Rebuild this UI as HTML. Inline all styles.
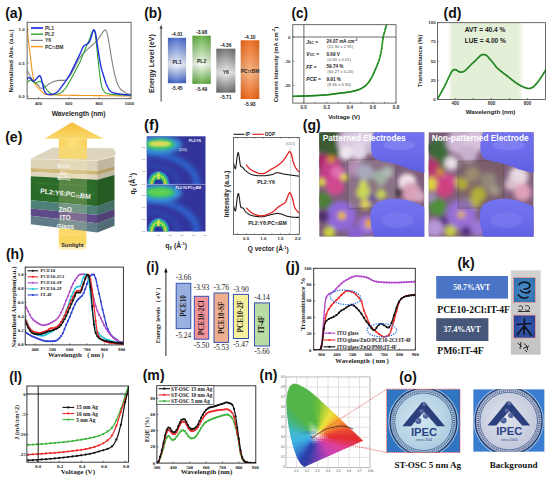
<!DOCTYPE html>
<html><head><meta charset="utf-8"><style>
html,body{margin:0;padding:0;background:#fff;width:550px;height:479px;overflow:hidden;}
svg{display:block;}

</style></head><body>
<svg width="550" height="479" viewBox="0 0 550 479"><defs><clipPath id="ca"><rect x="27.1" y="22.3" width="104.0" height="76.4"/></clipPath><linearGradient id="gb1" x1="0" y1="0" x2="0" y2="1"><stop offset="0" stop-color="#4468cc"/><stop offset="0.6" stop-color="#eef2fb"/><stop offset="1" stop-color="#3a5cc4"/></linearGradient><linearGradient id="gb2" x1="0" y1="0" x2="0" y2="1"><stop offset="0" stop-color="#5fae3e"/><stop offset="0.6" stop-color="#f2f9ec"/><stop offset="1" stop-color="#5aa83a"/></linearGradient><linearGradient id="gb3" x1="0" y1="0" x2="0" y2="1"><stop offset="0" stop-color="#6e6e6e"/><stop offset="0.55" stop-color="#ececec"/><stop offset="1" stop-color="#666666"/></linearGradient><linearGradient id="gb4" x1="0" y1="0" x2="0" y2="1"><stop offset="0" stop-color="#ef6616"/><stop offset="0.55" stop-color="#f8b07a"/><stop offset="1" stop-color="#ef5f10"/></linearGradient><linearGradient id="gbh" x1="0" y1="0" x2="1" y2="0"><stop offset="0" stop-color="#000" stop-opacity="0.10"/><stop offset="0.5" stop-color="#fff" stop-opacity="0.10"/><stop offset="1" stop-color="#000" stop-opacity="0.10"/></linearGradient><clipPath id="cc"><rect x="292.8" y="24.7" width="103.19999999999999" height="78.39999999999999"/></clipPath><clipPath id="cd"><rect x="437.4" y="22.7" width="108.20000000000005" height="76.8"/></clipPath><linearGradient id="gshade" x1="0" y1="0" x2="1" y2="0"><stop offset="0" stop-color="#e4efd8" stop-opacity="0"/><stop offset="0.06" stop-color="#e4efd8"/><stop offset="0.94" stop-color="#e4efd8"/><stop offset="1" stop-color="#e4efd8" stop-opacity="0"/></linearGradient><linearGradient id="garr" x1="0" y1="0" x2="0" y2="1"><stop offset="0" stop-color="#f5bf3c"/><stop offset="1" stop-color="#f9d86a"/></linearGradient><linearGradient id="gshaft" x1="0" y1="0" x2="1" y2="0"><stop offset="0" stop-color="#f9d35a"/><stop offset="0.5" stop-color="#fbe07a"/><stop offset="1" stop-color="#f9d35a"/></linearGradient><linearGradient id="gsun" x1="0" y1="0" x2="0" y2="1"><stop offset="0" stop-color="#f8d050"/><stop offset="0.75" stop-color="#fad860"/><stop offset="1" stop-color="#fde9a0" stop-opacity="0.4"/></linearGradient><filter id="blur1" x="-20%" y="-20%" width="140%" height="140%"><feGaussianBlur stdDeviation="1.2"/></filter><filter id="blur2" x="-20%" y="-20%" width="140%" height="140%"><feGaussianBlur stdDeviation="2.2"/></filter><filter id="blur05"><feGaussianBlur stdDeviation="0.6"/></filter><clipPath id="cf1"><rect x="146.8" y="136.3" width="58.69999999999999" height="48.099999999999994"/></clipPath><clipPath id="cf2"><rect x="146.8" y="184.4" width="58.69999999999999" height="47.0"/></clipPath><clipPath id="cfr"><rect x="233.5" y="137.4" width="65.80000000000001" height="97.1"/></clipPath><filter id="pblur" x="-10%" y="-10%" width="120%" height="120%"><feGaussianBlur stdDeviation="2.0"/></filter><filter id="pblur2" x="-10%" y="-10%" width="120%" height="120%"><feGaussianBlur stdDeviation="2.6"/></filter><filter id="gblur" x="-10%" y="-10%" width="120%" height="120%"><feGaussianBlur stdDeviation="0.5"/></filter><linearGradient id="glove" x1="0" y1="0" x2="0" y2="1"><stop offset="0" stop-color="#7474f0"/><stop offset="0.5" stop-color="#6c6cec"/><stop offset="1" stop-color="#5e5ee0"/></linearGradient><clipPath id="cg1"><rect x="319.2" y="132.2" width="105.2" height="104.5"/></clipPath><clipPath id="cg2"><rect x="428.5" y="132.2" width="105.2" height="104.5"/></clipPath><clipPath id="ch"><rect x="25.2" y="267.1" width="98.2" height="77.79999999999995"/></clipPath><clipPath id="cj"><rect x="313.7" y="268.3" width="101.60000000000002" height="81.69999999999999"/></clipPath><linearGradient id="gstrip" x1="0" y1="0" x2="0" y2="1"><stop offset="0" stop-color="#d2d2d0"/><stop offset="1" stop-color="#c4c4c2"/></linearGradient><radialGradient id="gsq1" cx="0.5" cy="0.5" r="0.7"><stop offset="0" stop-color="#4a90cc"/><stop offset="1" stop-color="#2c6aa8"/></radialGradient><radialGradient id="gsq2" cx="0.5" cy="0.5" r="0.7"><stop offset="0" stop-color="#3a62b8"/><stop offset="1" stop-color="#243e90"/></radialGradient><clipPath id="cl"><rect x="26.9" y="386.0" width="101.69999999999999" height="76.19999999999999"/></clipPath><clipPath id="cm"><rect x="156.9" y="385.8" width="98.9" height="77.30000000000001"/></clipPath><clipPath id="ccie"><path d="M304.28,466.90 L304.25,466.91 L304.20,466.92 L304.12,466.92 L304.00,466.89 L303.73,466.71 L303.26,466.30 L302.44,465.62 L301.12,464.42 L299.03,461.59 L297.51,458.68 L295.59,454.06 L293.21,447.23 L290.77,437.75 L288.47,425.92 L286.86,413.29 L286.41,401.59 L287.46,392.00 L290.08,385.79 L293.80,383.60 L297.99,384.37 L302.24,386.41 L306.25,388.85 L310.11,391.59 L313.91,394.61 L317.67,397.82 L321.42,401.18 L325.18,404.64 L328.91,408.15 L332.63,411.65 L336.27,415.12 L339.81,418.50 L343.20,421.73 L346.40,424.77 L349.30,427.55 L351.83,429.96 L354.06,432.08 L355.91,433.83 L357.41,435.27 L358.61,436.42 L359.56,437.32 L360.33,438.05 L360.97,438.67 L361.50,439.17 L361.91,439.56 L362.23,439.86 L362.47,440.09 L362.65,440.26 L363.14,440.74Z"/></clipPath><radialGradient id="gbadge1" cx="0.45" cy="0.45" r="0.6"><stop offset="0" stop-color="#d2e8f2"/><stop offset="1" stop-color="#a6c6dc"/></radialGradient><radialGradient id="gbadge2" cx="0.45" cy="0.45" r="0.6"><stop offset="0" stop-color="#e0e4ee"/><stop offset="1" stop-color="#bcc2d8"/></radialGradient><clipPath id="co1"><rect x="386.6" y="389.2" width="73.4" height="63.3"/></clipPath><clipPath id="co2"><rect x="473.2" y="389.2" width="71.4" height="62.6"/></clipPath></defs><text x="5.20" y="12.80" font-size="14.2" font-weight="bold" fill="#111" font-family='"Liberation Sans", sans-serif' dominant-baseline="central" textLength="17.20" lengthAdjust="spacingAndGlyphs">(a)</text>
<path d="M26.80,69.03 L27.33,70.39 L27.85,71.66 L28.38,72.83 L28.90,73.91 L29.42,74.93 L29.95,75.88 L30.47,76.78 L31.00,77.62 L31.52,78.41 L32.05,79.16 L32.57,79.88 L33.10,80.55 L33.62,81.18 L34.14,81.76 L34.67,82.28 L35.19,82.76 L35.72,83.21 L36.24,83.64 L36.77,84.07 L37.29,84.51 L37.82,84.97 L38.34,85.51 L38.86,86.15 L39.39,86.82 L39.91,87.44 L40.44,87.94 L40.96,88.25 L41.49,88.32 L42.01,88.25 L42.54,88.13 L43.06,87.96 L43.58,87.77 L44.11,87.56 L44.63,87.25 L45.16,86.84 L45.68,86.40 L46.21,85.97 L46.73,85.58 L47.26,85.21 L47.78,84.84 L48.30,84.48 L48.83,84.12 L49.35,83.78 L49.88,83.46 L50.40,83.16 L50.93,82.89 L51.45,82.62 L51.98,82.36 L52.50,82.11 L53.02,81.87 L53.55,81.65 L54.07,81.45 L54.60,81.27 L55.12,81.11 L55.65,80.98 L56.17,80.86 L56.70,80.75 L57.22,80.64 L57.74,80.54 L58.27,80.45 L58.79,80.39 L59.32,80.35 L59.84,80.34 L60.37,80.34 L60.89,80.34 L61.42,80.34 L61.94,80.34 L62.46,80.34 L62.99,80.34 L63.51,80.34 L64.04,80.34 L64.56,80.32 L65.09,80.19 L65.61,79.94 L66.14,79.60 L66.66,79.18 L67.18,78.70 L67.71,78.18 L68.23,77.64 L68.76,77.11 L69.28,76.54 L69.81,75.88 L70.33,75.12 L70.86,74.29 L71.38,73.40 L71.90,72.46 L72.43,71.50 L72.95,70.53 L73.48,69.57 L74.00,68.62 L74.53,67.68 L75.05,66.68 L75.57,65.64 L76.10,64.57 L76.62,63.48 L77.15,62.41 L77.67,61.35 L78.20,60.34 L78.72,59.37 L79.25,58.49 L79.77,57.69 L80.29,56.95 L80.82,56.25 L81.34,55.59 L81.87,54.95 L82.39,54.34 L82.92,53.75 L83.44,53.18 L83.97,52.63 L84.49,52.09 L85.01,51.55 L85.54,51.03 L86.06,50.52 L86.59,50.03 L87.11,49.56 L87.64,49.11 L88.16,48.66 L88.69,48.22 L89.21,47.79 L89.73,47.35 L90.26,46.90 L90.78,46.44 L91.31,45.97 L91.83,45.49 L92.36,45.00 L92.88,44.52 L93.41,44.04 L93.93,43.55 L94.45,43.06 L94.98,42.55 L95.50,42.03 L96.03,41.50 L96.55,40.94 L97.08,40.36 L97.60,39.76 L98.13,39.11 L98.65,38.41 L99.17,37.68 L99.70,36.92 L100.22,36.14 L100.75,35.36 L101.27,34.59 L101.80,33.81 L102.32,32.98 L102.85,32.17 L103.37,31.44 L103.89,30.84 L104.42,30.23 L104.94,29.84 L105.47,29.92 L105.99,30.55 L106.52,31.51 L107.04,32.85 L107.57,35.06 L108.09,37.75 L108.61,40.49 L109.14,43.53 L109.66,46.84 L110.19,50.18 L110.71,53.36 L111.24,56.55 L111.76,59.70 L112.29,62.73 L112.81,65.55 L113.33,68.25 L113.86,70.85 L114.38,73.29 L114.91,75.49 L115.43,77.44 L115.96,79.27 L116.48,80.99 L117.01,82.55 L117.53,83.93 L118.05,85.09 L118.58,86.12 L119.10,87.06 L119.63,87.91 L120.15,88.65 L120.68,89.29 L121.20,89.80 L121.73,90.22 L122.25,90.57 L122.77,90.89 L123.30,91.21 L123.82,91.57 L124.35,91.96 L124.87,92.36 L125.40,92.75 L125.92,93.11 L126.45,93.40 L126.97,93.61 L127.49,93.75 L128.02,93.88 L128.54,93.99 L129.07,94.10 L129.59,94.18 L130.12,94.25 L130.64,94.29 L131.16,94.30" fill="none" stroke="#808080" stroke-width="1.1" stroke-linejoin="round" stroke-linecap="round" opacity="1" clip-path="url(#ca)" />
<path d="M26.80,23.15 L27.33,29.23 L27.85,34.84 L28.38,39.91 L28.90,44.56 L29.42,48.94 L29.95,52.99 L30.47,56.87 L31.00,61.30 L31.52,66.18 L32.05,70.67 L32.57,73.98 L33.10,76.69 L33.62,79.07 L34.14,81.07 L34.67,82.64 L35.19,83.80 L35.72,84.78 L36.24,85.61 L36.77,86.34 L37.29,87.00 L37.82,87.62 L38.34,88.21 L38.86,88.74 L39.39,89.23 L39.91,89.69 L40.44,90.15 L40.96,90.63 L41.49,91.15 L42.01,91.74 L42.54,92.37 L43.06,92.96 L43.58,93.44 L44.11,93.76 L44.63,94.02 L45.16,94.25 L45.68,94.44 L46.21,94.58 L46.73,94.65 L47.26,94.69 L47.78,94.73 L48.30,94.77 L48.83,94.80 L49.35,94.82 L49.88,94.85 L50.40,94.87 L50.93,94.89 L51.45,94.90 L51.98,94.92 L52.50,94.93 L53.02,94.95 L53.55,94.96 L54.07,94.98 L54.60,95.00 L55.12,95.01 L55.65,95.03 L56.17,95.04 L56.70,95.06 L57.22,95.07 L57.74,95.08 L58.27,95.10 L58.79,95.11 L59.32,95.12 L59.84,95.13 L60.37,95.15 L60.89,95.16 L61.42,95.17 L61.94,95.18 L62.46,95.19 L62.99,95.20 L63.51,95.21 L64.04,95.22 L64.56,95.23 L65.09,95.24 L65.61,95.25 L66.14,95.26 L66.66,95.27 L67.18,95.28 L67.71,95.28 L68.23,95.29 L68.76,95.30 L69.28,95.31 L69.81,95.32 L70.33,95.32 L70.86,95.33 L71.38,95.34 L71.90,95.35 L72.43,95.35 L72.95,95.36 L73.48,95.37 L74.00,95.37 L74.53,95.38 L75.05,95.39 L75.57,95.39 L76.10,95.40 L76.62,95.41 L77.15,95.41 L77.67,95.42 L78.20,95.42 L78.72,95.43 L79.25,95.44 L79.77,95.44 L80.29,95.45 L80.82,95.45 L81.34,95.46 L81.87,95.46 L82.39,95.47 L82.92,95.48 L83.44,95.48 L83.97,95.49 L84.49,95.49 L85.01,95.50 L85.54,95.50 L86.06,95.51 L86.59,95.51 L87.11,95.52 L87.64,95.52 L88.16,95.53 L88.69,95.53 L89.21,95.54 L89.73,95.54 L90.26,95.55 L90.78,95.55 L91.31,95.56 L91.83,95.56 L92.36,95.57 L92.88,95.57 L93.41,95.58 L93.93,95.58 L94.45,95.59 L94.98,95.59 L95.50,95.60 L96.03,95.60 L96.55,95.61 L97.08,95.61 L97.60,95.62 L98.13,95.62 L98.65,95.63 L99.17,95.64 L99.70,95.64 L100.22,95.65 L100.75,95.65 L101.27,95.66 L101.80,95.66 L102.32,95.67 L102.85,95.67 L103.37,95.68 L103.89,95.69 L104.42,95.69 L104.94,95.70 L105.47,95.70 L105.99,95.71 L106.52,95.71 L107.04,95.72 L107.57,95.72 L108.09,95.73 L108.61,95.74 L109.14,95.74 L109.66,95.75 L110.19,95.75 L110.71,95.76 L111.24,95.76 L111.76,95.77 L112.29,95.77 L112.81,95.78 L113.33,95.79 L113.86,95.79 L114.38,95.80 L114.91,95.80 L115.43,95.81 L115.96,95.81 L116.48,95.82 L117.01,95.82 L117.53,95.83 L118.05,95.83 L118.58,95.84 L119.10,95.84 L119.63,95.85 L120.15,95.86 L120.68,95.86 L121.20,95.87 L121.73,95.87 L122.25,95.88 L122.77,95.88 L123.30,95.89 L123.82,95.89 L124.35,95.90 L124.87,95.90 L125.40,95.91 L125.92,95.91 L126.45,95.92 L126.97,95.93 L127.49,95.93 L128.02,95.94 L128.54,95.94 L129.07,95.95 L129.59,95.95 L130.12,95.96 L130.64,95.96 L131.16,95.97" fill="none" stroke="#f7941d" stroke-width="1.1" stroke-linejoin="round" stroke-linecap="round" opacity="1" clip-path="url(#ca)" />
<path d="M26.80,83.00 L27.33,82.37 L27.85,81.80 L28.38,81.31 L28.90,80.91 L29.42,80.52 L29.95,80.19 L30.47,80.01 L31.00,80.11 L31.52,80.47 L32.05,80.94 L32.57,81.35 L33.10,81.75 L33.62,82.20 L34.14,82.61 L34.67,82.91 L35.19,83.00 L35.72,82.91 L36.24,82.72 L36.77,82.48 L37.29,82.23 L37.82,82.01 L38.34,81.82 L38.86,81.60 L39.39,81.40 L39.91,81.26 L40.44,81.20 L40.96,81.42 L41.49,81.92 L42.01,82.56 L42.54,83.18 L43.06,83.90 L43.58,84.72 L44.11,85.60 L44.63,86.48 L45.16,87.30 L45.68,88.04 L46.21,88.78 L46.73,89.52 L47.26,90.24 L47.78,90.91 L48.30,91.51 L48.83,92.02 L49.35,92.43 L49.88,92.80 L50.40,93.16 L50.93,93.49 L51.45,93.77 L51.98,93.98 L52.50,94.13 L53.02,94.19 L53.55,94.23 L54.07,94.26 L54.60,94.29 L55.12,94.30 L55.65,94.30 L56.17,94.27 L56.70,94.21 L57.22,94.10 L57.74,93.97 L58.27,93.82 L58.79,93.65 L59.32,93.47 L59.84,93.28 L60.37,93.05 L60.89,92.74 L61.42,92.37 L61.94,91.96 L62.46,91.49 L62.99,91.00 L63.51,90.48 L64.04,89.94 L64.56,89.38 L65.09,88.75 L65.61,88.06 L66.14,87.31 L66.66,86.50 L67.18,85.66 L67.71,84.79 L68.23,83.89 L68.76,82.98 L69.28,82.08 L69.81,81.18 L70.33,80.28 L70.86,79.35 L71.38,78.40 L71.90,77.42 L72.43,76.43 L72.95,75.43 L73.48,74.43 L74.00,73.42 L74.53,72.41 L75.05,71.41 L75.57,70.42 L76.10,69.44 L76.62,68.46 L77.15,67.48 L77.67,66.49 L78.20,65.48 L78.72,64.45 L79.25,63.39 L79.77,62.30 L80.29,61.17 L80.82,59.98 L81.34,58.74 L81.87,57.47 L82.39,56.16 L82.92,54.84 L83.44,53.51 L83.97,52.18 L84.49,50.86 L85.01,49.57 L85.54,48.30 L86.06,47.06 L86.59,45.84 L87.11,44.64 L87.64,43.43 L88.16,42.23 L88.69,41.01 L89.21,39.77 L89.73,38.50 L90.26,37.17 L90.78,35.72 L91.31,34.22 L91.83,32.83 L92.36,31.67 L92.88,30.53 L93.41,29.82 L93.93,30.04 L94.45,30.88 L94.98,32.15 L95.50,35.32 L96.03,39.95 L96.55,44.66 L97.08,49.88 L97.60,55.40 L98.13,60.50 L98.65,65.25 L99.17,69.80 L99.70,74.05 L100.22,77.91 L100.75,81.58 L101.27,84.57 L101.80,86.67 L102.32,88.37 L102.85,89.59 L103.37,90.44 L103.89,91.19 L104.42,91.82 L104.94,92.34 L105.47,92.74 L105.99,93.01 L106.52,93.22 L107.04,93.42 L107.57,93.59 L108.09,93.74 L108.61,93.87 L109.14,93.99 L109.66,94.09 L110.19,94.17 L110.71,94.25 L111.24,94.31 L111.76,94.36 L112.29,94.41 L112.81,94.46 L113.33,94.51 L113.86,94.55 L114.38,94.59 L114.91,94.62 L115.43,94.66 L115.96,94.69 L116.48,94.72 L117.01,94.75 L117.53,94.78 L118.05,94.80 L118.58,94.83 L119.10,94.85 L119.63,94.87 L120.15,94.90 L120.68,94.92 L121.20,94.94 L121.73,94.97 L122.25,94.99 L122.77,95.01 L123.30,95.04 L123.82,95.06 L124.35,95.08 L124.87,95.10 L125.40,95.12 L125.92,95.14 L126.45,95.16 L126.97,95.18 L127.49,95.20 L128.02,95.22 L128.54,95.23 L129.07,95.25 L129.59,95.26 L130.12,95.28 L130.64,95.29 L131.16,95.30" fill="none" stroke="#2ca02c" stroke-width="1.1" stroke-linejoin="round" stroke-linecap="round" opacity="1" clip-path="url(#ca)" />
<path d="M26.80,79.67 L27.33,78.73 L27.85,78.02 L28.38,77.69 L28.90,77.74 L29.42,77.92 L29.95,78.17 L30.47,78.46 L31.00,78.96 L31.52,79.61 L32.05,80.29 L32.57,80.85 L33.10,81.17 L33.62,81.16 L34.14,80.94 L34.67,80.58 L35.19,80.11 L35.72,79.60 L36.24,79.09 L36.77,78.54 L37.29,77.86 L37.82,77.17 L38.34,76.57 L38.86,76.15 L39.39,75.80 L39.91,75.71 L40.44,76.38 L40.96,77.55 L41.49,79.16 L42.01,81.39 L42.54,83.67 L43.06,86.18 L43.58,88.56 L44.11,90.27 L44.63,91.65 L45.16,92.67 L45.68,93.23 L46.21,93.64 L46.73,93.96 L47.26,94.19 L47.78,94.33 L48.30,94.42 L48.83,94.50 L49.35,94.55 L49.88,94.57 L50.40,94.56 L50.93,94.54 L51.45,94.49 L51.98,94.44 L52.50,94.37 L53.02,94.30 L53.55,94.17 L54.07,93.98 L54.60,93.72 L55.12,93.42 L55.65,93.08 L56.17,92.72 L56.70,92.35 L57.22,91.94 L57.74,91.47 L58.27,90.93 L58.79,90.34 L59.32,89.71 L59.84,89.03 L60.37,88.34 L60.89,87.62 L61.42,86.89 L61.94,86.17 L62.46,85.45 L62.99,84.74 L63.51,84.04 L64.04,83.32 L64.56,82.60 L65.09,81.86 L65.61,81.11 L66.14,80.35 L66.66,79.57 L67.18,78.78 L67.71,77.97 L68.23,77.14 L68.76,76.29 L69.28,75.42 L69.81,74.53 L70.33,73.61 L70.86,72.64 L71.38,71.63 L71.90,70.58 L72.43,69.51 L72.95,68.42 L73.48,67.33 L74.00,66.23 L74.53,65.15 L75.05,64.07 L75.57,63.00 L76.10,61.92 L76.62,60.83 L77.15,59.74 L77.67,58.65 L78.20,57.56 L78.72,56.47 L79.25,55.38 L79.77,54.30 L80.29,53.21 L80.82,52.01 L81.34,50.75 L81.87,49.50 L82.39,48.31 L82.92,47.25 L83.44,46.38 L83.97,45.77 L84.49,45.37 L85.01,45.06 L85.54,44.80 L86.06,44.53 L86.59,44.24 L87.11,43.99 L87.64,43.72 L88.16,43.39 L88.69,42.92 L89.21,42.13 L89.73,41.05 L90.26,39.78 L90.78,38.44 L91.31,36.77 L91.83,34.75 L92.36,32.86 L92.88,31.50 L93.41,30.37 L93.93,29.80 L94.45,30.27 L94.98,31.48 L95.50,33.14 L96.03,36.16 L96.55,39.89 L97.08,43.34 L97.60,46.79 L98.13,50.28 L98.65,53.67 L99.17,56.83 L99.70,59.87 L100.22,62.82 L100.75,65.55 L101.27,67.97 L101.80,70.01 L102.32,71.81 L102.85,73.46 L103.37,75.06 L103.89,76.68 L104.42,78.39 L104.94,80.11 L105.47,81.78 L105.99,83.32 L106.52,84.67 L107.04,85.82 L107.57,86.93 L108.09,87.99 L108.61,88.96 L109.14,89.83 L109.66,90.55 L110.19,91.11 L110.71,91.49 L111.24,91.81 L111.76,92.09 L112.29,92.33 L112.81,92.54 L113.33,92.72 L113.86,92.87 L114.38,93.02 L114.91,93.15 L115.43,93.27 L115.96,93.39 L116.48,93.50 L117.01,93.61 L117.53,93.71 L118.05,93.80 L118.58,93.89 L119.10,93.97 L119.63,94.04 L120.15,94.12 L120.68,94.18 L121.20,94.24 L121.73,94.30 L122.25,94.35 L122.77,94.41 L123.30,94.46 L123.82,94.51 L124.35,94.56 L124.87,94.61 L125.40,94.65 L125.92,94.70 L126.45,94.74 L126.97,94.78 L127.49,94.82 L128.02,94.85 L128.54,94.88 L129.07,94.91 L129.59,94.93 L130.12,94.95 L130.64,94.96 L131.16,94.97" fill="none" stroke="#1f2fe0" stroke-width="1.4" stroke-linejoin="round" stroke-linecap="round" opacity="1" clip-path="url(#ca)" />
<rect x="27.10" y="22.30" width="104.00" height="76.40" fill="none" stroke="#555" stroke-width="0.9" />
<line x1="38.60" y1="98.70" x2="38.60" y2="97.20" stroke="#333" stroke-width="0.6" />
<line x1="68.85" y1="98.70" x2="68.85" y2="97.20" stroke="#333" stroke-width="0.6" />
<line x1="99.10" y1="98.70" x2="99.10" y2="97.20" stroke="#333" stroke-width="0.6" />
<line x1="129.35" y1="98.70" x2="129.35" y2="97.20" stroke="#333" stroke-width="0.6" />
<line x1="27.10" y1="96.30" x2="28.60" y2="96.30" stroke="#333" stroke-width="0.6" />
<line x1="27.10" y1="63.05" x2="28.60" y2="63.05" stroke="#333" stroke-width="0.6" />
<line x1="27.10" y1="29.80" x2="28.60" y2="29.80" stroke="#333" stroke-width="0.6" />
<text x="38.60" y="103.80" font-size="4.4" font-weight="bold" text-anchor="middle" fill="#333" font-family='"Liberation Sans", sans-serif' dominant-baseline="central" >400</text>
<text x="68.85" y="103.80" font-size="4.4" font-weight="bold" text-anchor="middle" fill="#333" font-family='"Liberation Sans", sans-serif' dominant-baseline="central" >600</text>
<text x="99.10" y="103.80" font-size="4.4" font-weight="bold" text-anchor="middle" fill="#333" font-family='"Liberation Sans", sans-serif' dominant-baseline="central" >800</text>
<text x="129.35" y="103.80" font-size="4.4" font-weight="bold" text-anchor="middle" fill="#333" font-family='"Liberation Sans", sans-serif' dominant-baseline="central" >1000</text>
<text x="24.60" y="96.30" font-size="4.4" font-weight="bold" text-anchor="end" fill="#333" font-family='"Liberation Sans", sans-serif' dominant-baseline="central" >0.0</text>
<text x="24.60" y="63.05" font-size="4.4" font-weight="bold" text-anchor="end" fill="#333" font-family='"Liberation Sans", sans-serif' dominant-baseline="central" >0.5</text>
<text x="24.60" y="29.80" font-size="4.4" font-weight="bold" text-anchor="end" fill="#333" font-family='"Liberation Sans", sans-serif' dominant-baseline="central" >1.0</text>
<text x="78.60" y="113.50" font-size="6.7" font-weight="bold" text-anchor="middle" fill="#222" font-family='"Liberation Sans", sans-serif' dominant-baseline="central" >Wavelength (nm)</text>
<text x="10.50" y="61.00" font-size="6.0" font-weight="bold" text-anchor="middle" fill="#222" font-family='"Liberation Sans", sans-serif' dominant-baseline="central" transform="rotate(-90 10.5 61)" >Normalized Abs. (a.u.)</text>
<line x1="31.00" y1="28.00" x2="43.00" y2="28.00" stroke="#1f2fe0" stroke-width="1.7" />
<text x="44.90" y="28.00" font-size="5.0" font-weight="bold" text-anchor="start" fill="#333" font-family='"Liberation Sans", sans-serif' dominant-baseline="central" >PL1</text>
<line x1="31.00" y1="34.20" x2="43.00" y2="34.20" stroke="#2ca02c" stroke-width="1.4000000000000001" />
<text x="44.90" y="34.20" font-size="5.0" font-weight="bold" text-anchor="start" fill="#333" font-family='"Liberation Sans", sans-serif' dominant-baseline="central" >PL2</text>
<line x1="31.00" y1="40.40" x2="43.00" y2="40.40" stroke="#7f7f7f" stroke-width="1.2" />
<text x="44.90" y="40.40" font-size="5.0" font-weight="bold" text-anchor="start" fill="#333" font-family='"Liberation Sans", sans-serif' dominant-baseline="central" >Y6</text>
<line x1="31.00" y1="46.60" x2="43.00" y2="46.60" stroke="#f7941d" stroke-width="1.4000000000000001" />
<text x="44.90" y="46.60" font-size="5.0" font-weight="bold" text-anchor="start" fill="#333" font-family='"Liberation Sans", sans-serif' dominant-baseline="central" >PC<tspan font-size="3.5" dy="1">71</tspan><tspan dy="-1">BM</tspan></text>
<text x="144.20" y="12.80" font-size="14.2" font-weight="bold" fill="#111" font-family='"Liberation Sans", sans-serif' dominant-baseline="central" textLength="17.60" lengthAdjust="spacingAndGlyphs">(b)</text>
<line x1="161.10" y1="101.60" x2="161.10" y2="27.50" stroke="#444" stroke-width="1.0" />
<path d="M161.1,24.8 L159.5,28.8 L162.7,28.8Z" fill="#444"/>
<text x="151.60" y="63.60" font-size="7.0" font-weight="bold" text-anchor="middle" fill="#222" font-family='"Liberation Sans", sans-serif' dominant-baseline="central" transform="rotate(-90 151.6 63.6)" >Energy Level (eV)</text>
<rect x="167.90" y="37.80" width="18.20" height="45.40" fill="url(#gb1)" stroke="none" stroke-width="1" />
<rect x="167.90" y="37.80" width="18.20" height="45.40" fill="url(#gbh)" stroke="none" stroke-width="1" />
<text x="177.00" y="34.50" font-size="4.9" font-weight="bold" text-anchor="middle" fill="#222" font-family='"Liberation Sans", sans-serif' dominant-baseline="central" >-4.01</text>
<text x="177.00" y="88.40" font-size="4.9" font-weight="bold" text-anchor="middle" fill="#222" font-family='"Liberation Sans", sans-serif' dominant-baseline="central" >-5.45</text>
<text x="177.00" y="62.00" font-size="5.0" font-weight="bold" text-anchor="middle" fill="#2a2a2a" font-family='"Liberation Sans", sans-serif' dominant-baseline="central" >PL1</text>
<rect x="192.40" y="35.70" width="18.40" height="48.20" fill="url(#gb2)" stroke="none" stroke-width="1" />
<rect x="192.40" y="35.70" width="18.40" height="48.20" fill="url(#gbh)" stroke="none" stroke-width="1" />
<text x="201.60" y="32.40" font-size="4.9" font-weight="bold" text-anchor="middle" fill="#222" font-family='"Liberation Sans", sans-serif' dominant-baseline="central" >-3.98</text>
<text x="201.60" y="89.10" font-size="4.9" font-weight="bold" text-anchor="middle" fill="#222" font-family='"Liberation Sans", sans-serif' dominant-baseline="central" >-5.49</text>
<text x="201.60" y="61.30" font-size="5.0" font-weight="bold" text-anchor="middle" fill="#2a2a2a" font-family='"Liberation Sans", sans-serif' dominant-baseline="central" >PL2</text>
<rect x="216.30" y="48.70" width="19.10" height="43.90" fill="url(#gb3)" stroke="none" stroke-width="1" />
<rect x="216.30" y="48.70" width="19.10" height="43.90" fill="url(#gbh)" stroke="none" stroke-width="1" />
<text x="225.85" y="45.40" font-size="4.9" font-weight="bold" text-anchor="middle" fill="#222" font-family='"Liberation Sans", sans-serif' dominant-baseline="central" >-4.36</text>
<text x="225.85" y="97.80" font-size="4.9" font-weight="bold" text-anchor="middle" fill="#222" font-family='"Liberation Sans", sans-serif' dominant-baseline="central" >-5.71</text>
<text x="225.85" y="72.15" font-size="5.0" font-weight="bold" text-anchor="middle" fill="#2a2a2a" font-family='"Liberation Sans", sans-serif' dominant-baseline="central" >Y6</text>
<rect x="240.70" y="40.30" width="18.60" height="58.70" fill="url(#gb4)" stroke="none" stroke-width="1" />
<rect x="240.70" y="40.30" width="18.60" height="58.70" fill="url(#gbh)" stroke="none" stroke-width="1" />
<text x="250.00" y="37.00" font-size="4.9" font-weight="bold" text-anchor="middle" fill="#222" font-family='"Liberation Sans", sans-serif' dominant-baseline="central" >-4.10</text>
<text x="250.00" y="104.20" font-size="4.9" font-weight="bold" text-anchor="middle" fill="#222" font-family='"Liberation Sans", sans-serif' dominant-baseline="central" >-5.93</text>
<text x="250.00" y="71.15" font-size="5.0" font-weight="bold" text-anchor="middle" fill="#2a2a2a" font-family='"Liberation Sans", sans-serif' dominant-baseline="central" >PC<tspan font-size="3.6" dy="1">71</tspan><tspan dy="-1">BM</tspan></text>
<text x="291.40" y="12.80" font-size="14.2" font-weight="bold" fill="#111" font-family='"Liberation Sans", sans-serif' dominant-baseline="central" textLength="16.50" lengthAdjust="spacingAndGlyphs">(c)</text>
<path d="M292.16,96.29 L292.64,96.29 L293.11,96.28 L293.59,96.27 L294.06,96.27 L294.54,96.26 L295.01,96.25 L295.49,96.24 L295.96,96.24 L296.44,96.23 L296.92,96.22 L297.39,96.21 L297.87,96.20 L298.34,96.19 L298.82,96.18 L299.29,96.16 L299.77,96.15 L300.24,96.14 L300.72,96.13 L301.19,96.12 L301.67,96.10 L302.15,96.09 L302.62,96.08 L303.10,96.07 L303.57,96.05 L304.05,96.04 L304.52,96.02 L305.00,96.01 L305.47,95.99 L305.95,95.98 L306.43,95.96 L306.90,95.94 L307.38,95.92 L307.85,95.91 L308.33,95.89 L308.80,95.87 L309.28,95.85 L309.75,95.83 L310.23,95.80 L310.71,95.78 L311.18,95.76 L311.66,95.74 L312.13,95.72 L312.61,95.69 L313.08,95.67 L313.56,95.65 L314.03,95.62 L314.51,95.60 L314.98,95.58 L315.46,95.55 L315.94,95.53 L316.41,95.50 L316.89,95.48 L317.36,95.45 L317.84,95.43 L318.31,95.40 L318.79,95.38 L319.26,95.35 L319.74,95.32 L320.22,95.29 L320.69,95.27 L321.17,95.24 L321.64,95.21 L322.12,95.18 L322.59,95.15 L323.07,95.11 L323.54,95.08 L324.02,95.05 L324.50,95.01 L324.97,94.98 L325.45,94.94 L325.92,94.90 L326.40,94.87 L326.87,94.83 L327.35,94.78 L327.82,94.74 L328.30,94.69 L328.77,94.64 L329.25,94.59 L329.73,94.53 L330.20,94.47 L330.68,94.41 L331.15,94.35 L331.63,94.29 L332.10,94.23 L332.58,94.16 L333.05,94.10 L333.53,94.03 L334.01,93.96 L334.48,93.90 L334.96,93.83 L335.43,93.76 L335.91,93.70 L336.38,93.63 L336.86,93.57 L337.33,93.50 L337.81,93.44 L338.29,93.38 L338.76,93.32 L339.24,93.26 L339.71,93.21 L340.19,93.15 L340.66,93.10 L341.14,93.04 L341.61,92.99 L342.09,92.94 L342.56,92.89 L343.04,92.83 L343.52,92.78 L343.99,92.73 L344.47,92.67 L344.94,92.61 L345.42,92.56 L345.89,92.50 L346.37,92.44 L346.84,92.38 L347.32,92.31 L347.80,92.24 L348.27,92.17 L348.75,92.10 L349.22,92.03 L349.70,91.95 L350.17,91.86 L350.65,91.78 L351.12,91.69 L351.60,91.59 L352.08,91.50 L352.55,91.39 L353.03,91.29 L353.50,91.18 L353.98,91.06 L354.45,90.94 L354.93,90.82 L355.40,90.69 L355.88,90.55 L356.35,90.41 L356.83,90.27 L357.31,90.11 L357.78,89.96 L358.26,89.79 L358.73,89.62 L359.21,89.44 L359.68,89.25 L360.16,89.04 L360.63,88.81 L361.11,88.57 L361.59,88.30 L362.06,88.03 L362.54,87.73 L363.01,87.42 L363.49,87.10 L363.96,86.76 L364.44,86.41 L364.91,86.05 L365.39,85.66 L365.87,85.24 L366.34,84.79 L366.82,84.30 L367.29,83.79 L367.77,83.25 L368.24,82.68 L368.72,82.08 L369.19,81.45 L369.67,80.80 L370.14,80.09 L370.62,79.30 L371.10,78.44 L371.57,77.53 L372.05,76.58 L372.52,75.59 L373.00,74.58 L373.47,73.56 L373.95,72.54 L374.42,71.53 L374.90,70.49 L375.38,69.43 L375.85,68.34 L376.33,67.22 L376.80,66.08 L377.28,64.91 L377.75,63.72 L378.23,62.55 L378.70,61.33 L379.18,59.97 L379.66,58.39 L380.13,56.53 L380.61,54.39 L381.08,52.00 L381.56,49.37 L382.03,46.03 L382.51,42.00 L382.98,38.33 L383.46,35.84 L383.93,33.99 L384.41,32.40 L384.89,30.82 L385.36,29.06 L385.84,27.26 L386.31,25.46 L386.79,23.63" fill="none" stroke="#2a9a2a" stroke-width="1.7" stroke-linejoin="round" stroke-linecap="round" opacity="1" clip-path="url(#cc)" />
<g fill="#1e7e1e" clip-path="url(#cc)"><circle cx="292.16" cy="96.29" r="0.75"/><circle cx="293.44" cy="96.28" r="0.75"/><circle cx="294.72" cy="96.26" r="0.75"/><circle cx="296.00" cy="96.24" r="0.75"/><circle cx="297.28" cy="96.21" r="0.75"/><circle cx="298.55" cy="96.18" r="0.75"/><circle cx="299.83" cy="96.15" r="0.75"/><circle cx="301.11" cy="96.12" r="0.75"/><circle cx="302.39" cy="96.09" r="0.75"/><circle cx="303.67" cy="96.05" r="0.75"/><circle cx="304.95" cy="96.01" r="0.75"/><circle cx="306.23" cy="95.97" r="0.75"/><circle cx="307.51" cy="95.92" r="0.75"/><circle cx="308.78" cy="95.87" r="0.75"/><circle cx="310.06" cy="95.81" r="0.75"/><circle cx="311.34" cy="95.75" r="0.75"/><circle cx="312.62" cy="95.69" r="0.75"/><circle cx="313.90" cy="95.63" r="0.75"/><circle cx="315.18" cy="95.57" r="0.75"/><circle cx="316.46" cy="95.50" r="0.75"/><circle cx="317.74" cy="95.43" r="0.75"/><circle cx="319.01" cy="95.36" r="0.75"/><circle cx="320.29" cy="95.29" r="0.75"/><circle cx="321.57" cy="95.21" r="0.75"/><circle cx="322.85" cy="95.13" r="0.75"/><circle cx="324.13" cy="95.04" r="0.75"/><circle cx="325.41" cy="94.94" r="0.75"/><circle cx="326.69" cy="94.84" r="0.75"/><circle cx="327.97" cy="94.72" r="0.75"/><circle cx="329.24" cy="94.59" r="0.75"/><circle cx="330.52" cy="94.43" r="0.75"/><circle cx="331.80" cy="94.27" r="0.75"/><circle cx="333.08" cy="94.09" r="0.75"/><circle cx="334.36" cy="93.91" r="0.75"/><circle cx="335.64" cy="93.74" r="0.75"/><circle cx="336.92" cy="93.56" r="0.75"/><circle cx="338.20" cy="93.39" r="0.75"/><circle cx="339.47" cy="93.24" r="0.75"/><circle cx="340.75" cy="93.09" r="0.75"/><circle cx="342.03" cy="92.94" r="0.75"/><circle cx="343.31" cy="92.80" r="0.75"/><circle cx="344.59" cy="92.66" r="0.75"/><circle cx="345.87" cy="92.50" r="0.75"/><circle cx="347.15" cy="92.33" r="0.75"/><circle cx="348.43" cy="92.15" r="0.75"/><circle cx="349.70" cy="91.94" r="0.75"/><circle cx="350.98" cy="91.71" r="0.75"/><circle cx="352.26" cy="91.46" r="0.75"/><circle cx="353.54" cy="91.17" r="0.75"/><circle cx="354.82" cy="90.85" r="0.75"/><circle cx="356.10" cy="90.49" r="0.75"/><circle cx="357.38" cy="90.09" r="0.75"/><circle cx="358.66" cy="89.65" r="0.75"/><circle cx="359.93" cy="89.14" r="0.75"/><circle cx="361.21" cy="88.51" r="0.75"/><circle cx="362.49" cy="87.76" r="0.75"/><circle cx="363.77" cy="86.90" r="0.75"/><circle cx="365.05" cy="85.94" r="0.75"/><circle cx="366.33" cy="84.80" r="0.75"/><circle cx="367.61" cy="83.44" r="0.75"/><circle cx="368.89" cy="81.86" r="0.75"/><circle cx="370.16" cy="80.06" r="0.75"/><circle cx="371.44" cy="77.78" r="0.75"/><circle cx="372.72" cy="75.17" r="0.75"/><circle cx="374.00" cy="72.43" r="0.75"/><circle cx="375.28" cy="69.65" r="0.75"/><circle cx="376.56" cy="66.67" r="0.75"/><circle cx="377.84" cy="63.52" r="0.75"/><circle cx="379.12" cy="60.16" r="0.75"/><circle cx="380.39" cy="55.38" r="0.75"/><circle cx="381.67" cy="48.67" r="0.75"/><circle cx="382.95" cy="38.54" r="0.75"/><circle cx="384.23" cy="32.99" r="0.75"/><circle cx="385.51" cy="28.50" r="0.75"/><circle cx="386.79" cy="23.63" r="0.75"/></g>
<line x1="292.80" y1="37.00" x2="396.00" y2="37.00" stroke="#444" stroke-width="0.8" />
<line x1="303.90" y1="24.70" x2="303.90" y2="103.10" stroke="#444" stroke-width="0.8" />
<rect x="292.80" y="24.70" width="103.20" height="78.40" fill="none" stroke="#444" stroke-width="0.8" />
<text x="303.70" y="107.40" font-size="4.6" font-weight="bold" text-anchor="middle" fill="#333" font-family='"Liberation Sans", sans-serif' dominant-baseline="central" >0.0</text>
<text x="326.78" y="107.40" font-size="4.6" font-weight="bold" text-anchor="middle" fill="#333" font-family='"Liberation Sans", sans-serif' dominant-baseline="central" >0.2</text>
<text x="349.86" y="107.40" font-size="4.6" font-weight="bold" text-anchor="middle" fill="#333" font-family='"Liberation Sans", sans-serif' dominant-baseline="central" >0.4</text>
<text x="372.94" y="107.40" font-size="4.6" font-weight="bold" text-anchor="middle" fill="#333" font-family='"Liberation Sans", sans-serif' dominant-baseline="central" >0.6</text>
<text x="396.02" y="107.40" font-size="4.6" font-weight="bold" text-anchor="middle" fill="#333" font-family='"Liberation Sans", sans-serif' dominant-baseline="central" >0.8</text>
<text x="290.50" y="37.00" font-size="4.3" font-weight="bold" text-anchor="end" fill="#333" font-family='"Liberation Sans", sans-serif' dominant-baseline="central" >0</text>
<text x="290.50" y="61.30" font-size="4.3" font-weight="bold" text-anchor="end" fill="#333" font-family='"Liberation Sans", sans-serif' dominant-baseline="central" >-10</text>
<text x="290.50" y="85.60" font-size="4.3" font-weight="bold" text-anchor="end" fill="#333" font-family='"Liberation Sans", sans-serif' dominant-baseline="central" >-20</text>
<line x1="303.70" y1="103.10" x2="303.70" y2="101.80" stroke="#333" stroke-width="0.6" />
<line x1="315.24" y1="103.10" x2="315.24" y2="101.80" stroke="#333" stroke-width="0.6" />
<line x1="326.78" y1="103.10" x2="326.78" y2="101.80" stroke="#333" stroke-width="0.6" />
<line x1="338.32" y1="103.10" x2="338.32" y2="101.80" stroke="#333" stroke-width="0.6" />
<line x1="349.86" y1="103.10" x2="349.86" y2="101.80" stroke="#333" stroke-width="0.6" />
<line x1="361.40" y1="103.10" x2="361.40" y2="101.80" stroke="#333" stroke-width="0.6" />
<line x1="372.94" y1="103.10" x2="372.94" y2="101.80" stroke="#333" stroke-width="0.6" />
<line x1="384.48" y1="103.10" x2="384.48" y2="101.80" stroke="#333" stroke-width="0.6" />
<line x1="396.02" y1="103.10" x2="396.02" y2="101.80" stroke="#333" stroke-width="0.6" />
<line x1="292.80" y1="37.00" x2="294.30" y2="37.00" stroke="#333" stroke-width="0.6" />
<line x1="292.80" y1="61.30" x2="294.30" y2="61.30" stroke="#333" stroke-width="0.6" />
<line x1="292.80" y1="85.60" x2="294.30" y2="85.60" stroke="#333" stroke-width="0.6" />
<text x="344.10" y="116.50" font-size="6.2" font-weight="bold" text-anchor="middle" fill="#222" font-family='"Liberation Sans", sans-serif' dominant-baseline="central" >Voltage (V)</text>
<text x="276.00" y="64.60" font-size="5.9" font-weight="bold" text-anchor="middle" fill="#222" font-family='"Liberation Sans", sans-serif' dominant-baseline="central" transform="rotate(-90 276 64.6)" >Current Intensity (mA cm<tspan font-size="3.8" dy="-1.6">-2</tspan><tspan dy="1.6">)</tspan></text>
<text x="306.30" y="41.80" font-size="5.0" font-weight="bold" text-anchor="start" fill="#222" font-family='"Liberation Sans", sans-serif' dominant-baseline="central" ><tspan font-style="italic">J</tspan><tspan font-size="3.5" dy="1">SC</tspan><tspan dy="-1"> =</tspan></text>
<text x="326.50" y="41.80" font-size="4.6" font-weight="bold" text-anchor="start" fill="#222" font-family='"Liberation Sans", sans-serif' dominant-baseline="central" >24.07 mA cm<tspan font-size="3.2" dy="-1.5">-2</tspan></text>
<text x="327.30" y="46.90" font-size="4.2" font-weight="normal" text-anchor="start" fill="#555" font-family='"Liberation Sans", sans-serif' dominant-baseline="central" >(21.30 ± 2.91)</text>
<text x="306.30" y="54.20" font-size="5.0" font-weight="bold" text-anchor="start" fill="#222" font-family='"Liberation Sans", sans-serif' dominant-baseline="central" ><tspan font-style="italic">V</tspan><tspan font-size="3.5" dy="1">OC</tspan><tspan dy="-1"> =</tspan></text>
<text x="326.50" y="54.20" font-size="4.6" font-weight="bold" text-anchor="start" fill="#222" font-family='"Liberation Sans", sans-serif' dominant-baseline="central" >0.69 V</text>
<text x="327.30" y="59.30" font-size="4.2" font-weight="normal" text-anchor="start" fill="#555" font-family='"Liberation Sans", sans-serif' dominant-baseline="central" >(0.69 ± 0.01)</text>
<text x="306.30" y="66.60" font-size="5.0" font-weight="bold" text-anchor="start" fill="#222" font-family='"Liberation Sans", sans-serif' dominant-baseline="central" ><tspan font-style="italic">FF</tspan>  =</text>
<text x="326.50" y="66.60" font-size="4.6" font-weight="bold" text-anchor="start" fill="#222" font-family='"Liberation Sans", sans-serif' dominant-baseline="central" >59.74 %</text>
<text x="327.30" y="71.70" font-size="4.2" font-weight="normal" text-anchor="start" fill="#555" font-family='"Liberation Sans", sans-serif' dominant-baseline="central" >(60.27 ± 4.24)</text>
<text x="306.30" y="79.00" font-size="5.0" font-weight="bold" text-anchor="start" fill="#222" font-family='"Liberation Sans", sans-serif' dominant-baseline="central" ><tspan font-style="italic">PCE</tspan> =</text>
<text x="326.50" y="79.00" font-size="4.6" font-weight="bold" text-anchor="start" fill="#222" font-family='"Liberation Sans", sans-serif' dominant-baseline="central" >9.91 %</text>
<text x="327.30" y="84.10" font-size="4.2" font-weight="normal" text-anchor="start" fill="#555" font-family='"Liberation Sans", sans-serif' dominant-baseline="central" >(8.36 ± 0.90)</text>
<text x="443.50" y="12.80" font-size="14.2" font-weight="bold" fill="#111" font-family='"Liberation Sans", sans-serif' dominant-baseline="central" textLength="17.90" lengthAdjust="spacingAndGlyphs">(d)</text>
<rect x="448.00" y="22.70" width="75.00" height="76.80" fill="url(#gshade)" stroke="none" stroke-width="1" />
<path d="M437.10,99.50 L437.65,98.60 L438.20,97.69 L438.75,96.77 L439.30,95.83 L439.85,94.88 L440.40,93.92 L440.95,92.94 L441.50,91.96 L442.05,90.96 L442.60,89.96 L443.15,88.94 L443.70,87.90 L444.25,86.85 L444.80,85.78 L445.35,84.69 L445.90,83.56 L446.45,82.39 L447.00,81.20 L447.56,80.01 L448.11,78.82 L448.66,77.66 L449.21,76.51 L449.76,75.30 L450.31,74.11 L450.86,73.01 L451.41,72.09 L451.96,71.34 L452.51,70.61 L453.06,70.02 L453.61,69.72 L454.16,69.70 L454.71,69.70 L455.26,69.70 L455.81,69.73 L456.36,69.99 L456.91,70.39 L457.46,70.81 L458.01,71.13 L458.56,71.42 L459.11,71.70 L459.66,71.95 L460.21,72.12 L460.76,72.16 L461.31,72.12 L461.86,72.04 L462.41,71.92 L462.96,71.77 L463.51,71.61 L464.06,71.39 L464.61,71.04 L465.16,70.57 L465.71,70.03 L466.26,69.47 L466.81,68.92 L467.37,68.40 L467.92,67.86 L468.47,67.29 L469.02,66.72 L469.57,66.13 L470.12,65.55 L470.67,64.98 L471.22,64.43 L471.77,63.91 L472.32,63.41 L472.87,62.93 L473.42,62.45 L473.97,61.97 L474.52,61.48 L475.07,60.97 L475.62,60.42 L476.17,59.86 L476.72,59.28 L477.27,58.71 L477.82,58.14 L478.37,57.60 L478.92,57.08 L479.47,56.53 L480.02,55.97 L480.57,55.47 L481.12,55.09 L481.67,54.89 L482.22,54.73 L482.77,54.60 L483.32,54.52 L483.87,54.50 L484.42,54.57 L484.97,54.73 L485.52,54.95 L486.07,55.21 L486.62,55.51 L487.18,55.97 L487.73,56.54 L488.28,57.20 L488.83,57.89 L489.38,58.55 L489.93,59.17 L490.48,59.79 L491.03,60.43 L491.58,61.07 L492.13,61.72 L492.68,62.38 L493.23,63.04 L493.78,63.74 L494.33,64.47 L494.88,65.22 L495.43,65.95 L495.98,66.66 L496.53,67.31 L497.08,67.88 L497.63,68.42 L498.18,68.93 L498.73,69.41 L499.28,69.87 L499.83,70.32 L500.38,70.76 L500.93,71.19 L501.48,71.62 L502.03,72.06 L502.58,72.49 L503.13,72.92 L503.68,73.34 L504.23,73.75 L504.78,74.15 L505.33,74.56 L505.88,74.96 L506.43,75.37 L506.99,75.78 L507.54,76.20 L508.09,76.63 L508.64,77.07 L509.19,77.51 L509.74,77.97 L510.29,78.42 L510.84,78.88 L511.39,79.33 L511.94,79.77 L512.49,80.20 L513.04,80.62 L513.59,81.03 L514.14,81.44 L514.69,81.85 L515.24,82.25 L515.79,82.64 L516.34,83.03 L516.89,83.40 L517.44,83.77 L517.99,84.12 L518.54,84.46 L519.09,84.78 L519.64,85.10 L520.19,85.41 L520.74,85.71 L521.29,86.01 L521.84,86.29 L522.39,86.55 L522.94,86.80 L523.49,87.03 L524.04,87.23 L524.59,87.44 L525.14,87.65 L525.69,87.85 L526.24,88.04 L526.80,88.22 L527.35,88.36 L527.90,88.46 L528.45,88.51 L529.00,88.51 L529.55,88.44 L530.10,88.32 L530.65,88.16 L531.20,87.96 L531.75,87.75 L532.30,87.52 L532.85,87.21 L533.40,86.80 L533.95,86.31 L534.50,85.77 L535.05,85.17 L535.60,84.56 L536.15,83.93 L536.70,83.32 L537.25,82.68 L537.80,82.00 L538.35,81.28 L538.90,80.53 L539.45,79.76 L540.00,78.96 L540.55,78.15 L541.10,77.34 L541.65,76.51 L542.20,75.66 L542.75,74.80 L543.30,73.91 L543.85,73.00 L544.40,72.07 L544.95,71.11 L545.50,70.13 L546.05,69.11 L546.61,68.01" fill="none" stroke="#2f9a2f" stroke-width="1.7" stroke-linejoin="round" stroke-linecap="round" opacity="1" clip-path="url(#cd)" />
<g fill="#237a23" clip-path="url(#cd)"><circle cx="437.10" cy="99.50" r="0.7"/><circle cx="438.33" cy="97.47" r="0.7"/><circle cx="439.56" cy="95.38" r="0.7"/><circle cx="440.79" cy="93.23" r="0.7"/><circle cx="442.02" cy="91.02" r="0.7"/><circle cx="443.25" cy="88.75" r="0.7"/><circle cx="444.48" cy="86.41" r="0.7"/><circle cx="445.71" cy="83.96" r="0.7"/><circle cx="446.94" cy="81.34" r="0.7"/><circle cx="448.17" cy="78.67" r="0.7"/><circle cx="449.40" cy="76.08" r="0.7"/><circle cx="450.63" cy="73.44" r="0.7"/><circle cx="451.86" cy="71.47" r="0.7"/><circle cx="453.10" cy="69.99" r="0.7"/><circle cx="454.33" cy="69.70" r="0.7"/><circle cx="455.56" cy="69.70" r="0.7"/><circle cx="456.79" cy="70.29" r="0.7"/><circle cx="458.02" cy="71.13" r="0.7"/><circle cx="459.25" cy="71.77" r="0.7"/><circle cx="460.48" cy="72.15" r="0.7"/><circle cx="461.71" cy="72.06" r="0.7"/><circle cx="462.94" cy="71.78" r="0.7"/><circle cx="464.17" cy="71.34" r="0.7"/><circle cx="465.40" cy="70.35" r="0.7"/><circle cx="466.63" cy="69.10" r="0.7"/><circle cx="467.86" cy="67.91" r="0.7"/><circle cx="469.09" cy="66.64" r="0.7"/><circle cx="470.32" cy="65.34" r="0.7"/><circle cx="471.55" cy="64.11" r="0.7"/><circle cx="472.78" cy="63.01" r="0.7"/><circle cx="474.01" cy="61.94" r="0.7"/><circle cx="475.24" cy="60.80" r="0.7"/><circle cx="476.47" cy="59.54" r="0.7"/><circle cx="477.70" cy="58.26" r="0.7"/><circle cx="478.93" cy="57.07" r="0.7"/><circle cx="480.16" cy="55.83" r="0.7"/><circle cx="481.39" cy="54.97" r="0.7"/><circle cx="482.62" cy="54.63" r="0.7"/><circle cx="483.85" cy="54.50" r="0.7"/><circle cx="485.09" cy="54.77" r="0.7"/><circle cx="486.32" cy="55.33" r="0.7"/><circle cx="487.55" cy="56.34" r="0.7"/><circle cx="488.78" cy="57.82" r="0.7"/><circle cx="490.01" cy="59.26" r="0.7"/><circle cx="491.24" cy="60.67" r="0.7"/><circle cx="492.47" cy="62.12" r="0.7"/><circle cx="493.70" cy="63.63" r="0.7"/><circle cx="494.93" cy="65.28" r="0.7"/><circle cx="496.16" cy="66.88" r="0.7"/><circle cx="497.39" cy="68.19" r="0.7"/><circle cx="498.62" cy="69.31" r="0.7"/><circle cx="499.85" cy="70.34" r="0.7"/><circle cx="501.08" cy="71.31" r="0.7"/><circle cx="502.31" cy="72.28" r="0.7"/><circle cx="503.54" cy="73.23" r="0.7"/><circle cx="504.77" cy="74.15" r="0.7"/><circle cx="506.00" cy="75.05" r="0.7"/><circle cx="507.23" cy="75.97" r="0.7"/><circle cx="508.46" cy="76.93" r="0.7"/><circle cx="509.69" cy="77.93" r="0.7"/><circle cx="510.92" cy="78.95" r="0.7"/><circle cx="512.15" cy="79.94" r="0.7"/><circle cx="513.38" cy="80.88" r="0.7"/><circle cx="514.61" cy="81.79" r="0.7"/><circle cx="515.85" cy="82.68" r="0.7"/><circle cx="517.08" cy="83.53" r="0.7"/><circle cx="518.31" cy="84.32" r="0.7"/><circle cx="519.54" cy="85.04" r="0.7"/><circle cx="520.77" cy="85.73" r="0.7"/><circle cx="522.00" cy="86.36" r="0.7"/><circle cx="523.23" cy="86.92" r="0.7"/><circle cx="524.46" cy="87.39" r="0.7"/><circle cx="525.69" cy="87.85" r="0.7"/><circle cx="526.92" cy="88.25" r="0.7"/><circle cx="528.15" cy="88.49" r="0.7"/><circle cx="529.38" cy="88.47" r="0.7"/><circle cx="530.61" cy="88.17" r="0.7"/><circle cx="531.84" cy="87.71" r="0.7"/><circle cx="533.07" cy="87.05" r="0.7"/><circle cx="534.30" cy="85.97" r="0.7"/><circle cx="535.53" cy="84.64" r="0.7"/><circle cx="536.76" cy="83.25" r="0.7"/><circle cx="537.99" cy="81.75" r="0.7"/><circle cx="539.22" cy="80.08" r="0.7"/><circle cx="540.45" cy="78.30" r="0.7"/><circle cx="541.68" cy="76.46" r="0.7"/><circle cx="542.91" cy="74.54" r="0.7"/><circle cx="544.14" cy="72.51" r="0.7"/><circle cx="545.37" cy="70.37" r="0.7"/><circle cx="546.61" cy="68.01" r="0.7"/></g>
<rect x="437.40" y="22.70" width="108.20" height="76.80" fill="none" stroke="#444" stroke-width="0.8" />
<text x="455.20" y="103.90" font-size="4.5" font-weight="bold" text-anchor="middle" fill="#333" font-family='"Liberation Sans", sans-serif' dominant-baseline="central" >400</text>
<text x="491.40" y="103.90" font-size="4.5" font-weight="bold" text-anchor="middle" fill="#333" font-family='"Liberation Sans", sans-serif' dominant-baseline="central" >600</text>
<text x="527.60" y="103.90" font-size="4.5" font-weight="bold" text-anchor="middle" fill="#333" font-family='"Liberation Sans", sans-serif' dominant-baseline="central" >800</text>
<text x="435.70" y="99.50" font-size="4.4" font-weight="bold" text-anchor="end" fill="#333" font-family='"Liberation Sans", sans-serif' dominant-baseline="central" >0</text>
<text x="435.70" y="80.30" font-size="4.4" font-weight="bold" text-anchor="end" fill="#333" font-family='"Liberation Sans", sans-serif' dominant-baseline="central" >25</text>
<text x="435.70" y="61.10" font-size="4.4" font-weight="bold" text-anchor="end" fill="#333" font-family='"Liberation Sans", sans-serif' dominant-baseline="central" >50</text>
<text x="435.70" y="41.90" font-size="4.4" font-weight="bold" text-anchor="end" fill="#333" font-family='"Liberation Sans", sans-serif' dominant-baseline="central" >75</text>
<text x="435.70" y="22.70" font-size="4.4" font-weight="bold" text-anchor="end" fill="#333" font-family='"Liberation Sans", sans-serif' dominant-baseline="central" >100</text>
<line x1="455.20" y1="99.50" x2="455.20" y2="98.00" stroke="#333" stroke-width="0.6" />
<line x1="473.30" y1="99.50" x2="473.30" y2="98.00" stroke="#333" stroke-width="0.6" />
<line x1="491.40" y1="99.50" x2="491.40" y2="98.00" stroke="#333" stroke-width="0.6" />
<line x1="509.50" y1="99.50" x2="509.50" y2="98.00" stroke="#333" stroke-width="0.6" />
<line x1="527.60" y1="99.50" x2="527.60" y2="98.00" stroke="#333" stroke-width="0.6" />
<line x1="437.40" y1="99.50" x2="438.90" y2="99.50" stroke="#333" stroke-width="0.6" />
<line x1="437.40" y1="80.30" x2="438.90" y2="80.30" stroke="#333" stroke-width="0.6" />
<line x1="437.40" y1="61.10" x2="438.90" y2="61.10" stroke="#333" stroke-width="0.6" />
<line x1="437.40" y1="41.90" x2="438.90" y2="41.90" stroke="#333" stroke-width="0.6" />
<line x1="437.40" y1="22.70" x2="438.90" y2="22.70" stroke="#333" stroke-width="0.6" />
<text x="490.50" y="111.50" font-size="6.2" font-weight="bold" text-anchor="middle" fill="#222" font-family='"Liberation Sans", sans-serif' dominant-baseline="central" >Wavelength (nm)</text>
<text x="419.90" y="61.00" font-size="6.1" font-weight="bold" text-anchor="middle" fill="#222" font-family='"Liberation Sans", sans-serif' dominant-baseline="central" transform="rotate(-90 419.9 61)" >Transmittance (%)</text>
<text x="464.70" y="29.90" font-size="6.6" font-weight="bold" text-anchor="start" fill="#222" font-family='"Liberation Sans", sans-serif' dominant-baseline="central" >AVT = 40.4 %</text>
<text x="464.70" y="40.20" font-size="6.6" font-weight="bold" text-anchor="start" fill="#222" font-family='"Liberation Sans", sans-serif' dominant-baseline="central" >LUE = 4.00 %</text>
<text x="5.20" y="136.70" font-size="14.2" font-weight="bold" fill="#111" font-family='"Liberation Sans", sans-serif' dominant-baseline="central" textLength="17.20" lengthAdjust="spacingAndGlyphs">(e)</text>
<rect x="58.8" y="222" width="27.5" height="28" fill="url(#gsun)" filter="url(#blur05)"/>
<path d="M30.8,158.80 L97.5,160.48 L114.5,156.35 L114.5,166.21 L97.5,170.71 L30.8,168.10Z" fill="#dcd3b8" opacity="1"/>
<path d="M30.8,168.10 L97.5,170.71 L114.5,166.21 L114.5,170.23 L97.5,174.89 L30.8,171.90Z" fill="#d0b77a" opacity="1"/>
<path d="M30.8,171.90 L97.5,174.89 L114.5,170.23 L114.5,174.90 L97.5,179.73 L30.8,176.30Z" fill="#dfd6bd" opacity="1"/>
<path d="M30.8,176.30 L97.5,179.73 L114.5,174.90 L114.5,200.34 L97.5,206.13 L30.8,200.30Z" fill="#2c6a29" opacity="1"/>
<path d="M30.8,200.30 L97.5,206.13 L114.5,200.34 L114.5,208.92 L97.5,215.04 L30.8,208.40Z" fill="#4f8078" opacity="1"/>
<path d="M30.8,208.40 L97.5,215.04 L114.5,208.92 L114.5,216.77 L97.5,223.18 L30.8,215.80Z" fill="#5e4a88" opacity="1"/>
<path d="M30.8,215.80 L97.5,223.18 L114.5,216.77 L114.5,225.67 L97.5,232.42 L30.8,224.20Z" fill="#5f7c88" opacity="1"/>
<path d="M35,183 L90,186 M38,190 L95,194" stroke="#3f8a36" stroke-width="2" opacity="0.35" fill="none"/>
<path d="M97.5,160.48 L114.5,156.35 L114.5,225.67 L97.5,232.42Z" fill="#000" opacity="0.13"/>
<path d="M30.8,158.8 L97.5,160.48 L114.5,156.35 L116,153 L113,148.2 L53,147.6Z" fill="#ddd5bd"/>
<path d="M30.8,158.8 L97.5,160.48 L114.5,156.35" fill="none" stroke="#f0ead8" stroke-width="0.7"/>
<rect x="58.8" y="138.6" width="28.2" height="9.2" fill="url(#gshaft)"/>
<path d="M58.8,147.6 L87,147.6 L87,159.2 L58.8,158.6Z" fill="#fad865" opacity="0.85"/>
<path d="M58.8,159.4 L87,160.2 L87,236 L58.8,236Z" fill="#fff4c0" opacity="0.2"/>
<path d="M44.5,138.8 L72,122.3 L103.5,138.8Z" fill="url(#garr)"/>
<text x="63.50" y="166.20" font-size="4.8" font-weight="bold" text-anchor="middle" fill="#f6f2e6" font-family='"Liberation Sans", sans-serif' dominant-baseline="central" >MoO<tspan font-size="3.3" dy="1">3</tspan></text>
<text x="63.50" y="173.40" font-size="4.8" font-weight="bold" text-anchor="middle" fill="#f6f2e6" font-family='"Liberation Sans", sans-serif' dominant-baseline="central" >Au</text>
<text x="63.50" y="178.50" font-size="4.8" font-weight="bold" text-anchor="middle" fill="#f6f2e6" font-family='"Liberation Sans", sans-serif' dominant-baseline="central" >MoO<tspan font-size="3.3" dy="1">3</tspan></text>
<text x="65.50" y="193.50" font-size="6.9" font-weight="bold" text-anchor="middle" fill="#f2f2f2" font-family='"Liberation Sans", sans-serif' dominant-baseline="central" transform="rotate(6 65.5 193.5)">PL2:Y6:PC<tspan font-size="4.4" dy="1.3">71</tspan><tspan dy="-1.3">BM</tspan></text>
<text x="65.30" y="209.20" font-size="6.6" font-weight="bold" text-anchor="middle" fill="#eef0f0" font-family='"Liberation Sans", sans-serif' dominant-baseline="central" >ZnO</text>
<text x="65.30" y="217.40" font-size="6.6" font-weight="bold" text-anchor="middle" fill="#eef0f0" font-family='"Liberation Sans", sans-serif' dominant-baseline="central" >ITO</text>
<text x="65.30" y="226.60" font-size="6.4" font-weight="bold" text-anchor="middle" fill="#eef0f0" font-family='"Liberation Sans", sans-serif' dominant-baseline="central" >Glass</text>
<text x="72.50" y="244.60" font-size="5.6" font-weight="bold" text-anchor="middle" fill="#222" font-family='"Liberation Sans", sans-serif' dominant-baseline="central" >Sunlight</text>
<text x="144.10" y="124.70" font-size="14.2" font-weight="bold" fill="#111" font-family='"Liberation Sans", sans-serif' dominant-baseline="central" textLength="15.00" lengthAdjust="spacingAndGlyphs">(f)</text>
<rect x="146.80" y="136.30" width="58.70" height="95.10" fill="#33349a" stroke="none" stroke-width="1" />
<g clip-path="url(#cf1)"><g filter="url(#blur2)"><ellipse cx="146.8" cy="184.4" rx="50" ry="31" fill="none" stroke="#2d64cc" stroke-width="6.5" opacity="0.95"/><ellipse cx="146.8" cy="184.4" rx="32" ry="20" fill="none" stroke="#2e46b0" stroke-width="7" opacity="0.7"/><ellipse cx="159.8" cy="144.8" rx="22" ry="9" fill="#3a96d8"/></g><g filter="url(#blur1)"><ellipse cx="159.8" cy="144.3" rx="15" ry="5.8" fill="#38c070"/><ellipse cx="159.8" cy="143.9" rx="11" ry="2.6" fill="#d4ea48"/><ellipse cx="159.8" cy="143.70000000000002" rx="7" ry="0.9" fill="#f2c870"/></g><g filter="url(#blur05)"><ellipse cx="158.5" cy="184.4" rx="11" ry="13.5" fill="#2f8fe0" opacity="0.8"/><ellipse cx="158.5" cy="184.4" rx="9.6" ry="12" fill="#3cc864"/><ellipse cx="158.5" cy="184.4" rx="7.6" ry="9.6" fill="#e0e448"/><ellipse cx="158.5" cy="184.4" rx="6.6" ry="8.4" fill="#40c060"/><ellipse cx="158.5" cy="184.4" rx="4.6" ry="5.6" fill="#2438a0"/><path d="M157.5,172.4 L159.5,172.4 L159.7,179.4 L157.3,179.4Z" fill="#d8e850"/><circle cx="152.3" cy="182.4" r="0.9" fill="#f0a040"/><circle cx="164.3" cy="182.4" r="0.9" fill="#f0a040"/></g></g>
<g clip-path="url(#cf2)"><g filter="url(#blur2)"><ellipse cx="146.8" cy="231.4" rx="50" ry="31" fill="none" stroke="#2d64cc" stroke-width="6.5" opacity="0.95"/><ellipse cx="146.8" cy="231.4" rx="32" ry="20" fill="none" stroke="#2e46b0" stroke-width="7" opacity="0.7"/><ellipse cx="159.8" cy="192.9" rx="22" ry="9" fill="#3a96d8"/></g><g filter="url(#blur1)"><ellipse cx="159.8" cy="192.4" rx="15" ry="5.8" fill="#38c070"/><ellipse cx="159.8" cy="192.20000000000002" rx="11" ry="3.2" fill="#60d050"/></g><g filter="url(#blur05)"><ellipse cx="158.5" cy="231.4" rx="11" ry="13.5" fill="#2f8fe0" opacity="0.8"/><ellipse cx="158.5" cy="231.4" rx="9.6" ry="12" fill="#3cc864"/><ellipse cx="158.5" cy="231.4" rx="7.6" ry="9.6" fill="#e0e448"/><ellipse cx="158.5" cy="231.4" rx="6.6" ry="8.4" fill="#40c060"/><ellipse cx="158.5" cy="231.4" rx="4.6" ry="5.6" fill="#2438a0"/><path d="M157.5,219.4 L159.5,219.4 L159.7,226.4 L157.3,226.4Z" fill="#d8e850"/><circle cx="152.3" cy="229.4" r="0.9" fill="#f0a040"/><circle cx="164.3" cy="229.4" r="0.9" fill="#f0a040"/></g></g>
<line x1="146.80" y1="184.40" x2="205.50" y2="184.40" stroke="#c8d0e8" stroke-width="0.6" />
<text x="201.00" y="140.50" font-size="3.6" font-weight="bold" text-anchor="end" fill="#fff" font-family='"Liberation Sans", sans-serif' dominant-baseline="central" >PL2:Y6</text>
<text x="183.00" y="150.40" font-size="3.4" font-weight="normal" text-anchor="middle" fill="#fff" font-family='"Liberation Sans", sans-serif' dominant-baseline="central" >(010)</text>
<text x="201.00" y="188.00" font-size="3.4" font-weight="bold" text-anchor="end" fill="#fff" font-family='"Liberation Sans", sans-serif' dominant-baseline="central" >PL2:Y6:PC<tspan font-size="2.6" dy="0.8">71</tspan><tspan dy="-0.8">BM</tspan></text>
<text x="145.20" y="147.20" font-size="2.4" font-weight="normal" text-anchor="end" fill="#444" font-family='"Liberation Sans", sans-serif' dominant-baseline="central" >1.5</text>
<text x="145.20" y="159.40" font-size="2.4" font-weight="normal" text-anchor="end" fill="#444" font-family='"Liberation Sans", sans-serif' dominant-baseline="central" >1.0</text>
<text x="145.20" y="171.60" font-size="2.4" font-weight="normal" text-anchor="end" fill="#444" font-family='"Liberation Sans", sans-serif' dominant-baseline="central" >0.5</text>
<text x="145.20" y="184.40" font-size="2.4" font-weight="normal" text-anchor="end" fill="#444" font-family='"Liberation Sans", sans-serif' dominant-baseline="central" >0.0</text>
<text x="145.20" y="195.20" font-size="2.4" font-weight="normal" text-anchor="end" fill="#444" font-family='"Liberation Sans", sans-serif' dominant-baseline="central" >1.5</text>
<text x="145.20" y="207.40" font-size="2.4" font-weight="normal" text-anchor="end" fill="#444" font-family='"Liberation Sans", sans-serif' dominant-baseline="central" >1.0</text>
<text x="145.20" y="219.40" font-size="2.4" font-weight="normal" text-anchor="end" fill="#444" font-family='"Liberation Sans", sans-serif' dominant-baseline="central" >0.5</text>
<text x="145.20" y="231.20" font-size="2.4" font-weight="normal" text-anchor="end" fill="#444" font-family='"Liberation Sans", sans-serif' dominant-baseline="central" >0.0</text>
<text x="158.50" y="235.60" font-size="2.4" font-weight="normal" text-anchor="middle" fill="#444" font-family='"Liberation Sans", sans-serif' dominant-baseline="central" >0.0</text>
<text x="170.15" y="235.60" font-size="2.4" font-weight="normal" text-anchor="middle" fill="#444" font-family='"Liberation Sans", sans-serif' dominant-baseline="central" >0.5</text>
<text x="181.80" y="235.60" font-size="2.4" font-weight="normal" text-anchor="middle" fill="#444" font-family='"Liberation Sans", sans-serif' dominant-baseline="central" >1.0</text>
<text x="193.45" y="235.60" font-size="2.4" font-weight="normal" text-anchor="middle" fill="#444" font-family='"Liberation Sans", sans-serif' dominant-baseline="central" >1.5</text>
<text x="205.10" y="235.60" font-size="2.4" font-weight="normal" text-anchor="middle" fill="#444" font-family='"Liberation Sans", sans-serif' dominant-baseline="central" >2.0</text>
<text x="132.40" y="183.70" font-size="6.8" font-weight="bold" text-anchor="middle" fill="#222" font-family='"Liberation Sans", sans-serif' dominant-baseline="central" transform="rotate(-90 132.4 183.7)" >q<tspan font-size="4.6" dy="1.5">z</tspan><tspan dy="-1.5"> (Å</tspan><tspan font-size="4.2" dy="-2">-1</tspan><tspan dy="2">)</tspan></text>
<text x="176.20" y="245.20" font-size="6.8" font-weight="bold" text-anchor="middle" fill="#222" font-family='"Liberation Sans", sans-serif' dominant-baseline="central" >q<tspan font-size="4.6" dy="1.5">y</tspan><tspan dy="-1.5"> (Å</tspan><tspan font-size="4.2" dy="-2">-1</tspan><tspan dy="2">)</tspan></text>
<line x1="290.40" y1="147.30" x2="290.40" y2="234.50" stroke="#666" stroke-width="0.5" stroke-dasharray="0.9,0.9"/>
<path d="M233.60,163.50 L233.93,164.85 L234.26,166.05 L234.59,167.08 L234.92,168.15 L235.25,168.90 L235.58,168.66 L235.91,166.74 L236.25,164.01 L236.58,161.44 L236.91,158.59 L237.24,155.92 L237.57,154.25 L237.90,152.98 L238.23,152.51 L238.56,153.36 L238.89,155.14 L239.22,157.12 L239.55,159.63 L239.88,162.48 L240.21,164.55 L240.54,165.83 L240.87,166.58 L241.21,166.76 L241.54,166.85 L241.87,166.94 L242.20,167.10 L242.53,167.31 L242.86,167.57 L243.19,167.88 L243.52,168.28 L243.85,168.72 L244.18,169.19 L244.51,169.64 L244.84,170.04 L245.17,170.36 L245.50,170.66 L245.83,170.93 L246.16,171.19 L246.50,171.43 L246.83,171.67 L247.16,171.92 L247.49,172.16 L247.82,172.40 L248.15,172.65 L248.48,172.88 L248.81,173.11 L249.14,173.32 L249.47,173.52 L249.80,173.70 L250.13,173.86 L250.46,174.01 L250.79,174.16 L251.12,174.30 L251.46,174.43 L251.79,174.56 L252.12,174.67 L252.45,174.78 L252.78,174.87 L253.11,174.96 L253.44,175.03 L253.77,175.10 L254.10,175.17 L254.43,175.24 L254.76,175.30 L255.09,175.36 L255.42,175.42 L255.75,175.48 L256.08,175.52 L256.42,175.57 L256.75,175.61 L257.08,175.64 L257.41,175.67 L257.74,175.69 L258.07,175.70 L258.40,175.71 L258.73,175.72 L259.06,175.73 L259.39,175.74 L259.72,175.75 L260.05,175.76 L260.38,175.76 L260.71,175.77 L261.04,175.78 L261.37,175.78 L261.71,175.79 L262.04,175.79 L262.37,175.79 L262.70,175.80 L263.03,175.80 L263.36,175.80 L263.69,175.80 L264.02,175.80 L264.35,175.79 L264.68,175.76 L265.01,175.73 L265.34,175.70 L265.67,175.66 L266.00,175.61 L266.33,175.56 L266.67,175.51 L267.00,175.45 L267.33,175.40 L267.66,175.35 L267.99,175.30 L268.32,175.25 L268.65,175.21 L268.98,175.16 L269.31,175.11 L269.64,175.05 L269.97,175.00 L270.30,174.94 L270.63,174.88 L270.96,174.82 L271.29,174.75 L271.63,174.68 L271.96,174.61 L272.29,174.52 L272.62,174.41 L272.95,174.29 L273.28,174.14 L273.61,173.99 L273.94,173.83 L274.27,173.66 L274.60,173.50 L274.93,173.34 L275.26,173.19 L275.59,173.05 L275.92,172.93 L276.25,172.83 L276.58,172.76 L276.92,172.71 L277.25,172.70 L277.58,172.71 L277.91,172.74 L278.24,172.77 L278.57,172.83 L278.90,172.89 L279.23,172.96 L279.56,173.03 L279.89,173.12 L280.22,173.21 L280.55,173.30 L280.88,173.39 L281.21,173.48 L281.54,173.57 L281.88,173.65 L282.21,173.73 L282.54,173.81 L282.87,173.88 L283.20,173.93 L283.53,173.99 L283.86,174.05 L284.19,174.10 L284.52,174.16 L284.85,174.21 L285.18,174.26 L285.51,174.31 L285.84,174.36 L286.17,174.41 L286.50,174.46 L286.84,174.51 L287.17,174.56 L287.50,174.60 L287.83,174.65 L288.16,174.70 L288.49,174.75 L288.82,174.79 L289.15,174.84 L289.48,174.88 L289.81,174.93 L290.14,174.98 L290.47,175.02 L290.80,175.07 L291.13,175.12 L291.46,175.16 L291.79,175.21 L292.13,175.25 L292.46,175.30 L292.79,175.35 L293.12,175.39 L293.45,175.43 L293.78,175.48 L294.11,175.52 L294.44,175.57 L294.77,175.61 L295.10,175.66 L295.43,175.70 L295.76,175.74 L296.09,175.78 L296.42,175.83 L296.75,175.87 L297.09,175.91 L297.42,175.95 L297.75,176.00 L298.08,176.04 L298.41,176.08 L298.74,176.12 L299.07,176.16 L299.40,176.20" fill="none" stroke="#1a1a1a" stroke-width="1.1" stroke-linejoin="round" stroke-linecap="round" opacity="1" clip-path="url(#cfr)" />
<path d="M246.50,165.00 L246.77,165.40 L247.03,165.78 L247.30,166.15 L247.56,166.51 L247.83,166.85 L248.09,167.17 L248.36,167.47 L248.63,167.75 L248.89,168.03 L249.16,168.30 L249.42,168.55 L249.69,168.79 L249.96,169.01 L250.22,169.22 L250.49,169.41 L250.75,169.60 L251.02,169.77 L251.28,169.94 L251.55,170.10 L251.82,170.26 L252.08,170.41 L252.35,170.56 L252.61,170.70 L252.88,170.84 L253.15,170.97 L253.41,171.11 L253.68,171.24 L253.94,171.36 L254.21,171.49 L254.47,171.61 L254.74,171.72 L255.01,171.84 L255.27,171.95 L255.54,172.06 L255.80,172.17 L256.07,172.27 L256.34,172.38 L256.60,172.48 L256.87,172.59 L257.13,172.71 L257.40,172.82 L257.66,172.94 L257.93,173.06 L258.20,173.17 L258.46,173.27 L258.73,173.37 L258.99,173.45 L259.26,173.51 L259.53,173.56 L259.79,173.59 L260.06,173.60 L260.32,173.60 L260.59,173.60 L260.85,173.59 L261.12,173.59 L261.39,173.59 L261.65,173.58 L261.92,173.57 L262.18,173.57 L262.45,173.56 L262.72,173.55 L262.98,173.54 L263.25,173.53 L263.51,173.51 L263.78,173.50 L264.04,173.47 L264.31,173.42 L264.58,173.33 L264.84,173.23 L265.11,173.10 L265.37,172.96 L265.64,172.81 L265.91,172.65 L266.17,172.49 L266.44,172.33 L266.70,172.17 L266.97,172.02 L267.23,171.87 L267.50,171.71 L267.77,171.55 L268.03,171.38 L268.30,171.20 L268.56,171.02 L268.83,170.84 L269.10,170.66 L269.36,170.48 L269.63,170.30 L269.89,170.12 L270.16,169.95 L270.42,169.78 L270.69,169.62 L270.96,169.46 L271.22,169.30 L271.49,169.15 L271.75,169.00 L272.02,168.84 L272.29,168.69 L272.55,168.54 L272.82,168.39 L273.08,168.24 L273.35,168.09 L273.61,167.95 L273.88,167.80 L274.15,167.65 L274.41,167.49 L274.68,167.34 L274.94,167.19 L275.21,167.03 L275.48,166.87 L275.74,166.71 L276.01,166.54 L276.27,166.38 L276.54,166.21 L276.80,166.03 L277.07,165.86 L277.34,165.68 L277.60,165.50 L277.87,165.32 L278.13,165.14 L278.40,164.96 L278.67,164.77 L278.93,164.58 L279.20,164.39 L279.46,164.19 L279.73,163.98 L279.99,163.77 L280.26,163.55 L280.53,163.33 L280.79,163.10 L281.06,162.86 L281.32,162.61 L281.59,162.35 L281.86,162.08 L282.12,161.80 L282.39,161.52 L282.65,161.22 L282.92,160.92 L283.18,160.61 L283.45,160.29 L283.72,159.97 L283.98,159.63 L284.25,159.29 L284.51,158.95 L284.78,158.60 L285.05,158.24 L285.31,157.85 L285.58,157.44 L285.84,156.99 L286.11,156.53 L286.37,156.06 L286.64,155.59 L286.91,155.12 L287.17,154.66 L287.44,154.21 L287.70,153.79 L287.97,153.41 L288.24,153.06 L288.50,152.69 L288.77,152.31 L289.03,151.96 L289.30,151.68 L289.56,151.52 L289.83,151.53 L290.10,151.73 L290.36,152.10 L290.63,152.60 L290.89,153.17 L291.16,153.78 L291.43,154.41 L291.69,155.27 L291.96,156.32 L292.22,157.50 L292.49,158.73 L292.75,159.95 L293.02,161.08 L293.29,162.05 L293.55,162.83 L293.82,163.56 L294.08,164.26 L294.35,164.93 L294.62,165.56 L294.88,166.15 L295.15,166.71 L295.41,167.22 L295.68,167.69 L295.94,168.12 L296.21,168.51 L296.48,168.89 L296.74,169.27 L297.01,169.63 L297.27,169.98 L297.54,170.31 L297.81,170.61 L298.07,170.90 L298.34,171.16 L298.60,171.39 L298.87,171.59 L299.13,171.76 L299.40,171.90" fill="none" stroke="#e42020" stroke-width="1.3" stroke-linejoin="round" stroke-linecap="round" opacity="1" clip-path="url(#cfr)" />
<path d="M233.60,206.10 L233.93,207.25 L234.26,208.31 L234.59,209.27 L234.92,210.33 L235.25,211.10 L235.58,210.85 L235.91,208.87 L236.25,206.06 L236.58,203.42 L236.91,200.49 L237.24,197.60 L237.57,195.71 L237.90,194.40 L238.23,193.53 L238.56,193.59 L238.89,194.94 L239.22,196.92 L239.55,199.01 L239.88,201.83 L240.21,204.50 L240.54,206.04 L240.87,207.08 L241.21,207.60 L241.54,207.74 L241.87,207.83 L242.20,207.90 L242.53,207.97 L242.86,208.03 L243.19,208.14 L243.52,208.46 L243.85,208.97 L244.18,209.59 L244.51,210.22 L244.84,210.78 L245.17,211.21 L245.50,211.61 L245.83,211.97 L246.16,212.32 L246.50,212.63 L246.83,212.90 L247.16,213.16 L247.49,213.40 L247.82,213.63 L248.15,213.85 L248.48,214.05 L248.81,214.24 L249.14,214.42 L249.47,214.59 L249.80,214.74 L250.13,214.89 L250.46,215.04 L250.79,215.18 L251.12,215.31 L251.46,215.43 L251.79,215.54 L252.12,215.65 L252.45,215.74 L252.78,215.82 L253.11,215.89 L253.44,215.96 L253.77,216.03 L254.10,216.09 L254.43,216.16 L254.76,216.21 L255.09,216.27 L255.42,216.32 L255.75,216.36 L256.08,216.40 L256.42,216.44 L256.75,216.48 L257.08,216.51 L257.41,216.54 L257.74,216.56 L258.07,216.59 L258.40,216.62 L258.73,216.65 L259.06,216.67 L259.39,216.70 L259.72,216.72 L260.05,216.74 L260.38,216.75 L260.71,216.77 L261.04,216.78 L261.37,216.79 L261.71,216.80 L262.04,216.80 L262.37,216.79 L262.70,216.77 L263.03,216.74 L263.36,216.69 L263.69,216.62 L264.02,216.55 L264.35,216.47 L264.68,216.38 L265.01,216.29 L265.34,216.19 L265.67,216.09 L266.00,215.98 L266.33,215.88 L266.67,215.77 L267.00,215.67 L267.33,215.58 L267.66,215.49 L267.99,215.40 L268.32,215.32 L268.65,215.24 L268.98,215.16 L269.31,215.08 L269.64,214.99 L269.97,214.91 L270.30,214.82 L270.63,214.74 L270.96,214.66 L271.29,214.58 L271.63,214.50 L271.96,214.42 L272.29,214.34 L272.62,214.27 L272.95,214.19 L273.28,214.12 L273.61,214.06 L273.94,213.98 L274.27,213.91 L274.60,213.83 L274.93,213.75 L275.26,213.68 L275.59,213.61 L275.92,213.55 L276.25,213.49 L276.58,213.45 L276.92,213.42 L277.25,213.40 L277.58,213.40 L277.91,213.42 L278.24,213.45 L278.57,213.49 L278.90,213.54 L279.23,213.60 L279.56,213.67 L279.89,213.74 L280.22,213.82 L280.55,213.90 L280.88,213.98 L281.21,214.06 L281.54,214.14 L281.88,214.23 L282.21,214.34 L282.54,214.46 L282.87,214.59 L283.20,214.73 L283.53,214.87 L283.86,215.02 L284.19,215.16 L284.52,215.31 L284.85,215.46 L285.18,215.60 L285.51,215.73 L285.84,215.85 L286.17,215.96 L286.50,216.05 L286.84,216.13 L287.17,216.21 L287.50,216.28 L287.83,216.36 L288.16,216.43 L288.49,216.50 L288.82,216.57 L289.15,216.63 L289.48,216.70 L289.81,216.76 L290.14,216.81 L290.47,216.87 L290.80,216.92 L291.13,216.97 L291.46,217.02 L291.79,217.06 L292.13,217.10 L292.46,217.13 L292.79,217.16 L293.12,217.18 L293.45,217.20 L293.78,217.22 L294.11,217.24 L294.44,217.25 L294.77,217.27 L295.10,217.29 L295.43,217.30 L295.76,217.32 L296.09,217.33 L296.42,217.34 L296.75,217.35 L297.09,217.36 L297.42,217.37 L297.75,217.38 L298.08,217.39 L298.41,217.39 L298.74,217.40 L299.07,217.40 L299.40,217.40" fill="none" stroke="#1a1a1a" stroke-width="1.1" stroke-linejoin="round" stroke-linecap="round" opacity="1" clip-path="url(#cfr)" />
<path d="M246.70,208.10 L246.96,208.41 L247.23,208.71 L247.49,209.00 L247.76,209.29 L248.02,209.57 L248.29,209.85 L248.55,210.12 L248.82,210.37 L249.08,210.62 L249.35,210.87 L249.61,211.10 L249.88,211.33 L250.14,211.55 L250.41,211.78 L250.67,211.99 L250.94,212.20 L251.20,212.41 L251.47,212.61 L251.73,212.80 L252.00,212.98 L252.26,213.14 L252.53,213.30 L252.79,213.45 L253.06,213.59 L253.32,213.73 L253.59,213.86 L253.85,213.99 L254.12,214.12 L254.38,214.24 L254.64,214.35 L254.91,214.46 L255.17,214.57 L255.44,214.67 L255.70,214.76 L255.97,214.85 L256.23,214.93 L256.50,215.00 L256.76,215.07 L257.03,215.14 L257.29,215.21 L257.56,215.28 L257.82,215.35 L258.09,215.41 L258.35,215.47 L258.62,215.53 L258.88,215.59 L259.15,215.64 L259.41,215.68 L259.68,215.72 L259.94,215.75 L260.21,215.78 L260.47,215.79 L260.74,215.80 L261.00,215.80 L261.27,215.79 L261.53,215.78 L261.79,215.76 L262.06,215.75 L262.32,215.72 L262.59,215.70 L262.85,215.67 L263.12,215.64 L263.38,215.61 L263.65,215.58 L263.91,215.54 L264.18,215.50 L264.44,215.44 L264.71,215.38 L264.97,215.31 L265.24,215.24 L265.50,215.17 L265.77,215.09 L266.03,215.01 L266.30,214.93 L266.56,214.84 L266.83,214.76 L267.09,214.67 L267.36,214.58 L267.62,214.47 L267.89,214.37 L268.15,214.26 L268.42,214.14 L268.68,214.03 L268.95,213.91 L269.21,213.78 L269.47,213.66 L269.74,213.53 L270.00,213.40 L270.27,213.27 L270.53,213.13 L270.80,212.99 L271.06,212.85 L271.33,212.70 L271.59,212.55 L271.86,212.39 L272.12,212.23 L272.39,212.07 L272.65,211.90 L272.92,211.73 L273.18,211.55 L273.45,211.37 L273.71,211.17 L273.98,210.96 L274.24,210.75 L274.51,210.52 L274.77,210.28 L275.04,210.03 L275.30,209.78 L275.57,209.52 L275.83,209.27 L276.10,209.01 L276.36,208.75 L276.63,208.49 L276.89,208.23 L277.15,207.98 L277.42,207.74 L277.68,207.50 L277.95,207.28 L278.21,207.06 L278.48,206.86 L278.74,206.67 L279.01,206.49 L279.27,206.33 L279.54,206.17 L279.80,206.02 L280.07,205.87 L280.33,205.73 L280.60,205.58 L280.86,205.44 L281.13,205.29 L281.39,205.14 L281.66,204.98 L281.92,204.82 L282.19,204.64 L282.45,204.47 L282.72,204.30 L282.98,204.14 L283.25,203.97 L283.51,203.79 L283.78,203.61 L284.04,203.42 L284.31,203.21 L284.57,202.98 L284.83,202.73 L285.10,202.45 L285.36,202.14 L285.63,201.76 L285.89,201.24 L286.16,200.62 L286.42,199.93 L286.69,199.21 L286.95,198.49 L287.22,197.82 L287.48,197.21 L287.75,196.56 L288.01,195.86 L288.28,195.13 L288.54,194.44 L288.81,193.81 L289.07,193.29 L289.34,192.91 L289.60,192.72 L289.87,192.74 L290.13,192.94 L290.40,193.29 L290.66,193.77 L290.93,194.35 L291.19,194.99 L291.46,195.69 L291.72,196.40 L291.98,197.10 L292.25,197.81 L292.51,198.68 L292.78,199.67 L293.04,200.77 L293.31,201.92 L293.57,203.07 L293.84,204.20 L294.10,205.26 L294.37,206.21 L294.63,207.00 L294.90,207.61 L295.16,208.13 L295.43,208.61 L295.69,209.05 L295.96,209.46 L296.22,209.83 L296.49,210.18 L296.75,210.51 L297.02,210.82 L297.28,211.12 L297.55,211.41 L297.81,211.69 L298.08,211.95 L298.34,212.20 L298.61,212.43 L298.87,212.64 L299.14,212.83 L299.40,213.00" fill="none" stroke="#e42020" stroke-width="1.3" stroke-linejoin="round" stroke-linecap="round" opacity="1" clip-path="url(#cfr)" />
<rect x="233.50" y="137.40" width="65.80" height="97.10" fill="none" stroke="#444" stroke-width="0.8" />
<text x="246.10" y="238.30" font-size="4.4" font-weight="bold" text-anchor="middle" fill="#333" font-family='"Liberation Sans", sans-serif' dominant-baseline="central" >0.5</text>
<text x="263.30" y="238.30" font-size="4.4" font-weight="bold" text-anchor="middle" fill="#333" font-family='"Liberation Sans", sans-serif' dominant-baseline="central" >1.0</text>
<text x="280.50" y="238.30" font-size="4.4" font-weight="bold" text-anchor="middle" fill="#333" font-family='"Liberation Sans", sans-serif' dominant-baseline="central" >1.5</text>
<text x="297.70" y="238.30" font-size="4.4" font-weight="bold" text-anchor="middle" fill="#333" font-family='"Liberation Sans", sans-serif' dominant-baseline="central" >2.0</text>
<line x1="237.50" y1="234.50" x2="237.50" y2="233.20" stroke="#444" stroke-width="0.5" />
<line x1="237.50" y1="137.40" x2="237.50" y2="138.70" stroke="#444" stroke-width="0.5" />
<line x1="246.10" y1="234.50" x2="246.10" y2="233.20" stroke="#444" stroke-width="0.5" />
<line x1="246.10" y1="137.40" x2="246.10" y2="138.70" stroke="#444" stroke-width="0.5" />
<line x1="254.70" y1="234.50" x2="254.70" y2="233.20" stroke="#444" stroke-width="0.5" />
<line x1="254.70" y1="137.40" x2="254.70" y2="138.70" stroke="#444" stroke-width="0.5" />
<line x1="263.30" y1="234.50" x2="263.30" y2="233.20" stroke="#444" stroke-width="0.5" />
<line x1="263.30" y1="137.40" x2="263.30" y2="138.70" stroke="#444" stroke-width="0.5" />
<line x1="271.90" y1="234.50" x2="271.90" y2="233.20" stroke="#444" stroke-width="0.5" />
<line x1="271.90" y1="137.40" x2="271.90" y2="138.70" stroke="#444" stroke-width="0.5" />
<line x1="280.50" y1="234.50" x2="280.50" y2="233.20" stroke="#444" stroke-width="0.5" />
<line x1="280.50" y1="137.40" x2="280.50" y2="138.70" stroke="#444" stroke-width="0.5" />
<line x1="289.10" y1="234.50" x2="289.10" y2="233.20" stroke="#444" stroke-width="0.5" />
<line x1="289.10" y1="137.40" x2="289.10" y2="138.70" stroke="#444" stroke-width="0.5" />
<line x1="297.70" y1="234.50" x2="297.70" y2="233.20" stroke="#444" stroke-width="0.5" />
<line x1="297.70" y1="137.40" x2="297.70" y2="138.70" stroke="#444" stroke-width="0.5" />
<text x="268.20" y="248.80" font-size="6.5" font-weight="bold" text-anchor="middle" fill="#222" font-family='"Liberation Sans", sans-serif' dominant-baseline="central" >Q vector (Å<tspan font-size="4.0" dy="-1.8">-1</tspan><tspan dy="1.8">)</tspan></text>
<text x="226.80" y="194.00" font-size="6.9" font-weight="bold" text-anchor="middle" fill="#222" font-family='"Liberation Sans", sans-serif' dominant-baseline="central" transform="rotate(-90 226.8 194)" >Intensity (a.u.)</text>
<line x1="233.50" y1="134.30" x2="244.40" y2="134.30" stroke="#1a1a1a" stroke-width="1.1" />
<text x="245.50" y="134.30" font-size="4.6" font-weight="bold" text-anchor="start" fill="#222" font-family='"Liberation Sans", sans-serif' dominant-baseline="central" >IP</text>
<line x1="252.30" y1="134.30" x2="263.80" y2="134.30" stroke="#e42020" stroke-width="1.2" />
<text x="264.80" y="134.30" font-size="4.6" font-weight="bold" text-anchor="start" fill="#222" font-family='"Liberation Sans", sans-serif' dominant-baseline="central" >OOP</text>
<text x="290.30" y="143.10" font-size="4.0" font-weight="normal" text-anchor="middle" fill="#888" font-family='"Liberation Sans", sans-serif' dominant-baseline="central" font-style="italic">(010)</text>
<text x="266.00" y="182.00" font-size="5.2" font-weight="bold" text-anchor="middle" fill="#222" font-family='"Liberation Sans", sans-serif' dominant-baseline="central" >PL2:Y6</text>
<text x="267.50" y="222.80" font-size="5.2" font-weight="bold" text-anchor="middle" fill="#222" font-family='"Liberation Sans", sans-serif' dominant-baseline="central" >PL2:Y6:PC<tspan font-size="3.6" dy="1">71</tspan><tspan dy="-1">BM</tspan></text>
<text x="302.80" y="124.80" font-size="14.2" font-weight="bold" fill="#111" font-family='"Liberation Sans", sans-serif' dominant-baseline="central" textLength="17.90" lengthAdjust="spacingAndGlyphs">(g)</text>
<g clip-path="url(#cg1)"><rect x="319.2" y="132.2" width="105.2" height="104.5" fill="#7e5e7a"/><g filter="url(#pblur)"><circle cx="327.2" cy="140.2" r="14" fill="#3a5a30"/><circle cx="335.2" cy="150.2" r="8" fill="#405e32"/><circle cx="349.2" cy="142.2" r="12" fill="#d8c8de"/><circle cx="363.2" cy="138.2" r="12" fill="#dcd0e4"/><circle cx="346.2" cy="153.2" r="7" fill="#efe6f0"/><circle cx="359.2" cy="152.2" r="8" fill="#e4d8e8"/><circle cx="371.2" cy="148.2" r="6" fill="#c8b8d0"/><circle cx="323.2" cy="162.2" r="8" fill="#a02860"/><circle cx="331.2" cy="166.2" r="10" fill="#c43c88"/><circle cx="337.2" cy="174.2" r="8" fill="#e070b0"/><circle cx="325.2" cy="178.2" r="8" fill="#c83c88"/><circle cx="331.2" cy="159.2" r="4" fill="#d08830"/><circle cx="344.2" cy="177.2" r="3.5" fill="#e0e040"/><circle cx="321.2" cy="182.2" r="4" fill="#d8d840"/><circle cx="363.2" cy="184.2" r="4" fill="#d8e040"/><circle cx="355.2" cy="168.2" r="8" fill="#b080b0"/><circle cx="365.2" cy="172.2" r="8" fill="#a0a0b8"/><circle cx="379.2" cy="178.2" r="8" fill="#98a898"/><circle cx="387.2" cy="172.2" r="6" fill="#a8b0a8"/><circle cx="373.2" cy="184.2" r="5" fill="#806070"/><circle cx="335.2" cy="186.2" r="9" fill="#d04890"/><circle cx="323.2" cy="200.2" r="8" fill="#50803a"/><circle cx="329.2" cy="206.2" r="5" fill="#4a7a34"/><circle cx="363.2" cy="192.2" r="7" fill="#c8d840"/><circle cx="365.2" cy="204.2" r="5" fill="#e0d040"/><circle cx="372.2" cy="198.2" r="5" fill="#5a3a8a"/><circle cx="381.2" cy="194.2" r="5" fill="#c0d040"/><circle cx="407.2" cy="182.2" r="9" fill="#f0e0e8"/><circle cx="411.2" cy="192.2" r="10" fill="#d8a0b8"/><circle cx="399.2" cy="192.2" r="4" fill="#403040"/><circle cx="419.2" cy="196.2" r="6" fill="#d8a8c0"/><circle cx="341.2" cy="216.2" r="15" fill="#9068d8"/><circle cx="323.2" cy="216.2" r="6" fill="#503070"/><circle cx="367.2" cy="225.2" r="10" fill="#9a70d8"/><circle cx="329.2" cy="232.2" r="6" fill="#c8d040"/><circle cx="355.2" cy="234.2" r="8" fill="#8a60d0"/><circle cx="369.2" cy="222.2" r="4" fill="#e09030"/><circle cx="341.8" cy="215.7" r="4.2" fill="#e8b830"/><circle cx="368.0" cy="225.2" r="3" fill="#e8b830"/></g><path d="M347.7,160.2 L395.5,159.39999999999998 L396.1,207.7 L348.09999999999997,208.29999999999998Z" fill="rgba(205,215,210,0.16)" stroke="rgba(70,70,60,0.6)" stroke-width="0.6"/><g filter="url(#gblur)"><path d="M427.4,129.2 L376.2,129.2 C370.2,136.2 369.2,152.2 374.2,158.2 C381.2,162.2 395.2,162.2 409.2,169.2 L427.4,173.7Z" fill="url(#glove)"/><path d="M427.4,239.7 L375.2,239.7 C371.2,228.2 368.2,216.2 372.2,207.2 C376.2,200.2 389.2,198.2 399.2,199.0 C411.2,200.2 419.2,204.2 427.4,208.2Z" fill="url(#glove)"/><ellipse cx="399.2" cy="145.2" rx="16" ry="5" fill="#8c8cf6" opacity="0.55"/><ellipse cx="397.2" cy="220.2" rx="16" ry="8" fill="#8484f2" opacity="0.4"/></g></g>
<g clip-path="url(#cg2)"><rect x="428.5" y="132.2" width="105.2" height="104.5" fill="#7e5e7a"/><g filter="url(#pblur2)"><circle cx="430.5" cy="148.2" r="5" fill="#302830"/><circle cx="438.5" cy="148.2" r="10" fill="#3a6a38"/><circle cx="442.5" cy="160.2" r="9" fill="#3e6c3a"/><circle cx="458.5" cy="142.2" r="12" fill="#d0b8d8"/><circle cx="474.5" cy="140.2" r="12" fill="#d8c4dc"/><circle cx="468.5" cy="154.2" r="9" fill="#c8b0d0"/><circle cx="451.5" cy="163.2" r="7" fill="#e8e0e8"/><circle cx="432.5" cy="166.2" r="7" fill="#b83070"/><circle cx="434.5" cy="178.2" r="8" fill="#c03474"/><circle cx="447.5" cy="182.2" r="9" fill="#d04890"/><circle cx="440.5" cy="172.2" r="4" fill="#d09030"/><circle cx="431.5" cy="182.2" r="5" fill="#e0e030"/><circle cx="459.5" cy="181.2" r="4" fill="#d0d840"/><circle cx="431.5" cy="185.2" r="6" fill="#e0d838"/><circle cx="444.5" cy="188.2" r="9" fill="#d04080"/><circle cx="462.5" cy="184.2" r="6" fill="#c8c838"/><circle cx="478.5" cy="194.2" r="8" fill="#c8c838"/><circle cx="474.5" cy="202.2" r="6" fill="#d0d040"/><circle cx="431.5" cy="198.2" r="5" fill="#a890c8"/><circle cx="437.5" cy="207.2" r="9" fill="#50903a"/><circle cx="464.5" cy="202.2" r="6" fill="#908890"/><circle cx="472.5" cy="174.2" r="8" fill="#a89880"/><circle cx="488.5" cy="180.2" r="8" fill="#a09890"/><circle cx="494.5" cy="190.2" r="6" fill="#b0a8a0"/><circle cx="461.3" cy="214.5" r="15" fill="#9870d8"/><circle cx="442.5" cy="222.2" r="6" fill="#502880"/><circle cx="466.5" cy="231.2" r="5" fill="#502880"/><circle cx="450.5" cy="231.2" r="6" fill="#c8d040"/><circle cx="434.5" cy="228.2" r="9" fill="#b898d8"/><circle cx="478.5" cy="228.2" r="8" fill="#a078d8"/><circle cx="461.3" cy="214.5" r="3.6" fill="#e8b830"/><circle cx="518.5" cy="176.2" r="10" fill="#e8d8e0"/><circle cx="522.5" cy="192.2" r="9" fill="#e0a0b8"/><circle cx="510.5" cy="184.2" r="6" fill="#d8c0cc"/></g><path d="M458.0,161.2 L503.5,160.39999999999998 L504.1,207.7 L458.4,208.29999999999998Z" fill="rgba(110,95,60,0.25)" stroke="rgba(70,70,60,0.6)" stroke-width="0.6"/><g filter="url(#gblur)"><path d="M536.7,129.2 L485.5,129.2 C479.5,136.2 478.5,152.2 483.5,158.2 C490.5,162.2 504.5,162.2 518.5,169.2 L536.7,173.7Z" fill="url(#glove)"/><path d="M536.7,239.7 L484.5,239.7 C480.5,228.2 477.5,216.2 481.5,207.2 C485.5,200.2 498.5,198.2 508.5,199.0 C520.5,200.2 528.5,204.2 536.7,208.2Z" fill="url(#glove)"/><ellipse cx="508.5" cy="145.2" rx="16" ry="5" fill="#8c8cf6" opacity="0.55"/><ellipse cx="506.5" cy="220.2" rx="16" ry="8" fill="#8484f2" opacity="0.4"/></g></g>
<text x="322.70" y="138.30" font-size="8.3" font-weight="bold" text-anchor="start" fill="#fff" font-family='"Liberation Sans", sans-serif' dominant-baseline="central" >Patterned  Electrodes</text>
<text x="431.80" y="138.30" font-size="8.3" font-weight="bold" text-anchor="start" fill="#fff" font-family='"Liberation Sans", sans-serif' dominant-baseline="central" >Non-patterned  Electrode</text>
<text x="5.90" y="253.80" font-size="14.2" font-weight="bold" fill="#111" font-family='"Liberation Sans", sans-serif' dominant-baseline="central" textLength="18.00" lengthAdjust="spacingAndGlyphs">(h)</text>
<path d="M25.24,331.86 L25.73,332.24 L26.22,332.60 L26.72,332.96 L27.21,333.31 L27.70,333.65 L28.20,333.98 L28.69,334.31 L29.18,334.63 L29.68,334.95 L30.17,335.26 L30.66,335.55 L31.15,335.83 L31.65,336.08 L32.14,336.31 L32.63,336.52 L33.13,336.72 L33.62,336.91 L34.11,337.10 L34.60,337.28 L35.10,337.48 L35.59,337.68 L36.08,337.89 L36.58,338.10 L37.07,338.32 L37.56,338.53 L38.05,338.74 L38.55,338.94 L39.04,339.14 L39.53,339.32 L40.03,339.50 L40.52,339.66 L41.01,339.82 L41.51,339.99 L42.00,340.15 L42.49,340.31 L42.98,340.46 L43.48,340.60 L43.97,340.72 L44.46,340.83 L44.96,340.92 L45.45,340.99 L45.94,341.04 L46.43,341.09 L46.93,341.14 L47.42,341.18 L47.91,341.22 L48.41,341.26 L48.90,341.29 L49.39,341.31 L49.88,341.33 L50.38,341.34 L50.87,341.34 L51.36,341.33 L51.86,341.31 L52.35,341.28 L52.84,341.24 L53.34,341.20 L53.83,341.14 L54.32,341.08 L54.81,341.02 L55.31,340.93 L55.80,340.77 L56.29,340.54 L56.79,340.25 L57.28,339.91 L57.77,339.53 L58.26,339.12 L58.76,338.69 L59.25,338.24 L59.74,337.77 L60.24,337.21 L60.73,336.57 L61.22,335.87 L61.72,335.10 L62.21,334.28 L62.70,333.41 L63.19,332.44 L63.69,331.30 L64.18,330.03 L64.67,328.71 L65.17,327.38 L65.66,326.11 L66.15,324.95 L66.64,323.84 L67.14,322.76 L67.63,321.71 L68.12,320.65 L68.62,319.58 L69.11,318.49 L69.60,317.35 L70.09,316.16 L70.59,314.90 L71.08,313.60 L71.57,312.31 L72.07,311.07 L72.56,309.89 L73.05,308.73 L73.55,307.56 L74.04,306.40 L74.53,305.26 L75.02,304.18 L75.52,303.16 L76.01,302.23 L76.50,301.40 L77.00,300.70 L77.49,300.08 L77.98,299.53 L78.47,299.02 L78.97,298.54 L79.46,298.07 L79.95,297.59 L80.45,297.13 L80.94,296.71 L81.43,296.30 L81.92,295.83 L82.42,295.24 L82.91,294.47 L83.40,293.52 L83.90,292.43 L84.39,291.25 L84.88,290.02 L85.38,288.77 L85.87,287.38 L86.36,285.84 L86.85,284.27 L87.35,282.74 L87.84,281.38 L88.33,280.11 L88.83,278.80 L89.32,277.59 L89.81,276.57 L90.30,275.85 L90.80,275.44 L91.29,275.09 L91.78,274.79 L92.28,274.55 L92.77,274.38 L93.26,274.30 L93.75,274.46 L94.25,275.12 L94.74,276.15 L95.23,277.40 L95.73,278.72 L96.22,280.49 L96.71,282.74 L97.21,285.18 L97.70,287.52 L98.19,289.66 L98.68,291.79 L99.18,293.92 L99.67,296.09 L100.16,298.33 L100.66,300.68 L101.15,303.08 L101.64,305.44 L102.13,307.66 L102.63,309.73 L103.12,311.73 L103.61,313.68 L104.11,315.64 L104.60,317.67 L105.09,319.82 L105.58,321.95 L106.08,323.93 L106.57,325.61 L107.06,327.05 L107.56,328.39 L108.05,329.61 L108.54,330.73 L109.04,331.74 L109.53,332.63 L110.02,333.43 L110.51,334.17 L111.01,334.83 L111.50,335.43 L111.99,335.98 L112.49,336.48 L112.98,336.95 L113.47,337.39 L113.96,337.80 L114.46,338.19 L114.95,338.57 L115.44,338.92 L115.94,339.27 L116.43,339.60 L116.92,339.94 L117.41,340.28 L117.91,340.62 L118.40,340.95 L118.89,341.26 L119.39,341.54 L119.88,341.77 L120.37,341.95 L120.87,342.07 L121.36,342.17 L121.85,342.26 L122.34,342.33 L122.84,342.38 L123.33,342.39" fill="none" stroke="#2b3fcf" stroke-width="1.25" stroke-linejoin="round" stroke-linecap="round" opacity="1" clip-path="url(#ch)" />
<g fill="#2b3fcf" clip-path="url(#ch)"><circle cx="26.45" cy="332.77" r="1.0"/><circle cx="28.18" cy="333.97" r="1.0"/><circle cx="29.91" cy="335.10" r="1.0"/><circle cx="31.64" cy="336.08" r="1.0"/><circle cx="33.37" cy="336.81" r="1.0"/><circle cx="35.10" cy="337.48" r="1.0"/><circle cx="36.83" cy="338.21" r="1.0"/><circle cx="38.56" cy="338.95" r="1.0"/><circle cx="40.29" cy="339.59" r="1.0"/><circle cx="42.02" cy="340.16" r="1.0"/><circle cx="43.75" cy="340.67" r="1.0"/><circle cx="45.48" cy="340.99" r="1.0"/><circle cx="47.21" cy="341.16" r="1.0"/><circle cx="48.94" cy="341.29" r="1.0"/><circle cx="50.67" cy="341.34" r="1.0"/><circle cx="52.40" cy="341.28" r="1.0"/><circle cx="54.13" cy="341.11" r="1.0"/><circle cx="55.86" cy="340.74" r="1.0"/><circle cx="57.59" cy="339.67" r="1.0"/><circle cx="59.32" cy="338.18" r="1.0"/><circle cx="61.05" cy="336.12" r="1.0"/><circle cx="62.78" cy="333.27" r="1.0"/><circle cx="64.51" cy="329.15" r="1.0"/><circle cx="66.24" cy="324.75" r="1.0"/><circle cx="67.97" cy="320.98" r="1.0"/><circle cx="69.70" cy="317.12" r="1.0"/><circle cx="71.43" cy="312.69" r="1.0"/><circle cx="73.16" cy="308.47" r="1.0"/><circle cx="74.89" cy="304.47" r="1.0"/><circle cx="76.62" cy="301.23" r="1.0"/><circle cx="78.35" cy="299.14" r="1.0"/><circle cx="80.08" cy="297.47" r="1.0"/><circle cx="81.81" cy="295.95" r="1.0"/><circle cx="83.54" cy="293.23" r="1.0"/><circle cx="85.27" cy="289.04" r="1.0"/><circle cx="87.00" cy="283.80" r="1.0"/><circle cx="88.73" cy="279.05" r="1.0"/><circle cx="90.46" cy="275.70" r="1.0"/><circle cx="92.19" cy="274.59" r="1.0"/><circle cx="93.92" cy="274.63" r="1.0"/><circle cx="95.65" cy="278.51" r="1.0"/><circle cx="97.38" cy="286.04" r="1.0"/><circle cx="99.11" cy="293.63" r="1.0"/><circle cx="100.84" cy="301.58" r="1.0"/><circle cx="102.57" cy="309.50" r="1.0"/><circle cx="104.30" cy="316.42" r="1.0"/><circle cx="106.03" cy="323.75" r="1.0"/><circle cx="107.76" cy="328.91" r="1.0"/><circle cx="109.49" cy="332.57" r="1.0"/><circle cx="111.22" cy="335.10" r="1.0"/><circle cx="112.95" cy="336.92" r="1.0"/><circle cx="114.68" cy="338.36" r="1.0"/><circle cx="116.41" cy="339.59" r="1.0"/><circle cx="118.14" cy="340.78" r="1.0"/><circle cx="119.87" cy="341.76" r="1.0"/><circle cx="121.60" cy="342.21" r="1.0"/></g>
<path d="M25.24,305.19 L25.73,306.31 L26.22,307.41 L26.72,308.48 L27.21,309.53 L27.70,310.55 L28.20,311.54 L28.69,312.53 L29.18,313.52 L29.68,314.50 L30.17,315.44 L30.66,316.33 L31.15,317.13 L31.65,317.83 L32.14,318.45 L32.63,319.03 L33.13,319.56 L33.62,320.06 L34.11,320.52 L34.60,320.94 L35.10,321.33 L35.59,321.69 L36.08,322.03 L36.58,322.34 L37.07,322.63 L37.56,322.91 L38.05,323.18 L38.55,323.43 L39.04,323.70 L39.53,323.99 L40.03,324.28 L40.52,324.56 L41.01,324.80 L41.51,325.00 L42.00,325.14 L42.49,325.19 L42.98,325.19 L43.48,325.16 L43.97,325.11 L44.46,325.04 L44.96,324.96 L45.45,324.87 L45.94,324.77 L46.43,324.67 L46.93,324.56 L47.42,324.44 L47.91,324.30 L48.41,324.12 L48.90,323.92 L49.39,323.69 L49.88,323.44 L50.38,323.18 L50.87,322.91 L51.36,322.63 L51.86,322.35 L52.35,322.06 L52.84,321.79 L53.34,321.51 L53.83,321.22 L54.32,320.93 L54.81,320.62 L55.31,320.29 L55.80,319.93 L56.29,319.54 L56.79,319.12 L57.28,318.66 L57.77,318.14 L58.26,317.51 L58.76,316.79 L59.25,315.98 L59.74,315.10 L60.24,314.18 L60.73,313.21 L61.22,312.21 L61.72,311.21 L62.21,310.19 L62.70,309.08 L63.19,307.89 L63.69,306.65 L64.18,305.37 L64.67,304.08 L65.17,302.81 L65.66,301.56 L66.15,300.35 L66.64,299.17 L67.14,297.99 L67.63,296.83 L68.12,295.66 L68.62,294.48 L69.11,293.29 L69.60,292.09 L70.09,290.84 L70.59,289.53 L71.08,288.19 L71.57,286.90 L72.07,285.70 L72.56,284.65 L73.05,283.70 L73.55,282.80 L74.04,281.95 L74.53,281.14 L75.02,280.37 L75.52,279.63 L76.01,278.91 L76.50,278.22 L77.00,277.52 L77.49,276.77 L77.98,276.05 L78.47,275.44 L78.97,275.04 L79.46,274.83 L79.95,274.65 L80.45,274.50 L80.94,274.38 L81.43,274.32 L81.92,274.30 L82.42,274.30 L82.91,274.30 L83.40,274.30 L83.90,274.30 L84.39,274.30 L84.88,274.32 L85.38,274.45 L85.87,274.67 L86.36,274.99 L86.85,275.39 L87.35,275.85 L87.84,276.38 L88.33,277.26 L88.83,278.69 L89.32,280.37 L89.81,282.09 L90.30,284.05 L90.80,286.15 L91.29,288.20 L91.78,290.20 L92.28,292.20 L92.77,294.20 L93.26,296.20 L93.75,298.24 L94.25,300.35 L94.74,302.42 L95.23,304.34 L95.73,306.01 L96.22,307.54 L96.71,308.98 L97.21,310.32 L97.70,311.59 L98.19,312.78 L98.68,313.90 L99.18,314.92 L99.67,315.89 L100.16,316.84 L100.66,317.80 L101.15,318.81 L101.64,319.88 L102.13,320.98 L102.63,322.08 L103.12,323.17 L103.61,324.22 L104.11,325.19 L104.60,326.08 L105.09,326.94 L105.58,327.79 L106.08,328.60 L106.57,329.39 L107.06,330.16 L107.56,330.90 L108.05,331.62 L108.54,332.30 L109.04,332.96 L109.53,333.59 L110.02,334.19 L110.51,334.78 L111.01,335.36 L111.50,335.92 L111.99,336.46 L112.49,336.97 L112.98,337.46 L113.47,337.92 L113.96,338.34 L114.46,338.72 L114.95,339.07 L115.44,339.41 L115.94,339.74 L116.43,340.07 L116.92,340.38 L117.41,340.67 L117.91,340.95 L118.40,341.21 L118.89,341.44 L119.39,341.64 L119.88,341.82 L120.37,341.96 L120.87,342.07 L121.36,342.16 L121.85,342.25 L122.34,342.32 L122.84,342.37 L123.33,342.39" fill="none" stroke="#b04ac8" stroke-width="1.25" stroke-linejoin="round" stroke-linecap="round" opacity="1" clip-path="url(#ch)" />
<g fill="#b04ac8" clip-path="url(#ch)"><circle cx="26.45" cy="307.90" r="1.0"/><circle cx="28.18" cy="311.51" r="1.0"/><circle cx="29.91" cy="314.96" r="1.0"/><circle cx="31.64" cy="317.82" r="1.0"/><circle cx="33.37" cy="319.81" r="1.0"/><circle cx="35.10" cy="321.33" r="1.0"/><circle cx="36.83" cy="322.49" r="1.0"/><circle cx="38.56" cy="323.44" r="1.0"/><circle cx="40.29" cy="324.43" r="1.0"/><circle cx="42.02" cy="325.14" r="1.0"/><circle cx="43.75" cy="325.13" r="1.0"/><circle cx="45.48" cy="324.87" r="1.0"/><circle cx="47.21" cy="324.49" r="1.0"/><circle cx="48.94" cy="323.90" r="1.0"/><circle cx="50.67" cy="323.02" r="1.0"/><circle cx="52.40" cy="322.04" r="1.0"/><circle cx="54.13" cy="321.04" r="1.0"/><circle cx="55.86" cy="319.88" r="1.0"/><circle cx="57.59" cy="318.35" r="1.0"/><circle cx="59.32" cy="315.86" r="1.0"/><circle cx="61.05" cy="312.56" r="1.0"/><circle cx="62.78" cy="308.89" r="1.0"/><circle cx="64.51" cy="304.51" r="1.0"/><circle cx="66.24" cy="300.14" r="1.0"/><circle cx="67.97" cy="296.02" r="1.0"/><circle cx="69.70" cy="291.85" r="1.0"/><circle cx="71.43" cy="287.27" r="1.0"/><circle cx="73.16" cy="283.50" r="1.0"/><circle cx="74.89" cy="280.58" r="1.0"/><circle cx="76.62" cy="278.05" r="1.0"/><circle cx="78.35" cy="275.57" r="1.0"/><circle cx="80.08" cy="274.60" r="1.0"/><circle cx="81.81" cy="274.30" r="1.0"/><circle cx="83.54" cy="274.30" r="1.0"/><circle cx="85.27" cy="274.41" r="1.0"/><circle cx="87.00" cy="275.52" r="1.0"/><circle cx="88.73" cy="278.38" r="1.0"/><circle cx="90.46" cy="284.71" r="1.0"/><circle cx="92.19" cy="291.85" r="1.0"/><circle cx="93.92" cy="298.94" r="1.0"/><circle cx="95.65" cy="305.76" r="1.0"/><circle cx="97.38" cy="310.78" r="1.0"/><circle cx="99.11" cy="314.79" r="1.0"/><circle cx="100.84" cy="318.17" r="1.0"/><circle cx="102.57" cy="321.96" r="1.0"/><circle cx="104.30" cy="325.55" r="1.0"/><circle cx="106.03" cy="328.52" r="1.0"/><circle cx="107.76" cy="331.20" r="1.0"/><circle cx="109.49" cy="333.54" r="1.0"/><circle cx="111.22" cy="335.60" r="1.0"/><circle cx="112.95" cy="337.43" r="1.0"/><circle cx="114.68" cy="338.88" r="1.0"/><circle cx="116.41" cy="340.06" r="1.0"/><circle cx="118.14" cy="341.07" r="1.0"/><circle cx="119.87" cy="341.82" r="1.0"/><circle cx="121.60" cy="342.21" r="1.0"/></g>
<path d="M25.24,317.47 L25.73,318.84 L26.22,320.16 L26.72,321.44 L27.21,322.65 L27.70,323.80 L28.20,324.88 L28.69,325.93 L29.18,326.97 L29.68,327.97 L30.17,328.92 L30.66,329.79 L31.15,330.54 L31.65,331.17 L32.14,331.70 L32.63,332.18 L33.13,332.62 L33.62,333.01 L34.11,333.37 L34.60,333.69 L35.10,333.97 L35.59,334.23 L36.08,334.49 L36.58,334.73 L37.07,334.95 L37.56,335.13 L38.05,335.28 L38.55,335.37 L39.04,335.44 L39.53,335.50 L40.03,335.56 L40.52,335.61 L41.01,335.65 L41.51,335.68 L42.00,335.71 L42.49,335.72 L42.98,335.72 L43.48,335.67 L43.97,335.54 L44.46,335.36 L44.96,335.14 L45.45,334.89 L45.94,334.63 L46.43,334.36 L46.93,334.11 L47.42,333.87 L47.91,333.64 L48.41,333.40 L48.90,333.16 L49.39,332.91 L49.88,332.64 L50.38,332.38 L50.87,332.10 L51.36,331.81 L51.86,331.51 L52.35,331.19 L52.84,330.87 L53.34,330.54 L53.83,330.19 L54.32,329.83 L54.81,329.46 L55.31,329.06 L55.80,328.65 L56.29,328.22 L56.79,327.76 L57.28,327.27 L57.77,326.76 L58.26,326.20 L58.76,325.60 L59.25,324.96 L59.74,324.28 L60.24,323.55 L60.73,322.79 L61.22,321.99 L61.72,321.16 L62.21,320.28 L62.70,319.38 L63.19,318.41 L63.69,317.33 L64.18,316.15 L64.67,314.91 L65.17,313.60 L65.66,312.25 L66.15,310.88 L66.64,309.50 L67.14,308.13 L67.63,306.79 L68.12,305.49 L68.62,304.14 L69.11,302.76 L69.60,301.35 L70.09,299.94 L70.59,298.55 L71.08,297.22 L71.57,295.97 L72.07,294.81 L72.56,293.77 L73.05,292.75 L73.55,291.72 L74.04,290.70 L74.53,289.74 L75.02,288.86 L75.52,288.11 L76.01,287.50 L76.50,287.08 L77.00,286.87 L77.49,286.74 L77.98,286.66 L78.47,286.60 L78.97,286.53 L79.46,286.43 L79.95,286.28 L80.45,285.84 L80.94,284.67 L81.43,283.08 L81.92,281.36 L82.42,279.83 L82.91,278.71 L83.40,277.60 L83.90,276.51 L84.39,275.53 L84.88,274.78 L85.38,274.36 L85.87,274.33 L86.36,274.53 L86.85,274.88 L87.35,275.58 L87.84,277.19 L88.33,279.39 L88.83,281.81 L89.32,284.88 L89.81,288.62 L90.30,292.67 L90.80,296.96 L91.29,301.86 L91.78,306.69 L92.28,310.73 L92.77,314.07 L93.26,317.06 L93.75,319.77 L94.25,322.34 L94.74,324.83 L95.23,326.89 L95.73,328.30 L96.22,329.45 L96.71,330.46 L97.21,331.34 L97.70,332.12 L98.19,332.82 L98.68,333.46 L99.18,334.05 L99.67,334.60 L100.16,335.12 L100.66,335.61 L101.15,336.05 L101.64,336.47 L102.13,336.84 L102.63,337.19 L103.12,337.50 L103.61,337.79 L104.11,338.05 L104.60,338.31 L105.09,338.55 L105.58,338.77 L106.08,338.99 L106.57,339.19 L107.06,339.39 L107.56,339.58 L108.05,339.76 L108.54,339.95 L109.04,340.12 L109.53,340.30 L110.02,340.48 L110.51,340.66 L111.01,340.84 L111.50,341.02 L111.99,341.19 L112.49,341.37 L112.98,341.53 L113.47,341.69 L113.96,341.84 L114.46,341.97 L114.95,342.10 L115.44,342.22 L115.94,342.31 L116.43,342.40 L116.92,342.47 L117.41,342.55 L117.91,342.62 L118.40,342.69 L118.89,342.76 L119.39,342.82 L119.88,342.88 L120.37,342.93 L120.87,342.98 L121.36,343.02 L121.85,343.05 L122.34,343.08 L122.84,343.09 L123.33,343.10" fill="none" stroke="#27c3d8" stroke-width="1.25" stroke-linejoin="round" stroke-linecap="round" opacity="1" clip-path="url(#ch)" />
<g fill="#27c3d8" clip-path="url(#ch)"><circle cx="26.45" cy="320.75" r="1.0"/><circle cx="28.18" cy="324.84" r="1.0"/><circle cx="29.91" cy="328.43" r="1.0"/><circle cx="31.64" cy="331.16" r="1.0"/><circle cx="33.37" cy="332.82" r="1.0"/><circle cx="35.10" cy="333.97" r="1.0"/><circle cx="36.83" cy="334.85" r="1.0"/><circle cx="38.56" cy="335.37" r="1.0"/><circle cx="40.29" cy="335.58" r="1.0"/><circle cx="42.02" cy="335.71" r="1.0"/><circle cx="43.75" cy="335.61" r="1.0"/><circle cx="45.48" cy="334.88" r="1.0"/><circle cx="47.21" cy="333.97" r="1.0"/><circle cx="48.94" cy="333.14" r="1.0"/><circle cx="50.67" cy="332.21" r="1.0"/><circle cx="52.40" cy="331.16" r="1.0"/><circle cx="54.13" cy="329.97" r="1.0"/><circle cx="55.86" cy="328.60" r="1.0"/><circle cx="57.59" cy="326.95" r="1.0"/><circle cx="59.32" cy="324.87" r="1.0"/><circle cx="61.05" cy="322.28" r="1.0"/><circle cx="62.78" cy="319.23" r="1.0"/><circle cx="64.51" cy="315.33" r="1.0"/><circle cx="66.24" cy="310.63" r="1.0"/><circle cx="67.97" cy="305.89" r="1.0"/><circle cx="69.70" cy="301.06" r="1.0"/><circle cx="71.43" cy="296.32" r="1.0"/><circle cx="73.16" cy="292.53" r="1.0"/><circle cx="74.89" cy="289.09" r="1.0"/><circle cx="76.62" cy="287.01" r="1.0"/><circle cx="78.35" cy="286.61" r="1.0"/><circle cx="80.08" cy="286.23" r="1.0"/><circle cx="81.81" cy="281.75" r="1.0"/><circle cx="83.54" cy="277.29" r="1.0"/><circle cx="85.27" cy="274.41" r="1.0"/><circle cx="87.00" cy="275.00" r="1.0"/><circle cx="88.73" cy="281.32" r="1.0"/><circle cx="90.46" cy="293.96" r="1.0"/><circle cx="92.19" cy="310.10" r="1.0"/><circle cx="93.92" cy="320.63" r="1.0"/><circle cx="95.65" cy="328.10" r="1.0"/><circle cx="97.38" cy="331.63" r="1.0"/><circle cx="99.11" cy="333.97" r="1.0"/><circle cx="100.84" cy="335.78" r="1.0"/><circle cx="102.57" cy="337.15" r="1.0"/><circle cx="104.30" cy="338.16" r="1.0"/><circle cx="106.03" cy="338.97" r="1.0"/><circle cx="107.76" cy="339.66" r="1.0"/><circle cx="109.49" cy="340.29" r="1.0"/><circle cx="111.22" cy="340.92" r="1.0"/><circle cx="112.95" cy="341.52" r="1.0"/><circle cx="114.68" cy="342.03" r="1.0"/><circle cx="116.41" cy="342.39" r="1.0"/><circle cx="118.14" cy="342.65" r="1.0"/><circle cx="119.87" cy="342.88" r="1.0"/><circle cx="121.60" cy="343.04" r="1.0"/></g>
<path d="M25.24,318.53 L25.73,319.90 L26.22,321.20 L26.72,322.44 L27.21,323.59 L27.70,324.64 L28.20,325.58 L28.69,326.45 L29.18,327.30 L29.68,328.10 L30.17,328.83 L30.66,329.48 L31.15,330.03 L31.65,330.47 L32.14,330.82 L32.63,331.14 L33.13,331.44 L33.62,331.69 L34.11,331.91 L34.60,332.09 L35.10,332.21 L35.59,332.32 L36.08,332.41 L36.58,332.50 L37.07,332.58 L37.56,332.65 L38.05,332.71 L38.55,332.75 L39.04,332.77 L39.53,332.78 L40.03,332.75 L40.52,332.69 L41.01,332.60 L41.51,332.49 L42.00,332.37 L42.49,332.23 L42.98,332.09 L43.48,331.94 L43.97,331.80 L44.46,331.64 L44.96,331.46 L45.45,331.26 L45.94,331.05 L46.43,330.83 L46.93,330.60 L47.42,330.35 L47.91,330.04 L48.41,329.68 L48.90,329.30 L49.39,328.95 L49.88,328.64 L50.38,328.43 L50.87,328.32 L51.36,328.26 L51.86,328.21 L52.35,328.18 L52.84,328.15 L53.34,328.11 L53.83,328.05 L54.32,327.97 L54.81,327.83 L55.31,327.63 L55.80,327.39 L56.29,327.11 L56.79,326.80 L57.28,326.47 L57.77,326.11 L58.26,325.68 L58.76,325.18 L59.25,324.60 L59.74,323.97 L60.24,323.28 L60.73,322.55 L61.22,321.78 L61.72,320.99 L62.21,320.18 L62.70,319.36 L63.19,318.51 L63.69,317.58 L64.18,316.57 L64.67,315.52 L65.17,314.42 L65.66,313.29 L66.15,312.15 L66.64,311.00 L67.14,309.86 L67.63,308.75 L68.12,307.66 L68.62,306.56 L69.11,305.44 L69.60,304.32 L70.09,303.19 L70.59,302.07 L71.08,300.99 L71.57,299.94 L72.07,298.94 L72.56,298.00 L73.05,297.03 L73.55,296.02 L74.04,295.01 L74.53,294.04 L75.02,293.14 L75.52,292.36 L76.01,291.73 L76.50,291.30 L77.00,291.08 L77.49,290.95 L77.98,290.87 L78.47,290.80 L78.97,290.73 L79.46,290.64 L79.95,290.49 L80.45,290.17 L80.94,289.44 L81.43,288.40 L81.92,287.16 L82.42,285.83 L82.91,284.52 L83.40,283.35 L83.90,282.21 L84.39,281.02 L84.88,279.84 L85.38,278.69 L85.87,277.63 L86.36,276.66 L86.85,275.60 L87.35,274.70 L87.84,274.30 L88.33,274.50 L88.83,275.08 L89.32,275.89 L89.81,276.91 L90.30,278.64 L90.80,280.92 L91.29,283.48 L91.78,286.68 L92.28,290.43 L92.77,294.93 L93.26,299.70 L93.75,304.09 L94.25,308.31 L94.74,312.53 L95.23,316.96 L95.73,321.33 L96.22,325.08 L96.71,328.68 L97.21,331.80 L97.70,333.89 L98.19,335.11 L98.68,336.11 L99.18,336.94 L99.67,337.63 L100.16,338.21 L100.66,338.71 L101.15,339.16 L101.64,339.58 L102.13,339.97 L102.63,340.33 L103.12,340.66 L103.61,340.95 L104.11,341.21 L104.60,341.43 L105.09,341.61 L105.58,341.76 L106.08,341.90 L106.57,342.03 L107.06,342.15 L107.56,342.27 L108.05,342.37 L108.54,342.47 L109.04,342.56 L109.53,342.65 L110.02,342.73 L110.51,342.80 L111.01,342.87 L111.50,342.93 L111.99,342.99 L112.49,343.05 L112.98,343.10 L113.47,343.15 L113.96,343.20 L114.46,343.25 L114.95,343.30 L115.44,343.34 L115.94,343.39 L116.43,343.44 L116.92,343.48 L117.41,343.52 L117.91,343.56 L118.40,343.60 L118.89,343.63 L119.39,343.66 L119.88,343.69 L120.37,343.72 L120.87,343.74 L121.36,343.76 L121.85,343.78 L122.34,343.79 L122.84,343.80 L123.33,343.80" fill="none" stroke="#f02828" stroke-width="1.25" stroke-linejoin="round" stroke-linecap="round" opacity="1" clip-path="url(#ch)" />
<g fill="#f02828" clip-path="url(#ch)"><circle cx="26.45" cy="321.78" r="1.0"/><circle cx="28.18" cy="325.55" r="1.0"/><circle cx="29.91" cy="328.46" r="1.0"/><circle cx="31.64" cy="330.46" r="1.0"/><circle cx="33.37" cy="331.57" r="1.0"/><circle cx="35.10" cy="332.21" r="1.0"/><circle cx="36.83" cy="332.54" r="1.0"/><circle cx="38.56" cy="332.75" r="1.0"/><circle cx="40.29" cy="332.72" r="1.0"/><circle cx="42.02" cy="332.36" r="1.0"/><circle cx="43.75" cy="331.86" r="1.0"/><circle cx="45.48" cy="331.25" r="1.0"/><circle cx="47.21" cy="330.46" r="1.0"/><circle cx="48.94" cy="329.27" r="1.0"/><circle cx="50.67" cy="328.35" r="1.0"/><circle cx="52.40" cy="328.18" r="1.0"/><circle cx="54.13" cy="328.00" r="1.0"/><circle cx="55.86" cy="327.36" r="1.0"/><circle cx="57.59" cy="326.25" r="1.0"/><circle cx="59.32" cy="324.52" r="1.0"/><circle cx="61.05" cy="322.05" r="1.0"/><circle cx="62.78" cy="319.23" r="1.0"/><circle cx="64.51" cy="315.87" r="1.0"/><circle cx="66.24" cy="311.94" r="1.0"/><circle cx="67.97" cy="308.00" r="1.0"/><circle cx="69.70" cy="304.09" r="1.0"/><circle cx="71.43" cy="300.24" r="1.0"/><circle cx="73.16" cy="296.81" r="1.0"/><circle cx="74.89" cy="293.37" r="1.0"/><circle cx="76.62" cy="291.23" r="1.0"/><circle cx="78.35" cy="290.82" r="1.0"/><circle cx="80.08" cy="290.45" r="1.0"/><circle cx="81.81" cy="287.46" r="1.0"/><circle cx="83.54" cy="283.04" r="1.0"/><circle cx="85.27" cy="278.93" r="1.0"/><circle cx="87.00" cy="275.30" r="1.0"/><circle cx="88.73" cy="274.94" r="1.0"/><circle cx="90.46" cy="279.31" r="1.0"/><circle cx="92.19" cy="289.74" r="1.0"/><circle cx="93.92" cy="305.51" r="1.0"/><circle cx="95.65" cy="320.69" r="1.0"/><circle cx="97.38" cy="332.69" r="1.0"/><circle cx="99.11" cy="336.84" r="1.0"/><circle cx="100.84" cy="338.88" r="1.0"/><circle cx="102.57" cy="340.29" r="1.0"/><circle cx="104.30" cy="341.30" r="1.0"/><circle cx="106.03" cy="341.89" r="1.0"/><circle cx="107.76" cy="342.31" r="1.0"/><circle cx="109.49" cy="342.64" r="1.0"/><circle cx="111.22" cy="342.90" r="1.0"/><circle cx="112.95" cy="343.10" r="1.0"/><circle cx="114.68" cy="343.27" r="1.0"/><circle cx="116.41" cy="343.43" r="1.0"/><circle cx="118.14" cy="343.58" r="1.0"/><circle cx="119.87" cy="343.69" r="1.0"/><circle cx="121.60" cy="343.77" r="1.0"/></g>
<path d="M25.24,320.63 L25.73,322.00 L26.22,323.31 L26.72,324.54 L27.21,325.69 L27.70,326.74 L28.20,327.68 L28.69,328.56 L29.18,329.43 L29.68,330.24 L30.17,330.99 L30.66,331.65 L31.15,332.18 L31.65,332.57 L32.14,332.87 L32.63,333.13 L33.13,333.37 L33.62,333.57 L34.11,333.74 L34.60,333.87 L35.10,333.97 L35.59,334.05 L36.08,334.12 L36.58,334.19 L37.07,334.25 L37.56,334.30 L38.05,334.34 L38.55,334.37 L39.04,334.39 L39.53,334.39 L40.03,334.35 L40.52,334.28 L41.01,334.16 L41.51,334.02 L42.00,333.87 L42.49,333.70 L42.98,333.52 L43.48,333.36 L43.97,333.20 L44.46,333.02 L44.96,332.83 L45.45,332.62 L45.94,332.40 L46.43,332.18 L46.93,331.96 L47.42,331.75 L47.91,331.54 L48.41,331.35 L48.90,331.18 L49.39,331.02 L49.88,330.88 L50.38,330.76 L50.87,330.64 L51.36,330.52 L51.86,330.41 L52.35,330.29 L52.84,330.16 L53.34,330.02 L53.83,329.86 L54.32,329.69 L54.81,329.50 L55.31,329.30 L55.80,329.09 L56.29,328.85 L56.79,328.60 L57.28,328.33 L57.77,328.04 L58.26,327.72 L58.76,327.38 L59.25,327.00 L59.74,326.58 L60.24,326.05 L60.73,325.45 L61.22,324.77 L61.72,324.03 L62.21,323.24 L62.70,322.42 L63.19,321.56 L63.69,320.69 L64.18,319.81 L64.67,318.94 L65.17,318.01 L65.66,317.03 L66.15,316.00 L66.64,314.93 L67.14,313.83 L67.63,312.72 L68.12,311.58 L68.62,310.45 L69.11,309.32 L69.60,308.21 L70.09,307.11 L70.59,305.99 L71.08,304.85 L71.57,303.71 L72.07,302.56 L72.56,301.43 L73.05,300.31 L73.55,299.21 L74.04,298.14 L74.53,296.95 L75.02,295.63 L75.52,294.36 L76.01,293.31 L76.50,292.67 L77.00,292.55 L77.49,292.55 L77.98,292.55 L78.47,292.55 L78.97,292.55 L79.46,292.55 L79.95,292.55 L80.45,292.38 L80.94,291.67 L81.43,290.53 L81.92,289.11 L82.42,287.54 L82.91,285.96 L83.40,284.49 L83.90,283.13 L84.39,281.56 L84.88,279.90 L85.38,278.29 L85.87,276.84 L86.36,275.69 L86.85,274.98 L87.35,274.52 L87.84,274.30 L88.33,275.02 L88.83,276.79 L89.32,278.92 L89.81,281.93 L90.30,285.66 L90.80,290.13 L91.29,295.78 L91.78,301.68 L92.28,307.51 L92.77,313.37 L93.26,318.47 L93.75,323.11 L94.25,326.84 L94.74,329.64 L95.23,331.82 L95.73,333.18 L96.22,334.27 L96.71,335.23 L97.21,336.05 L97.70,336.75 L98.19,337.34 L98.68,337.83 L99.18,338.23 L99.67,338.58 L100.16,338.89 L100.66,339.16 L101.15,339.41 L101.64,339.63 L102.13,339.83 L102.63,340.02 L103.12,340.19 L103.61,340.34 L104.11,340.49 L104.60,340.63 L105.09,340.77 L105.58,340.89 L106.08,341.01 L106.57,341.12 L107.06,341.22 L107.56,341.32 L108.05,341.42 L108.54,341.52 L109.04,341.61 L109.53,341.70 L110.02,341.79 L110.51,341.88 L111.01,341.97 L111.50,342.06 L111.99,342.15 L112.49,342.24 L112.98,342.32 L113.47,342.40 L113.96,342.47 L114.46,342.54 L114.95,342.60 L115.44,342.66 L115.94,342.71 L116.43,342.75 L116.92,342.78 L117.41,342.82 L117.91,342.86 L118.40,342.89 L118.89,342.93 L119.39,342.96 L119.88,342.99 L120.37,343.01 L120.87,343.04 L121.36,343.06 L121.85,343.07 L122.34,343.09 L122.84,343.09 L123.33,343.10" fill="none" stroke="#111" stroke-width="1.25" stroke-linejoin="round" stroke-linecap="round" opacity="1" clip-path="url(#ch)" />
<g fill="#111" clip-path="url(#ch)"><circle cx="26.45" cy="323.88" r="1.0"/><circle cx="28.18" cy="327.65" r="1.0"/><circle cx="29.91" cy="330.61" r="1.0"/><circle cx="31.64" cy="332.57" r="1.0"/><circle cx="33.37" cy="333.47" r="1.0"/><circle cx="35.10" cy="333.97" r="1.0"/><circle cx="36.83" cy="334.22" r="1.0"/><circle cx="38.56" cy="334.37" r="1.0"/><circle cx="40.29" cy="334.32" r="1.0"/><circle cx="42.02" cy="333.86" r="1.0"/><circle cx="43.75" cy="333.27" r="1.0"/><circle cx="45.48" cy="332.60" r="1.0"/><circle cx="47.21" cy="331.84" r="1.0"/><circle cx="48.94" cy="331.16" r="1.0"/><circle cx="50.67" cy="330.69" r="1.0"/><circle cx="52.40" cy="330.27" r="1.0"/><circle cx="54.13" cy="329.76" r="1.0"/><circle cx="55.86" cy="329.06" r="1.0"/><circle cx="57.59" cy="328.15" r="1.0"/><circle cx="59.32" cy="326.95" r="1.0"/><circle cx="61.05" cy="325.02" r="1.0"/><circle cx="62.78" cy="322.28" r="1.0"/><circle cx="64.51" cy="319.23" r="1.0"/><circle cx="66.24" cy="315.81" r="1.0"/><circle cx="67.97" cy="311.94" r="1.0"/><circle cx="69.70" cy="308.00" r="1.0"/><circle cx="71.43" cy="304.04" r="1.0"/><circle cx="73.16" cy="300.06" r="1.0"/><circle cx="74.89" cy="295.99" r="1.0"/><circle cx="76.62" cy="292.59" r="1.0"/><circle cx="78.35" cy="292.55" r="1.0"/><circle cx="80.08" cy="292.55" r="1.0"/><circle cx="81.81" cy="289.46" r="1.0"/><circle cx="83.54" cy="284.13" r="1.0"/><circle cx="85.27" cy="278.62" r="1.0"/><circle cx="87.00" cy="274.83" r="1.0"/><circle cx="88.73" cy="276.41" r="1.0"/><circle cx="90.46" cy="286.94" r="1.0"/><circle cx="92.19" cy="306.47" r="1.0"/><circle cx="93.92" cy="324.50" r="1.0"/><circle cx="95.65" cy="332.99" r="1.0"/><circle cx="97.38" cy="336.31" r="1.0"/><circle cx="99.11" cy="338.18" r="1.0"/><circle cx="100.84" cy="339.26" r="1.0"/><circle cx="102.57" cy="340.00" r="1.0"/><circle cx="104.30" cy="340.55" r="1.0"/><circle cx="106.03" cy="340.99" r="1.0"/><circle cx="107.76" cy="341.36" r="1.0"/><circle cx="109.49" cy="341.69" r="1.0"/><circle cx="111.22" cy="342.01" r="1.0"/><circle cx="112.95" cy="342.31" r="1.0"/><circle cx="114.68" cy="342.57" r="1.0"/><circle cx="116.41" cy="342.75" r="1.0"/><circle cx="118.14" cy="342.87" r="1.0"/><circle cx="119.87" cy="342.99" r="1.0"/><circle cx="121.60" cy="343.07" r="1.0"/></g>
<rect x="25.20" y="267.10" width="98.20" height="77.80" fill="none" stroke="#222" stroke-width="0.9" />
<text x="23.70" y="344.50" font-size="4.8" font-weight="bold" text-anchor="end" fill="#222" font-family='"Liberation Serif", serif' dominant-baseline="central" >0.0</text>
<text x="23.70" y="330.46" font-size="4.8" font-weight="bold" text-anchor="end" fill="#222" font-family='"Liberation Serif", serif' dominant-baseline="central" >0.2</text>
<text x="23.70" y="316.42" font-size="4.8" font-weight="bold" text-anchor="end" fill="#222" font-family='"Liberation Serif", serif' dominant-baseline="central" >0.4</text>
<text x="23.70" y="302.38" font-size="4.8" font-weight="bold" text-anchor="end" fill="#222" font-family='"Liberation Serif", serif' dominant-baseline="central" >0.6</text>
<text x="23.70" y="288.34" font-size="4.8" font-weight="bold" text-anchor="end" fill="#222" font-family='"Liberation Serif", serif' dominant-baseline="central" >0.8</text>
<text x="23.70" y="274.30" font-size="4.8" font-weight="bold" text-anchor="end" fill="#222" font-family='"Liberation Serif", serif' dominant-baseline="central" >1.0</text>
<text x="35.10" y="349.40" font-size="4.8" font-weight="bold" text-anchor="middle" fill="#222" font-family='"Liberation Serif", serif' dominant-baseline="central" >400</text>
<text x="52.40" y="349.40" font-size="4.8" font-weight="bold" text-anchor="middle" fill="#222" font-family='"Liberation Serif", serif' dominant-baseline="central" >500</text>
<text x="69.70" y="349.40" font-size="4.8" font-weight="bold" text-anchor="middle" fill="#222" font-family='"Liberation Serif", serif' dominant-baseline="central" >600</text>
<text x="87.00" y="349.40" font-size="4.8" font-weight="bold" text-anchor="middle" fill="#222" font-family='"Liberation Serif", serif' dominant-baseline="central" >700</text>
<text x="104.30" y="349.40" font-size="4.8" font-weight="bold" text-anchor="middle" fill="#222" font-family='"Liberation Serif", serif' dominant-baseline="central" >800</text>
<text x="121.60" y="349.40" font-size="4.8" font-weight="bold" text-anchor="middle" fill="#222" font-family='"Liberation Serif", serif' dominant-baseline="central" >900</text>
<line x1="35.10" y1="344.90" x2="35.10" y2="343.40" stroke="#222" stroke-width="0.6" />
<line x1="52.40" y1="344.90" x2="52.40" y2="343.40" stroke="#222" stroke-width="0.6" />
<line x1="69.70" y1="344.90" x2="69.70" y2="343.40" stroke="#222" stroke-width="0.6" />
<line x1="87.00" y1="344.90" x2="87.00" y2="343.40" stroke="#222" stroke-width="0.6" />
<line x1="104.30" y1="344.90" x2="104.30" y2="343.40" stroke="#222" stroke-width="0.6" />
<line x1="121.60" y1="344.90" x2="121.60" y2="343.40" stroke="#222" stroke-width="0.6" />
<line x1="25.20" y1="344.50" x2="26.70" y2="344.50" stroke="#222" stroke-width="0.6" />
<line x1="25.20" y1="330.46" x2="26.70" y2="330.46" stroke="#222" stroke-width="0.6" />
<line x1="25.20" y1="316.42" x2="26.70" y2="316.42" stroke="#222" stroke-width="0.6" />
<line x1="25.20" y1="302.38" x2="26.70" y2="302.38" stroke="#222" stroke-width="0.6" />
<line x1="25.20" y1="288.34" x2="26.70" y2="288.34" stroke="#222" stroke-width="0.6" />
<line x1="25.20" y1="274.30" x2="26.70" y2="274.30" stroke="#222" stroke-width="0.6" />
<text x="48.00" y="354.40" font-size="6.7" font-weight="bold" text-anchor="start" fill="#222" font-family='"Liberation Serif", serif' dominant-baseline="central" >Wavelength</text>
<text x="95.50" y="354.40" font-size="6.7" font-weight="bold" text-anchor="middle" fill="#222" font-family='"Liberation Serif", serif' dominant-baseline="central" >( nm )</text>
<text x="13.50" y="307.00" font-size="6.6" font-weight="bold" text-anchor="middle" fill="#222" font-family='"Liberation Serif", serif' dominant-baseline="central" transform="rotate(-90 13.5 307)" >Normalized Absorption(a.u.)</text>
<line x1="27.60" y1="270.80" x2="38.20" y2="270.80" stroke="#111" stroke-width="1.1" />
<circle cx="32.9" cy="270.8" r="1" fill="#111"/>
<text x="40.60" y="270.80" font-size="4.86" font-weight="bold" text-anchor="start" fill="#222" font-family='"Liberation Serif", serif' dominant-baseline="central" >PCE10</text>
<line x1="27.60" y1="276.83" x2="38.20" y2="276.83" stroke="#f02828" stroke-width="1.1" />
<circle cx="32.9" cy="276.83" r="1" fill="#f02828"/>
<text x="40.60" y="276.83" font-size="4.86" font-weight="bold" text-anchor="start" fill="#222" font-family='"Liberation Serif", serif' dominant-baseline="central" >PCE10-2Cl</text>
<line x1="27.60" y1="282.86" x2="38.20" y2="282.86" stroke="#b04ac8" stroke-width="1.1" />
<circle cx="32.9" cy="282.86" r="1" fill="#b04ac8"/>
<text x="40.60" y="282.86" font-size="4.86" font-weight="bold" text-anchor="start" fill="#222" font-family='"Liberation Serif", serif' dominant-baseline="central" >PCE10-SF</text>
<line x1="27.60" y1="288.89" x2="38.20" y2="288.89" stroke="#27c3d8" stroke-width="1.1" />
<circle cx="32.9" cy="288.89" r="1" fill="#27c3d8"/>
<text x="40.60" y="288.89" font-size="4.86" font-weight="bold" text-anchor="start" fill="#222" font-family='"Liberation Serif", serif' dominant-baseline="central" >PCE10-2F</text>
<line x1="27.60" y1="294.92" x2="38.20" y2="294.92" stroke="#2b3fcf" stroke-width="1.1" />
<circle cx="32.9" cy="294.92" r="1" fill="#2b3fcf"/>
<text x="40.60" y="294.92" font-size="4.86" font-weight="bold" text-anchor="start" fill="#222" font-family='"Liberation Serif", serif' dominant-baseline="central" >IT-4F</text>
<text x="146.30" y="266.70" font-size="14.2" font-weight="bold" fill="#111" font-family='"Liberation Sans", sans-serif' dominant-baseline="central" textLength="12.80" lengthAdjust="spacingAndGlyphs">(i)</text>
<line x1="165.90" y1="356.00" x2="165.90" y2="271.00" stroke="#111" stroke-width="0.9" />
<path d="M165.9,267.6 L164.2,272.4 L167.6,272.4Z" fill="#111"/>
<text x="157.70" y="343.30" font-size="6.4" font-weight="bold" text-anchor="start" fill="#222" font-family='"Liberation Serif", serif' dominant-baseline="central" transform="rotate(-90 157.7 343.3)" >Energy levels</text>
<text x="157.70" y="295.00" font-size="6.4" font-weight="bold" text-anchor="middle" fill="#222" font-family='"Liberation Serif", serif' dominant-baseline="central" transform="rotate(-90 157.7 295.0)" >( eV )</text>
<rect x="176.20" y="283.30" width="14.60" height="45.30" fill="#9ab0e0" stroke="#3452b4" stroke-width="1.0" />
<text x="183.50" y="277.30" font-size="7.5" font-weight="normal" text-anchor="middle" fill="#222" font-family='"Liberation Serif", serif' dominant-baseline="central" >-3.66</text>
<text x="183.50" y="335.00" font-size="7.5" font-weight="normal" text-anchor="middle" fill="#222" font-family='"Liberation Serif", serif' dominant-baseline="central" >-5.24</text>
<text x="183.80" y="305.95" font-size="7.2" font-weight="bold" text-anchor="middle" fill="#1a1a1a" font-family='"Liberation Serif", serif' dominant-baseline="central" transform="rotate(-90 183.8 305.95000000000005)" >PCE10</text>
<rect x="194.30" y="296.30" width="14.40" height="42.90" fill="#f4929a" stroke="#3452b4" stroke-width="1.0" />
<text x="201.50" y="287.90" font-size="7.5" font-weight="normal" text-anchor="middle" fill="#222" font-family='"Liberation Serif", serif' dominant-baseline="central" >-3.93</text>
<text x="201.50" y="345.30" font-size="7.5" font-weight="normal" text-anchor="middle" fill="#222" font-family='"Liberation Serif", serif' dominant-baseline="central" >-5.50</text>
<text x="201.80" y="317.75" font-size="7.2" font-weight="bold" text-anchor="middle" fill="#1a1a1a" font-family='"Liberation Serif", serif' dominant-baseline="central" transform="rotate(-90 201.8 317.75)" >PCE10-2Cl</text>
<rect x="214.00" y="293.00" width="14.60" height="49.40" fill="#efb092" stroke="#3452b4" stroke-width="1.0" />
<text x="221.30" y="287.60" font-size="7.5" font-weight="normal" text-anchor="middle" fill="#222" font-family='"Liberation Serif", serif' dominant-baseline="central" >-3.76</text>
<text x="221.30" y="347.40" font-size="7.5" font-weight="normal" text-anchor="middle" fill="#222" font-family='"Liberation Serif", serif' dominant-baseline="central" >-5.53</text>
<text x="221.60" y="317.70" font-size="7.2" font-weight="bold" text-anchor="middle" fill="#1a1a1a" font-family='"Liberation Serif", serif' dominant-baseline="central" transform="rotate(-90 221.60000000000002 317.7)" >PCE10-SF</text>
<rect x="233.40" y="294.40" width="15.10" height="44.10" fill="#f6ef9c" stroke="#3452b4" stroke-width="1.0" />
<text x="240.95" y="289.00" font-size="7.5" font-weight="normal" text-anchor="middle" fill="#222" font-family='"Liberation Serif", serif' dominant-baseline="central" >-3.90</text>
<text x="240.95" y="344.40" font-size="7.5" font-weight="normal" text-anchor="middle" fill="#222" font-family='"Liberation Serif", serif' dominant-baseline="central" >-5.47</text>
<text x="241.25" y="316.45" font-size="7.2" font-weight="bold" text-anchor="middle" fill="#1a1a1a" font-family='"Liberation Serif", serif' dominant-baseline="central" transform="rotate(-90 241.25 316.45)" >PCE10-2F</text>
<rect x="254.50" y="302.90" width="15.00" height="43.10" fill="#b8dca2" stroke="#3452b4" stroke-width="1.0" />
<text x="262.00" y="297.10" font-size="7.5" font-weight="normal" text-anchor="middle" fill="#222" font-family='"Liberation Serif", serif' dominant-baseline="central" >-4.14</text>
<text x="262.00" y="351.50" font-size="7.5" font-weight="normal" text-anchor="middle" fill="#222" font-family='"Liberation Serif", serif' dominant-baseline="central" >-5.66</text>
<text x="262.30" y="324.45" font-size="7.2" font-weight="bold" text-anchor="middle" fill="#1a1a1a" font-family='"Liberation Serif", serif' dominant-baseline="central" transform="rotate(-90 262.3 324.45)" >IT-4F</text>
<text x="285.60" y="267.10" font-size="14.2" font-weight="bold" fill="#111" font-family='"Liberation Sans", sans-serif' dominant-baseline="central" textLength="14.30" lengthAdjust="spacingAndGlyphs">(j)</text>
<path d="M313.47,350.00 L313.98,350.00 L314.49,350.00 L315.00,350.00 L315.51,350.00 L316.02,350.00 L316.54,350.00 L317.05,350.00 L317.56,350.00 L318.07,350.00 L318.58,349.97 L319.10,349.84 L319.61,349.65 L320.12,349.20 L320.63,348.11 L321.14,346.49 L321.65,343.78 L322.17,338.54 L322.68,332.04 L323.19,325.71 L323.70,319.57 L324.21,313.32 L324.73,307.28 L325.24,301.81 L325.75,299.43 L326.26,297.74 L326.77,296.49 L327.28,295.61 L327.80,295.03 L328.31,294.59 L328.82,294.25 L329.33,293.96 L329.84,293.70 L330.36,293.42 L330.87,293.12 L331.38,292.81 L331.89,292.52 L332.40,292.23 L332.91,291.90 L333.43,291.54 L333.94,291.11 L334.45,290.61 L334.96,290.08 L335.47,289.52 L335.99,288.96 L336.50,288.40 L337.01,287.87 L337.52,287.35 L338.03,286.82 L338.54,286.30 L339.06,285.79 L339.57,285.28 L340.08,284.80 L340.59,284.34 L341.10,283.89 L341.62,283.44 L342.13,283.01 L342.64,282.58 L343.15,282.17 L343.66,281.77 L344.18,281.40 L344.69,281.04 L345.20,280.71 L345.71,280.39 L346.22,280.10 L346.73,279.81 L347.25,279.53 L347.76,279.26 L348.27,278.99 L348.78,278.72 L349.29,278.44 L349.81,278.16 L350.32,277.89 L350.83,277.62 L351.34,277.37 L351.85,277.15 L352.36,276.96 L352.88,276.81 L353.39,276.66 L353.90,276.51 L354.41,276.37 L354.92,276.25 L355.44,276.16 L355.95,276.09 L356.46,276.06 L356.97,276.07 L357.48,276.11 L357.99,276.16 L358.51,276.23 L359.02,276.30 L359.53,276.37 L360.04,276.43 L360.55,276.48 L361.07,276.51 L361.58,276.53 L362.09,276.55 L362.60,276.58 L363.11,276.61 L363.62,276.65 L364.14,276.73 L364.65,276.84 L365.16,276.97 L365.67,277.13 L366.18,277.30 L366.70,277.49 L367.21,277.69 L367.72,277.88 L368.23,278.07 L368.74,278.28 L369.25,278.51 L369.77,278.77 L370.28,279.05 L370.79,279.35 L371.30,279.65 L371.81,279.94 L372.33,280.24 L372.84,280.51 L373.35,280.77 L373.86,280.99 L374.37,281.18 L374.89,281.33 L375.40,281.45 L375.91,281.55 L376.42,281.64 L376.93,281.73 L377.44,281.81 L377.96,281.88 L378.47,281.95 L378.98,282.01 L379.49,282.06 L380.00,282.12 L380.52,282.16 L381.03,282.20 L381.54,282.24 L382.05,282.28 L382.56,282.31 L383.07,282.35 L383.59,282.37 L384.10,282.40 L384.61,282.42 L385.12,282.44 L385.63,282.45 L386.15,282.46 L386.66,282.48 L387.17,282.49 L387.68,282.50 L388.19,282.51 L388.70,282.52 L389.22,282.53 L389.73,282.54 L390.24,282.55 L390.75,282.56 L391.26,282.57 L391.78,282.58 L392.29,282.58 L392.80,282.59 L393.31,282.59 L393.82,282.59 L394.33,282.60 L394.85,282.60 L395.36,282.60 L395.87,282.59 L396.38,282.59 L396.89,282.58 L397.41,282.57 L397.92,282.56 L398.43,282.54 L398.94,282.52 L399.45,282.50 L399.96,282.48 L400.48,282.46 L400.99,282.44 L401.50,282.41 L402.01,282.39 L402.52,282.36 L403.04,282.34 L403.55,282.31 L404.06,282.28 L404.57,282.26 L405.08,282.23 L405.60,282.21 L406.11,282.18 L406.62,282.15 L407.13,282.13 L407.64,282.10 L408.15,282.07 L408.67,282.03 L409.18,282.00 L409.69,281.97 L410.20,281.93 L410.71,281.90 L411.23,281.86 L411.74,281.82 L412.25,281.78 L412.76,281.74 L413.27,281.70 L413.78,281.66 L414.30,281.62 L414.81,281.58 L415.32,281.54" fill="none" stroke="#b04ac8" stroke-width="1.35" stroke-linejoin="round" stroke-linecap="round" opacity="1" clip-path="url(#cj)" />
<g fill="#b04ac8" clip-path="url(#cj)"><circle cx="321.30" cy="345.92" r="1.05"/><circle cx="323.81" cy="318.26" r="1.05"/><circle cx="326.31" cy="297.59" r="1.05"/><circle cx="328.82" cy="294.24" r="1.05"/><circle cx="331.33" cy="292.84" r="1.05"/><circle cx="333.84" cy="291.20" r="1.05"/><circle cx="336.34" cy="288.57" r="1.05"/><circle cx="338.85" cy="285.99" r="1.05"/><circle cx="341.36" cy="283.67" r="1.05"/><circle cx="343.86" cy="281.62" r="1.05"/><circle cx="346.37" cy="280.01" r="1.05"/><circle cx="348.88" cy="278.67" r="1.05"/><circle cx="351.39" cy="277.35" r="1.05"/><circle cx="353.89" cy="276.51" r="1.05"/><circle cx="356.40" cy="276.06" r="1.05"/><circle cx="358.91" cy="276.29" r="1.05"/><circle cx="361.42" cy="276.52" r="1.05"/><circle cx="363.92" cy="276.69" r="1.05"/><circle cx="366.43" cy="277.39" r="1.05"/><circle cx="368.94" cy="278.36" r="1.05"/><circle cx="371.44" cy="279.73" r="1.05"/><circle cx="373.95" cy="281.03" r="1.05"/><circle cx="376.46" cy="281.65" r="1.05"/><circle cx="378.97" cy="282.01" r="1.05"/><circle cx="381.47" cy="282.24" r="1.05"/><circle cx="383.98" cy="282.39" r="1.05"/><circle cx="386.49" cy="282.47" r="1.05"/><circle cx="388.99" cy="282.53" r="1.05"/><circle cx="391.50" cy="282.57" r="1.05"/><circle cx="394.01" cy="282.60" r="1.05"/><circle cx="396.52" cy="282.59" r="1.05"/><circle cx="399.02" cy="282.52" r="1.05"/><circle cx="401.53" cy="282.41" r="1.05"/><circle cx="404.04" cy="282.29" r="1.05"/><circle cx="406.54" cy="282.16" r="1.05"/><circle cx="409.05" cy="282.01" r="1.05"/><circle cx="411.56" cy="281.84" r="1.05"/><circle cx="414.07" cy="281.64" r="1.05"/></g>
<path d="M313.47,350.00 L313.98,350.00 L314.49,350.00 L315.00,350.00 L315.51,350.00 L316.02,350.00 L316.54,350.00 L317.05,350.00 L317.56,350.00 L318.07,350.00 L318.58,350.00 L319.10,349.99 L319.61,349.84 L320.12,349.52 L320.63,349.04 L321.14,347.71 L321.65,345.55 L322.17,343.03 L322.68,339.47 L323.19,334.94 L323.70,330.26 L324.21,326.23 L324.73,322.98 L325.24,319.85 L325.75,317.04 L326.26,314.76 L326.77,313.18 L327.28,311.94 L327.80,310.87 L328.31,309.93 L328.82,309.10 L329.33,308.34 L329.84,307.64 L330.36,306.97 L330.87,306.30 L331.38,305.60 L331.89,304.93 L332.40,304.29 L332.91,303.68 L333.43,303.09 L333.94,302.53 L334.45,301.98 L334.96,301.44 L335.47,300.94 L335.99,300.46 L336.50,299.99 L337.01,299.53 L337.52,299.05 L338.03,298.56 L338.54,298.04 L339.06,297.50 L339.57,296.93 L340.08,296.36 L340.59,295.79 L341.10,295.23 L341.62,294.69 L342.13,294.18 L342.64,293.71 L343.15,293.28 L343.66,292.89 L344.18,292.47 L344.69,292.06 L345.20,291.67 L345.71,291.32 L346.22,291.04 L346.73,290.85 L347.25,290.77 L347.76,290.79 L348.27,290.85 L348.78,290.95 L349.29,291.07 L349.81,291.21 L350.32,291.36 L350.83,291.51 L351.34,291.66 L351.85,291.82 L352.36,291.99 L352.88,292.18 L353.39,292.39 L353.90,292.64 L354.41,292.94 L354.92,293.34 L355.44,293.85 L355.95,294.42 L356.46,295.03 L356.97,295.65 L357.48,296.24 L357.99,296.78 L358.51,297.31 L359.02,297.84 L359.53,298.40 L360.04,299.04 L360.55,299.77 L361.07,300.62 L361.58,301.74 L362.09,303.46 L362.60,305.53 L363.11,307.65 L363.62,309.53 L364.14,311.02 L364.65,312.36 L365.16,313.62 L365.67,314.82 L366.18,316.00 L366.70,317.21 L367.21,318.48 L367.72,319.82 L368.23,321.17 L368.74,322.49 L369.25,323.72 L369.77,324.81 L370.28,325.71 L370.79,326.44 L371.30,327.07 L371.81,327.64 L372.33,328.16 L372.84,328.66 L373.35,329.14 L373.86,329.64 L374.37,330.14 L374.89,330.63 L375.40,331.11 L375.91,331.57 L376.42,332.01 L376.93,332.44 L377.44,332.85 L377.96,333.25 L378.47,333.65 L378.98,334.03 L379.49,334.39 L380.00,334.75 L380.52,335.08 L381.03,335.41 L381.54,335.78 L382.05,336.15 L382.56,336.47 L383.07,336.70 L383.59,336.76 L384.10,336.75 L384.61,336.70 L385.12,336.63 L385.63,336.54 L386.15,336.42 L386.66,336.28 L387.17,336.13 L387.68,335.95 L388.19,335.71 L388.70,335.25 L389.22,334.60 L389.73,333.78 L390.24,332.86 L390.75,331.53 L391.26,329.69 L391.78,327.67 L392.29,325.81 L392.80,324.19 L393.31,322.64 L393.82,321.09 L394.33,319.44 L394.85,317.62 L395.36,315.61 L395.87,313.55 L396.38,311.57 L396.89,309.77 L397.41,307.95 L397.92,306.14 L398.43,304.40 L398.94,302.84 L399.45,301.53 L399.96,300.57 L400.48,299.86 L400.99,299.26 L401.50,298.75 L402.01,298.31 L402.52,297.91 L403.04,297.53 L403.55,297.16 L404.06,296.82 L404.57,296.52 L405.08,296.28 L405.60,296.12 L406.11,295.99 L406.62,295.87 L407.13,295.77 L407.64,295.68 L408.15,295.60 L408.67,295.53 L409.18,295.46 L409.69,295.39 L410.20,295.32 L410.71,295.25 L411.23,295.18 L411.74,295.11 L412.25,295.04 L412.76,294.97 L413.27,294.91 L413.78,294.85 L414.30,294.79 L414.81,294.74 L415.32,294.69" fill="none" stroke="#f02828" stroke-width="1.35" stroke-linejoin="round" stroke-linecap="round" opacity="1" clip-path="url(#cj)" />
<g fill="#f02828" clip-path="url(#cj)"><circle cx="321.30" cy="347.11" r="1.05"/><circle cx="323.81" cy="329.35" r="1.05"/><circle cx="326.31" cy="314.56" r="1.05"/><circle cx="328.82" cy="309.09" r="1.05"/><circle cx="331.33" cy="305.67" r="1.05"/><circle cx="333.84" cy="302.64" r="1.05"/><circle cx="336.34" cy="300.13" r="1.05"/><circle cx="338.85" cy="297.72" r="1.05"/><circle cx="341.36" cy="294.96" r="1.05"/><circle cx="343.86" cy="292.73" r="1.05"/><circle cx="346.37" cy="290.97" r="1.05"/><circle cx="348.88" cy="290.97" r="1.05"/><circle cx="351.39" cy="291.67" r="1.05"/><circle cx="353.89" cy="292.64" r="1.05"/><circle cx="356.40" cy="294.96" r="1.05"/><circle cx="358.91" cy="297.72" r="1.05"/><circle cx="361.42" cy="301.32" r="1.05"/><circle cx="363.92" cy="310.42" r="1.05"/><circle cx="366.43" cy="316.57" r="1.05"/><circle cx="368.94" cy="322.97" r="1.05"/><circle cx="371.44" cy="327.24" r="1.05"/><circle cx="373.95" cy="329.73" r="1.05"/><circle cx="376.46" cy="332.04" r="1.05"/><circle cx="378.97" cy="334.02" r="1.05"/><circle cx="381.47" cy="335.73" r="1.05"/><circle cx="383.98" cy="336.75" r="1.05"/><circle cx="386.49" cy="336.33" r="1.05"/><circle cx="388.99" cy="334.90" r="1.05"/><circle cx="391.50" cy="328.76" r="1.05"/><circle cx="394.01" cy="320.50" r="1.05"/><circle cx="396.52" cy="311.09" r="1.05"/><circle cx="399.02" cy="302.61" r="1.05"/><circle cx="401.53" cy="298.73" r="1.05"/><circle cx="404.04" cy="296.83" r="1.05"/><circle cx="406.54" cy="295.89" r="1.05"/><circle cx="409.05" cy="295.47" r="1.05"/><circle cx="411.56" cy="295.13" r="1.05"/><circle cx="414.07" cy="294.82" r="1.05"/></g>
<path d="M313.47,350.00 L313.98,350.00 L314.49,350.00 L315.00,350.00 L315.51,350.00 L316.02,350.00 L316.54,350.00 L317.05,350.00 L317.56,350.00 L318.07,350.00 L318.58,350.00 L319.10,349.99 L319.61,349.84 L320.12,349.52 L320.63,349.04 L321.14,347.71 L321.65,345.55 L322.17,343.03 L322.68,339.17 L323.19,334.24 L323.70,329.47 L324.21,326.08 L324.73,324.26 L325.24,322.83 L325.75,321.78 L326.26,321.08 L326.77,320.53 L327.28,320.08 L327.80,319.70 L328.31,319.36 L328.82,319.05 L329.33,318.75 L329.84,318.48 L330.36,318.24 L330.87,318.01 L331.38,317.78 L331.89,317.54 L332.40,317.31 L332.91,317.09 L333.43,316.86 L333.94,316.62 L334.45,316.35 L334.96,316.06 L335.47,315.75 L335.99,315.41 L336.50,315.05 L337.01,314.67 L337.52,314.25 L338.03,313.79 L338.54,313.21 L339.06,312.57 L339.57,311.95 L340.08,311.42 L340.59,311.03 L341.10,310.71 L341.62,310.42 L342.13,310.15 L342.64,309.90 L343.15,309.64 L343.66,309.36 L344.18,309.05 L344.69,308.71 L345.20,308.36 L345.71,307.99 L346.22,307.62 L346.73,307.26 L347.25,306.91 L347.76,306.56 L348.27,306.20 L348.78,305.87 L349.29,305.58 L349.81,305.33 L350.32,305.09 L350.83,304.87 L351.34,304.72 L351.85,304.66 L352.36,304.75 L352.88,304.98 L353.39,305.31 L353.90,305.67 L354.41,306.02 L354.92,306.42 L355.44,306.87 L355.95,307.37 L356.46,307.89 L356.97,308.43 L357.48,308.97 L357.99,309.51 L358.51,310.06 L359.02,310.64 L359.53,311.24 L360.04,311.86 L360.55,312.52 L361.07,313.23 L361.58,313.98 L362.09,314.76 L362.60,315.57 L363.11,316.38 L363.62,317.19 L364.14,318.04 L364.65,318.92 L365.16,319.78 L365.67,320.58 L366.18,321.29 L366.70,321.92 L367.21,322.50 L367.72,323.08 L368.23,323.71 L368.74,324.42 L369.25,325.17 L369.77,325.92 L370.28,326.64 L370.79,327.28 L371.30,327.97 L371.81,328.68 L372.33,329.34 L372.84,329.87 L373.35,330.18 L373.86,330.21 L374.37,330.09 L374.89,329.85 L375.40,329.55 L375.91,328.84 L376.42,327.79 L376.93,326.87 L377.44,326.21 L377.96,325.60 L378.47,325.08 L378.98,324.66 L379.49,324.29 L380.00,323.95 L380.52,323.70 L381.03,323.61 L381.54,323.76 L382.05,324.09 L382.56,324.47 L383.07,324.78 L383.59,325.07 L384.10,325.36 L384.61,325.66 L385.12,325.96 L385.63,326.26 L386.15,326.59 L386.66,326.99 L387.17,327.52 L387.68,327.90 L388.19,327.88 L388.70,327.52 L389.22,326.99 L389.73,326.39 L390.24,325.56 L390.75,324.55 L391.26,323.44 L391.78,322.15 L392.29,320.67 L392.80,319.10 L393.31,317.53 L393.82,315.97 L394.33,314.36 L394.85,312.74 L395.36,311.17 L395.87,309.68 L396.38,308.13 L396.89,306.57 L397.41,305.08 L397.92,303.72 L398.43,302.57 L398.94,301.68 L399.45,300.94 L399.96,300.25 L400.48,299.62 L400.99,299.05 L401.50,298.53 L402.01,298.09 L402.52,297.71 L403.04,297.41 L403.55,297.17 L404.06,296.96 L404.57,296.76 L405.08,296.58 L405.60,296.42 L406.11,296.27 L406.62,296.14 L407.13,296.01 L407.64,295.91 L408.15,295.81 L408.67,295.73 L409.18,295.65 L409.69,295.58 L410.20,295.51 L410.71,295.45 L411.23,295.38 L411.74,295.32 L412.25,295.27 L412.76,295.22 L413.27,295.18 L413.78,295.14 L414.30,295.12 L414.81,295.10 L415.32,295.10" fill="none" stroke="#111" stroke-width="1.35" stroke-linejoin="round" stroke-linecap="round" opacity="1" clip-path="url(#cj)" />
<g fill="#111" clip-path="url(#cj)"><circle cx="321.30" cy="347.11" r="1.05"/><circle cx="323.81" cy="328.62" r="1.05"/><circle cx="326.31" cy="321.02" r="1.05"/><circle cx="328.82" cy="319.05" r="1.05"/><circle cx="331.33" cy="317.80" r="1.05"/><circle cx="333.84" cy="316.67" r="1.05"/><circle cx="336.34" cy="315.16" r="1.05"/><circle cx="338.85" cy="312.83" r="1.05"/><circle cx="341.36" cy="310.56" r="1.05"/><circle cx="343.86" cy="309.25" r="1.05"/><circle cx="346.37" cy="307.51" r="1.05"/><circle cx="348.88" cy="305.81" r="1.05"/><circle cx="351.39" cy="304.71" r="1.05"/><circle cx="353.89" cy="305.67" r="1.05"/><circle cx="356.40" cy="307.83" r="1.05"/><circle cx="358.91" cy="310.51" r="1.05"/><circle cx="361.42" cy="313.74" r="1.05"/><circle cx="363.92" cy="317.68" r="1.05"/><circle cx="366.43" cy="321.60" r="1.05"/><circle cx="368.94" cy="324.70" r="1.05"/><circle cx="371.44" cy="328.17" r="1.05"/><circle cx="373.95" cy="330.20" r="1.05"/><circle cx="376.46" cy="327.71" r="1.05"/><circle cx="378.97" cy="324.67" r="1.05"/><circle cx="381.47" cy="323.73" r="1.05"/><circle cx="383.98" cy="325.29" r="1.05"/><circle cx="386.49" cy="326.84" r="1.05"/><circle cx="388.99" cy="327.23" r="1.05"/><circle cx="391.50" cy="322.87" r="1.05"/><circle cx="394.01" cy="315.39" r="1.05"/><circle cx="396.52" cy="307.72" r="1.05"/><circle cx="399.02" cy="301.56" r="1.05"/><circle cx="401.53" cy="298.51" r="1.05"/><circle cx="404.04" cy="296.97" r="1.05"/><circle cx="406.54" cy="296.15" r="1.05"/><circle cx="409.05" cy="295.67" r="1.05"/><circle cx="411.56" cy="295.34" r="1.05"/><circle cx="414.07" cy="295.13" r="1.05"/></g>
<ellipse cx="345.5" cy="297.3" rx="15.4" ry="7.2" fill="none" stroke="#2a70e8" stroke-width="1.2" stroke-dasharray="1.3,1.1" transform="rotate(4 345.5 297.3)"/>
<ellipse cx="381.9" cy="330.2" rx="14.8" ry="6.6" fill="none" stroke="#2a70e8" stroke-width="1.2" stroke-dasharray="1.3,1.1"/>
<rect x="313.70" y="268.30" width="101.60" height="81.70" fill="none" stroke="#222" stroke-width="0.9" />
<text x="311.30" y="350.00" font-size="4.8" font-weight="bold" text-anchor="end" fill="#222" font-family='"Liberation Serif", serif' dominant-baseline="central" >0</text>
<text x="311.30" y="333.66" font-size="4.8" font-weight="bold" text-anchor="end" fill="#222" font-family='"Liberation Serif", serif' dominant-baseline="central" >20</text>
<text x="311.30" y="317.32" font-size="4.8" font-weight="bold" text-anchor="end" fill="#222" font-family='"Liberation Serif", serif' dominant-baseline="central" >40</text>
<text x="311.30" y="300.98" font-size="4.8" font-weight="bold" text-anchor="end" fill="#222" font-family='"Liberation Serif", serif' dominant-baseline="central" >60</text>
<text x="311.30" y="284.64" font-size="4.8" font-weight="bold" text-anchor="end" fill="#222" font-family='"Liberation Serif", serif' dominant-baseline="central" >80</text>
<text x="311.30" y="268.30" font-size="4.8" font-weight="bold" text-anchor="end" fill="#222" font-family='"Liberation Serif", serif' dominant-baseline="central" >100</text>
<text x="321.30" y="354.00" font-size="4.8" font-weight="bold" text-anchor="middle" fill="#222" font-family='"Liberation Serif", serif' dominant-baseline="central" >300</text>
<text x="336.97" y="354.00" font-size="4.8" font-weight="bold" text-anchor="middle" fill="#222" font-family='"Liberation Serif", serif' dominant-baseline="central" >400</text>
<text x="352.64" y="354.00" font-size="4.8" font-weight="bold" text-anchor="middle" fill="#222" font-family='"Liberation Serif", serif' dominant-baseline="central" >500</text>
<text x="368.31" y="354.00" font-size="4.8" font-weight="bold" text-anchor="middle" fill="#222" font-family='"Liberation Serif", serif' dominant-baseline="central" >600</text>
<text x="383.98" y="354.00" font-size="4.8" font-weight="bold" text-anchor="middle" fill="#222" font-family='"Liberation Serif", serif' dominant-baseline="central" >700</text>
<text x="399.65" y="354.00" font-size="4.8" font-weight="bold" text-anchor="middle" fill="#222" font-family='"Liberation Serif", serif' dominant-baseline="central" >800</text>
<text x="415.32" y="354.00" font-size="4.8" font-weight="bold" text-anchor="middle" fill="#222" font-family='"Liberation Serif", serif' dominant-baseline="central" >900</text>
<line x1="321.30" y1="350.00" x2="321.30" y2="348.50" stroke="#222" stroke-width="0.6" />
<line x1="336.97" y1="350.00" x2="336.97" y2="348.50" stroke="#222" stroke-width="0.6" />
<line x1="352.64" y1="350.00" x2="352.64" y2="348.50" stroke="#222" stroke-width="0.6" />
<line x1="368.31" y1="350.00" x2="368.31" y2="348.50" stroke="#222" stroke-width="0.6" />
<line x1="383.98" y1="350.00" x2="383.98" y2="348.50" stroke="#222" stroke-width="0.6" />
<line x1="399.65" y1="350.00" x2="399.65" y2="348.50" stroke="#222" stroke-width="0.6" />
<line x1="415.32" y1="350.00" x2="415.32" y2="348.50" stroke="#222" stroke-width="0.6" />
<line x1="313.70" y1="350.00" x2="315.20" y2="350.00" stroke="#222" stroke-width="0.6" />
<line x1="313.70" y1="333.66" x2="315.20" y2="333.66" stroke="#222" stroke-width="0.6" />
<line x1="313.70" y1="317.32" x2="315.20" y2="317.32" stroke="#222" stroke-width="0.6" />
<line x1="313.70" y1="300.98" x2="315.20" y2="300.98" stroke="#222" stroke-width="0.6" />
<line x1="313.70" y1="284.64" x2="315.20" y2="284.64" stroke="#222" stroke-width="0.6" />
<line x1="313.70" y1="268.30" x2="315.20" y2="268.30" stroke="#222" stroke-width="0.6" />
<text x="303.30" y="304.20" font-size="7.1" font-weight="bold" text-anchor="middle" fill="#222" font-family='"Liberation Serif", serif' dominant-baseline="central" transform="rotate(-90 303.3 304.2)" >Transmittance %</text>
<text x="335.30" y="360.60" font-size="6.8" font-weight="bold" text-anchor="start" fill="#222" font-family='"Liberation Serif", serif' dominant-baseline="central" >Wavelength</text>
<text x="380.50" y="360.60" font-size="6.8" font-weight="bold" text-anchor="middle" fill="#222" font-family='"Liberation Serif", serif' dominant-baseline="central" >( nm )</text>
<line x1="323.50" y1="333.20" x2="335.30" y2="333.20" stroke="#b04ac8" stroke-width="1.1" />
<circle cx="329.4" cy="333.2" r="1.1" fill="#b04ac8"/>
<text x="337.10" y="333.20" font-size="5.2" font-weight="bold" text-anchor="start" fill="#222" font-family='"Liberation Serif", serif' dominant-baseline="central" >ITO glass</text>
<line x1="323.50" y1="340.00" x2="335.30" y2="340.00" stroke="#f02828" stroke-width="1.1" />
<circle cx="329.4" cy="340.0" r="1.1" fill="#f02828"/>
<text x="337.10" y="340.00" font-size="5.2" font-weight="bold" text-anchor="start" fill="#222" font-family='"Liberation Serif", serif' dominant-baseline="central" >ITO/glass/ZnO/PCE10-2Cl:IT-4F</text>
<line x1="323.50" y1="346.80" x2="335.30" y2="346.80" stroke="#111" stroke-width="1.1" />
<circle cx="329.4" cy="346.8" r="1.1" fill="#111"/>
<text x="337.10" y="346.80" font-size="5.2" font-weight="bold" text-anchor="start" fill="#222" font-family='"Liberation Serif", serif' dominant-baseline="central" >ITO/glass/ZnO/PM6:IT-4F</text>
<text x="457.40" y="262.50" font-size="14.2" font-weight="bold" fill="#111" font-family='"Liberation Sans", sans-serif' dominant-baseline="central" textLength="17.20" lengthAdjust="spacingAndGlyphs">(k)</text>
<rect x="436.20" y="276.00" width="71.80" height="22.60" fill="#4a74c6" stroke="none" stroke-width="1" />
<text x="471.80" y="287.40" font-size="7.8" font-weight="bold" text-anchor="middle" fill="#fff" font-family='"Liberation Serif", serif' dominant-baseline="central" >50.7%AVT</text>
<text x="437.30" y="309.80" font-size="9.6" font-weight="bold" text-anchor="start" fill="#111" font-family='"Liberation Serif", serif' dominant-baseline="central" >PCE10-2Cl:IT-4F</text>
<rect x="436.20" y="318.20" width="52.20" height="22.80" fill="#465679" stroke="none" stroke-width="1" />
<text x="462.20" y="329.70" font-size="7.9" font-weight="bold" text-anchor="middle" fill="#fff" font-family='"Liberation Serif", serif' dominant-baseline="central" >37.4%AVT</text>
<text x="437.30" y="350.40" font-size="9.7" font-weight="bold" text-anchor="start" fill="#111" font-family='"Liberation Serif", serif' dominant-baseline="central" >PM6:IT-4F</text>
<rect x="510.80" y="270.30" width="29.80" height="84.40" fill="url(#gstrip)" stroke="none" stroke-width="1" />
<rect x="513.50" y="277.60" width="21.90" height="25.00" fill="url(#gsq1)" stroke="#ec9a9a" stroke-width="0.8" />
<rect x="513.50" y="315.10" width="21.90" height="22.90" fill="url(#gsq2)" stroke="#ec9a9a" stroke-width="0.8" />
<path d="M519,284.5 C521,281.5 527,281.5 529.5,284 C531,287 528,289.5 524,289 M520.5,290.5 C523,293 528.5,294 530,291 M518.5,295 C521,298.5 526,299 528,297" fill="none" stroke="#111a28" stroke-width="1.7" stroke-linecap="round"/>
<path d="M524.5,319 L524,334 M517,324.5 L531,323.5 M524,326 L517.5,334.5 M524.5,326 L531,335" fill="none" stroke="#0e1420" stroke-width="1.7" stroke-linecap="round"/>
<path d="M518.5,307 C520,305 523,305.5 522.5,308.5 C522,311 519,311 518.5,309 M525,306 C527,305 530,306 529.5,309 C529,311 526,311 525,309 M518,311.5 L530,311.5" fill="none" stroke="#222" stroke-width="0.9"/>
<path d="M517.5,343 L522,346.5 M521,342 L520,349 M524,343.5 C526,345 528,347 527.5,350 M523,348.5 L529,346 M525,350 L527,352" fill="none" stroke="#222" stroke-width="1"/>
<text x="9.20" y="377.00" font-size="14.2" font-weight="bold" fill="#111" font-family='"Liberation Sans", sans-serif' dominant-baseline="central" textLength="12.90" lengthAdjust="spacingAndGlyphs">(l)</text>
<path d="M26.20,444.95 L26.72,444.93 L27.24,444.90 L27.76,444.88 L28.28,444.85 L28.80,444.83 L29.32,444.80 L29.84,444.77 L30.36,444.75 L30.88,444.72 L31.40,444.69 L31.92,444.66 L32.44,444.63 L32.95,444.60 L33.47,444.57 L33.99,444.54 L34.51,444.51 L35.03,444.48 L35.55,444.45 L36.07,444.41 L36.59,444.38 L37.11,444.35 L37.63,444.32 L38.15,444.28 L38.67,444.25 L39.19,444.21 L39.71,444.18 L40.23,444.14 L40.75,444.11 L41.27,444.07 L41.79,444.03 L42.31,443.99 L42.83,443.95 L43.35,443.92 L43.87,443.88 L44.39,443.84 L44.91,443.80 L45.43,443.76 L45.94,443.71 L46.46,443.67 L46.98,443.63 L47.50,443.59 L48.02,443.55 L48.54,443.50 L49.06,443.46 L49.58,443.42 L50.10,443.37 L50.62,443.33 L51.14,443.28 L51.66,443.24 L52.18,443.19 L52.70,443.14 L53.22,443.09 L53.74,443.05 L54.26,443.00 L54.78,442.95 L55.30,442.90 L55.82,442.85 L56.34,442.80 L56.86,442.75 L57.38,442.70 L57.90,442.65 L58.42,442.60 L58.93,442.54 L59.45,442.49 L59.97,442.44 L60.49,442.39 L61.01,442.33 L61.53,442.28 L62.05,442.23 L62.57,442.17 L63.09,442.12 L63.61,442.06 L64.13,442.01 L64.65,441.95 L65.17,441.89 L65.69,441.83 L66.21,441.78 L66.73,441.72 L67.25,441.66 L67.77,441.60 L68.29,441.53 L68.81,441.47 L69.33,441.41 L69.85,441.34 L70.37,441.28 L70.89,441.21 L71.41,441.14 L71.92,441.07 L72.44,441.00 L72.96,440.93 L73.48,440.86 L74.00,440.79 L74.52,440.71 L75.04,440.64 L75.56,440.56 L76.08,440.48 L76.60,440.40 L77.12,440.32 L77.64,440.24 L78.16,440.16 L78.68,440.08 L79.20,440.00 L79.72,439.92 L80.24,439.83 L80.76,439.75 L81.28,439.66 L81.80,439.58 L82.32,439.49 L82.84,439.41 L83.36,439.32 L83.88,439.24 L84.39,439.15 L84.91,439.06 L85.43,438.97 L85.95,438.88 L86.47,438.79 L86.99,438.70 L87.51,438.60 L88.03,438.51 L88.55,438.41 L89.07,438.31 L89.59,438.21 L90.11,438.10 L90.63,437.99 L91.15,437.88 L91.67,437.77 L92.19,437.65 L92.71,437.53 L93.23,437.40 L93.75,437.28 L94.27,437.14 L94.79,437.01 L95.31,436.87 L95.83,436.73 L96.35,436.58 L96.87,436.43 L97.38,436.27 L97.90,436.11 L98.42,435.94 L98.94,435.76 L99.46,435.58 L99.98,435.39 L100.50,435.20 L101.02,435.00 L101.54,434.78 L102.06,434.55 L102.58,434.31 L103.10,434.05 L103.62,433.78 L104.14,433.50 L104.66,433.20 L105.18,432.90 L105.70,432.58 L106.22,432.26 L106.74,431.92 L107.26,431.58 L107.78,431.23 L108.30,430.88 L108.82,430.51 L109.34,430.13 L109.86,429.73 L110.37,429.30 L110.89,428.83 L111.41,428.33 L111.93,427.77 L112.45,427.14 L112.97,426.41 L113.49,425.59 L114.01,424.69 L114.53,423.73 L115.05,422.72 L115.57,421.68 L116.09,420.62 L116.61,419.54 L117.13,418.39 L117.65,417.15 L118.17,415.86 L118.69,414.54 L119.21,413.21 L119.73,411.89 L120.25,410.54 L120.77,409.17 L121.29,407.78 L121.81,406.36 L122.33,404.89 L122.85,403.39 L123.36,401.82 L123.88,400.16 L124.40,398.45 L124.92,396.72 L125.44,395.00 L125.96,393.32 L126.48,391.66 L127.00,390.00 L127.52,388.35 L128.04,386.71 L128.56,385.07 L129.08,383.44 L129.60,381.82" fill="none" stroke="#3cb43c" stroke-width="1.25" stroke-linejoin="round" stroke-linecap="round" opacity="1" clip-path="url(#cl)" />
<g fill="#3cb43c" clip-path="url(#cl)"><circle cx="28.40" cy="444.85" r="1.1"/><circle cx="32.80" cy="444.61" r="1.1"/><circle cx="37.20" cy="444.34" r="1.1"/><circle cx="41.60" cy="444.04" r="1.1"/><circle cx="46.00" cy="443.71" r="1.1"/><circle cx="50.40" cy="443.35" r="1.1"/><circle cx="54.80" cy="442.95" r="1.1"/><circle cx="59.20" cy="442.52" r="1.1"/><circle cx="63.60" cy="442.06" r="1.1"/><circle cx="68.00" cy="441.57" r="1.1"/><circle cx="72.40" cy="441.01" r="1.1"/><circle cx="76.80" cy="440.37" r="1.1"/><circle cx="81.20" cy="439.68" r="1.1"/><circle cx="85.60" cy="438.94" r="1.1"/><circle cx="90.00" cy="438.12" r="1.1"/><circle cx="94.40" cy="437.11" r="1.1"/><circle cx="98.80" cy="435.81" r="1.1"/><circle cx="103.20" cy="434.00" r="1.1"/><circle cx="107.60" cy="431.35" r="1.1"/><circle cx="112.00" cy="427.70" r="1.1"/><circle cx="116.40" cy="419.98" r="1.1"/><circle cx="120.80" cy="409.09" r="1.1"/><circle cx="125.20" cy="395.80" r="1.1"/><circle cx="129.60" cy="381.82" r="1.1"/></g>
<path d="M26.20,454.70 L26.73,454.67 L27.25,454.65 L27.78,454.62 L28.30,454.60 L28.83,454.57 L29.35,454.54 L29.88,454.51 L30.40,454.49 L30.93,454.46 L31.45,454.43 L31.98,454.40 L32.50,454.37 L33.03,454.34 L33.55,454.31 L34.08,454.28 L34.60,454.25 L35.13,454.22 L35.65,454.18 L36.18,454.15 L36.70,454.12 L37.23,454.09 L37.75,454.05 L38.28,454.02 L38.80,453.98 L39.33,453.95 L39.85,453.91 L40.38,453.87 L40.90,453.83 L41.43,453.79 L41.95,453.75 L42.48,453.71 L43.00,453.67 L43.53,453.63 L44.05,453.59 L44.58,453.55 L45.10,453.51 L45.63,453.47 L46.15,453.43 L46.68,453.39 L47.21,453.35 L47.73,453.31 L48.26,453.27 L48.78,453.23 L49.31,453.20 L49.83,453.16 L50.36,453.12 L50.88,453.09 L51.41,453.05 L51.93,453.01 L52.46,452.98 L52.98,452.94 L53.51,452.90 L54.03,452.87 L54.56,452.83 L55.08,452.79 L55.61,452.75 L56.13,452.71 L56.66,452.67 L57.18,452.63 L57.71,452.59 L58.23,452.55 L58.76,452.50 L59.28,452.46 L59.81,452.41 L60.33,452.36 L60.86,452.31 L61.38,452.26 L61.91,452.20 L62.43,452.15 L62.96,452.09 L63.48,452.03 L64.01,451.98 L64.53,451.92 L65.06,451.86 L65.58,451.80 L66.11,451.73 L66.63,451.67 L67.16,451.61 L67.68,451.55 L68.21,451.48 L68.74,451.42 L69.26,451.36 L69.79,451.30 L70.31,451.23 L70.84,451.17 L71.36,451.11 L71.89,451.05 L72.41,450.98 L72.94,450.92 L73.46,450.86 L73.99,450.80 L74.51,450.73 L75.04,450.67 L75.56,450.61 L76.09,450.54 L76.61,450.47 L77.14,450.41 L77.66,450.34 L78.19,450.27 L78.71,450.19 L79.24,450.12 L79.76,450.04 L80.29,449.97 L80.81,449.89 L81.34,449.80 L81.86,449.72 L82.39,449.63 L82.91,449.55 L83.44,449.46 L83.96,449.37 L84.49,449.27 L85.01,449.18 L85.54,449.08 L86.06,448.98 L86.59,448.88 L87.11,448.77 L87.64,448.66 L88.16,448.55 L88.69,448.44 L89.22,448.32 L89.74,448.20 L90.27,448.08 L90.79,447.95 L91.32,447.82 L91.84,447.69 L92.37,447.55 L92.89,447.40 L93.42,447.25 L93.94,447.09 L94.47,446.93 L94.99,446.76 L95.52,446.58 L96.04,446.39 L96.57,446.20 L97.09,446.01 L97.62,445.80 L98.14,445.59 L98.67,445.38 L99.19,445.15 L99.72,444.93 L100.24,444.69 L100.77,444.45 L101.29,444.21 L101.82,443.95 L102.34,443.69 L102.87,443.41 L103.39,443.12 L103.92,442.82 L104.44,442.51 L104.97,442.18 L105.49,441.83 L106.02,441.47 L106.54,441.10 L107.07,440.70 L107.59,440.29 L108.12,439.85 L108.64,439.38 L109.17,438.87 L109.69,438.33 L110.22,437.74 L110.75,437.12 L111.27,436.44 L111.80,435.71 L112.32,434.91 L112.85,433.99 L113.37,432.96 L113.90,431.83 L114.42,430.62 L114.95,429.36 L115.47,428.04 L116.00,426.70 L116.52,425.35 L117.05,423.92 L117.57,422.39 L118.10,420.78 L118.62,419.12 L119.15,417.41 L119.67,415.69 L120.20,413.96 L120.72,412.26 L121.25,410.60 L121.77,408.99 L122.30,407.46 L122.82,405.96 L123.35,404.50 L123.87,403.06 L124.40,401.63 L124.92,400.20 L125.45,398.76 L125.97,397.31 L126.50,395.82 L127.02,394.30 L127.55,392.74 L128.07,391.13 L128.60,389.49 L129.12,387.81 L129.65,386.11 L130.17,384.38 L130.70,382.63" fill="none" stroke="#ee2a2a" stroke-width="1.25" stroke-linejoin="round" stroke-linecap="round" opacity="1" clip-path="url(#cl)" />
<g fill="#ee2a2a" clip-path="url(#cl)"><circle cx="28.40" cy="454.59" r="1.1"/><circle cx="32.80" cy="454.35" r="1.1"/><circle cx="37.20" cy="454.09" r="1.1"/><circle cx="41.60" cy="453.78" r="1.1"/><circle cx="46.00" cy="453.44" r="1.1"/><circle cx="50.40" cy="453.12" r="1.1"/><circle cx="54.80" cy="452.81" r="1.1"/><circle cx="59.20" cy="452.46" r="1.1"/><circle cx="63.60" cy="452.02" r="1.1"/><circle cx="68.00" cy="451.51" r="1.1"/><circle cx="72.40" cy="450.99" r="1.1"/><circle cx="76.80" cy="450.45" r="1.1"/><circle cx="81.20" cy="449.82" r="1.1"/><circle cx="85.60" cy="449.07" r="1.1"/><circle cx="90.00" cy="448.14" r="1.1"/><circle cx="94.40" cy="446.95" r="1.1"/><circle cx="98.80" cy="445.32" r="1.1"/><circle cx="103.20" cy="443.23" r="1.1"/><circle cx="107.60" cy="440.28" r="1.1"/><circle cx="112.00" cy="435.41" r="1.1"/><circle cx="116.40" cy="425.67" r="1.1"/><circle cx="120.80" cy="412.01" r="1.1"/><circle cx="125.20" cy="399.44" r="1.1"/><circle cx="129.60" cy="386.27" r="1.1"/></g>
<path d="M26.20,460.38 L26.72,460.36 L27.24,460.33 L27.77,460.31 L28.29,460.28 L28.81,460.25 L29.33,460.23 L29.86,460.20 L30.38,460.17 L30.90,460.14 L31.42,460.12 L31.95,460.09 L32.47,460.06 L32.99,460.03 L33.51,460.00 L34.04,459.97 L34.56,459.93 L35.08,459.90 L35.60,459.87 L36.12,459.84 L36.65,459.81 L37.17,459.77 L37.69,459.74 L38.21,459.71 L38.74,459.67 L39.26,459.64 L39.78,459.60 L40.30,459.56 L40.83,459.53 L41.35,459.49 L41.87,459.45 L42.39,459.41 L42.92,459.38 L43.44,459.34 L43.96,459.30 L44.48,459.26 L45.01,459.22 L45.53,459.18 L46.05,459.13 L46.57,459.09 L47.09,459.05 L47.62,459.01 L48.14,458.96 L48.66,458.92 L49.18,458.88 L49.71,458.83 L50.23,458.79 L50.75,458.74 L51.27,458.70 L51.80,458.65 L52.32,458.60 L52.84,458.56 L53.36,458.51 L53.89,458.46 L54.41,458.41 L54.93,458.36 L55.45,458.31 L55.97,458.26 L56.50,458.21 L57.02,458.16 L57.54,458.11 L58.06,458.06 L58.59,458.01 L59.11,457.95 L59.63,457.90 L60.15,457.85 L60.68,457.79 L61.20,457.74 L61.72,457.68 L62.24,457.63 L62.77,457.57 L63.29,457.52 L63.81,457.46 L64.33,457.40 L64.85,457.34 L65.38,457.29 L65.90,457.23 L66.42,457.17 L66.94,457.11 L67.47,457.05 L67.99,456.99 L68.51,456.93 L69.03,456.87 L69.56,456.80 L70.08,456.74 L70.60,456.68 L71.12,456.62 L71.65,456.55 L72.17,456.49 L72.69,456.43 L73.21,456.37 L73.73,456.30 L74.26,456.24 L74.78,456.18 L75.30,456.11 L75.82,456.05 L76.35,455.98 L76.87,455.91 L77.39,455.84 L77.91,455.77 L78.44,455.70 L78.96,455.63 L79.48,455.56 L80.00,455.48 L80.53,455.41 L81.05,455.33 L81.57,455.25 L82.09,455.17 L82.62,455.09 L83.14,455.00 L83.66,454.92 L84.18,454.83 L84.70,454.74 L85.23,454.65 L85.75,454.56 L86.27,454.47 L86.79,454.37 L87.32,454.27 L87.84,454.18 L88.36,454.08 L88.88,453.97 L89.41,453.87 L89.93,453.76 L90.45,453.65 L90.97,453.54 L91.50,453.43 L92.02,453.32 L92.54,453.20 L93.06,453.08 L93.58,452.95 L94.11,452.82 L94.63,452.68 L95.15,452.54 L95.67,452.40 L96.20,452.25 L96.72,452.10 L97.24,451.95 L97.76,451.80 L98.29,451.64 L98.81,451.49 L99.33,451.33 L99.85,451.18 L100.38,451.02 L100.90,450.87 L101.42,450.72 L101.94,450.57 L102.46,450.43 L102.99,450.28 L103.51,450.14 L104.03,449.99 L104.55,449.84 L105.08,449.69 L105.60,449.52 L106.12,449.35 L106.64,449.17 L107.17,448.98 L107.69,448.77 L108.21,448.56 L108.73,448.33 L109.26,448.09 L109.78,447.83 L110.30,447.55 L110.82,447.23 L111.34,446.87 L111.87,446.48 L112.39,446.02 L112.91,445.46 L113.43,444.79 L113.96,444.03 L114.48,443.18 L115.00,442.26 L115.52,441.27 L116.05,440.21 L116.57,439.10 L117.09,437.83 L117.61,436.37 L118.14,434.76 L118.66,433.02 L119.18,431.15 L119.70,429.19 L120.23,427.16 L120.75,425.07 L121.27,422.82 L121.79,420.28 L122.31,417.53 L122.84,414.65 L123.36,411.71 L123.88,408.80 L124.40,406.00 L124.93,403.39 L125.45,401.04 L125.97,398.91 L126.49,396.89 L127.02,394.82 L127.54,392.57 L128.06,390.20 L128.58,387.73 L129.11,385.17 L129.63,382.53 L130.15,379.79" fill="none" stroke="#111" stroke-width="1.25" stroke-linejoin="round" stroke-linecap="round" opacity="1" clip-path="url(#cl)" />
<g fill="#111" clip-path="url(#cl)"><circle cx="28.40" cy="460.27" r="1.1"/><circle cx="32.80" cy="460.04" r="1.1"/><circle cx="37.20" cy="459.77" r="1.1"/><circle cx="41.60" cy="459.47" r="1.1"/><circle cx="46.00" cy="459.14" r="1.1"/><circle cx="50.40" cy="458.77" r="1.1"/><circle cx="54.80" cy="458.38" r="1.1"/><circle cx="59.20" cy="457.94" r="1.1"/><circle cx="63.60" cy="457.48" r="1.1"/><circle cx="68.00" cy="456.99" r="1.1"/><circle cx="72.40" cy="456.46" r="1.1"/><circle cx="76.80" cy="455.92" r="1.1"/><circle cx="81.20" cy="455.31" r="1.1"/><circle cx="85.60" cy="454.59" r="1.1"/><circle cx="90.00" cy="453.75" r="1.1"/><circle cx="94.40" cy="452.74" r="1.1"/><circle cx="98.80" cy="451.49" r="1.1"/><circle cx="103.20" cy="450.23" r="1.1"/><circle cx="107.60" cy="448.81" r="1.1"/><circle cx="112.00" cy="446.37" r="1.1"/><circle cx="116.40" cy="439.47" r="1.1"/><circle cx="120.80" cy="424.86" r="1.1"/><circle cx="125.20" cy="402.12" r="1.1"/><circle cx="129.60" cy="382.67" r="1.1"/></g>
<line x1="26.90" y1="394.00" x2="128.60" y2="394.00" stroke="#222" stroke-width="1.0" />
<line x1="38.20" y1="386.00" x2="38.20" y2="462.20" stroke="#222" stroke-width="1.0" />
<rect x="26.90" y="386.00" width="101.70" height="76.20" fill="none" stroke="#222" stroke-width="0.9" />
<text x="25.80" y="394.00" font-size="5.0" font-weight="bold" text-anchor="end" fill="#222" font-family='"Liberation Serif", serif' dominant-baseline="central" >0</text>
<text x="25.80" y="414.30" font-size="5.0" font-weight="bold" text-anchor="end" fill="#222" font-family='"Liberation Serif", serif' dominant-baseline="central" >-5</text>
<text x="25.80" y="434.60" font-size="5.0" font-weight="bold" text-anchor="end" fill="#222" font-family='"Liberation Serif", serif' dominant-baseline="central" >-10</text>
<text x="25.80" y="454.90" font-size="5.0" font-weight="bold" text-anchor="end" fill="#222" font-family='"Liberation Serif", serif' dominant-baseline="central" >-15</text>
<text x="38.00" y="466.60" font-size="5.0" font-weight="bold" text-anchor="middle" fill="#222" font-family='"Liberation Serif", serif' dominant-baseline="central" >0.0</text>
<text x="60.00" y="466.60" font-size="5.0" font-weight="bold" text-anchor="middle" fill="#222" font-family='"Liberation Serif", serif' dominant-baseline="central" >0.2</text>
<text x="82.00" y="466.60" font-size="5.0" font-weight="bold" text-anchor="middle" fill="#222" font-family='"Liberation Serif", serif' dominant-baseline="central" >0.4</text>
<text x="104.00" y="466.60" font-size="5.0" font-weight="bold" text-anchor="middle" fill="#222" font-family='"Liberation Serif", serif' dominant-baseline="central" >0.6</text>
<text x="126.00" y="466.60" font-size="5.0" font-weight="bold" text-anchor="middle" fill="#222" font-family='"Liberation Serif", serif' dominant-baseline="central" >0.8</text>
<line x1="37.20" y1="462.20" x2="37.20" y2="460.70" stroke="#222" stroke-width="0.6" />
<line x1="59.20" y1="462.20" x2="59.20" y2="460.70" stroke="#222" stroke-width="0.6" />
<line x1="81.20" y1="462.20" x2="81.20" y2="460.70" stroke="#222" stroke-width="0.6" />
<line x1="103.20" y1="462.20" x2="103.20" y2="460.70" stroke="#222" stroke-width="0.6" />
<line x1="125.20" y1="462.20" x2="125.20" y2="460.70" stroke="#222" stroke-width="0.6" />
<line x1="26.90" y1="394.00" x2="28.40" y2="394.00" stroke="#222" stroke-width="0.6" />
<line x1="26.90" y1="414.30" x2="28.40" y2="414.30" stroke="#222" stroke-width="0.6" />
<line x1="26.90" y1="434.60" x2="28.40" y2="434.60" stroke="#222" stroke-width="0.6" />
<line x1="26.90" y1="454.90" x2="28.40" y2="454.90" stroke="#222" stroke-width="0.6" />
<text x="77.90" y="471.90" font-size="7.1" font-weight="bold" text-anchor="middle" fill="#222" font-family='"Liberation Serif", serif' dominant-baseline="central" >Voltage (V)</text>
<text x="16.30" y="422.30" font-size="6.2" font-weight="bold" text-anchor="middle" fill="#222" font-family='"Liberation Serif", serif' dominant-baseline="central" transform="rotate(-90 16.3 422.3)" >J (mA/cm^2)</text>
<line x1="62.50" y1="407.40" x2="74.20" y2="407.40" stroke="#111" stroke-width="1.1" />
<circle cx="68.3" cy="407.4" r="1.1" fill="#111"/>
<text x="76.20" y="407.40" font-size="5.4" font-weight="bold" text-anchor="start" fill="#222" font-family='"Liberation Serif", serif' dominant-baseline="central" >15 nm Ag</text>
<line x1="62.50" y1="413.50" x2="74.20" y2="413.50" stroke="#ee2a2a" stroke-width="1.1" />
<circle cx="68.3" cy="413.5" r="1.1" fill="#ee2a2a"/>
<text x="76.20" y="413.50" font-size="5.4" font-weight="bold" text-anchor="start" fill="#222" font-family='"Liberation Serif", serif' dominant-baseline="central" >10 nm Ag</text>
<line x1="62.50" y1="419.60" x2="74.20" y2="419.60" stroke="#3cb43c" stroke-width="1.1" />
<circle cx="68.3" cy="419.59999999999997" r="1.1" fill="#3cb43c"/>
<text x="76.20" y="419.60" font-size="5.4" font-weight="bold" text-anchor="start" fill="#222" font-family='"Liberation Serif", serif' dominant-baseline="central" >5 nm Ag</text>
<text x="142.70" y="374.50" font-size="14.2" font-weight="bold" fill="#111" font-family='"Liberation Sans", sans-serif' dominant-baseline="central" textLength="21.90" lengthAdjust="spacingAndGlyphs">(m)</text>
<path d="M156.90,463.10 L157.39,462.95 L157.89,462.57 L158.38,462.06 L158.88,461.39 L159.37,460.32 L159.87,459.05 L160.36,457.78 L160.86,456.44 L161.35,455.00 L161.84,453.49 L162.34,451.92 L162.83,450.30 L163.33,448.49 L163.82,446.57 L164.32,444.68 L164.81,442.94 L165.31,441.43 L165.80,439.96 L166.29,438.62 L166.79,437.58 L167.28,436.94 L167.78,436.44 L168.27,436.08 L168.77,435.97 L169.26,436.37 L169.76,437.13 L170.25,437.88 L170.75,438.46 L171.24,439.08 L171.73,439.63 L172.23,439.97 L172.72,440.00 L173.22,439.91 L173.71,439.76 L174.21,439.57 L174.70,439.21 L175.20,438.65 L175.69,437.99 L176.18,437.30 L176.68,436.65 L177.17,435.98 L177.67,435.27 L178.16,434.54 L178.66,433.82 L179.15,433.15 L179.65,432.55 L180.14,432.02 L180.63,431.48 L181.13,430.96 L181.62,430.55 L182.12,430.32 L182.61,430.31 L183.11,430.40 L183.60,430.55 L184.10,430.76 L184.59,431.00 L185.08,431.35 L185.58,432.02 L186.07,432.85 L186.57,433.68 L187.06,434.39 L187.56,435.12 L188.05,435.82 L188.55,436.44 L189.04,436.92 L189.54,437.37 L190.03,437.80 L190.52,438.14 L191.02,438.35 L191.51,438.39 L192.01,438.36 L192.50,438.29 L193.00,438.19 L193.49,438.07 L193.99,437.93 L194.48,437.65 L194.97,437.25 L195.47,436.74 L195.96,436.16 L196.46,435.54 L196.95,434.91 L197.45,434.25 L197.94,433.48 L198.44,432.63 L198.93,431.75 L199.42,430.89 L199.92,430.07 L200.41,429.23 L200.91,428.39 L201.40,427.57 L201.90,426.80 L202.39,426.08 L202.89,425.37 L203.38,424.69 L203.87,424.06 L204.37,423.50 L204.86,423.01 L205.36,422.56 L205.85,422.14 L206.35,421.77 L206.84,421.43 L207.34,421.14 L207.83,420.88 L208.33,420.65 L208.82,420.42 L209.31,420.20 L209.81,419.98 L210.30,419.76 L210.80,419.54 L211.29,419.33 L211.79,419.13 L212.28,418.92 L212.78,418.73 L213.27,418.53 L213.76,418.34 L214.26,418.16 L214.75,417.98 L215.25,417.81 L215.74,417.64 L216.24,417.47 L216.73,417.31 L217.23,417.15 L217.72,416.99 L218.21,416.84 L218.71,416.68 L219.20,416.53 L219.70,416.38 L220.19,416.22 L220.69,416.07 L221.18,415.92 L221.68,415.77 L222.17,415.63 L222.66,415.49 L223.16,415.35 L223.65,415.21 L224.15,415.06 L224.64,414.89 L225.14,414.74 L225.63,414.62 L226.13,414.53 L226.62,414.50 L227.12,414.55 L227.61,414.68 L228.10,414.87 L228.60,415.09 L229.09,415.33 L229.59,415.60 L230.08,415.95 L230.58,416.37 L231.07,416.85 L231.57,417.39 L232.06,418.07 L232.55,418.93 L233.05,419.93 L233.54,421.09 L234.04,422.48 L234.53,424.04 L235.03,425.72 L235.52,427.47 L236.02,429.32 L236.51,431.33 L237.00,433.53 L237.50,435.99 L237.99,438.92 L238.49,442.01 L238.98,444.94 L239.48,447.87 L239.97,450.78 L240.47,453.36 L240.96,455.31 L241.45,456.89 L241.95,458.26 L242.44,459.38 L242.94,460.19 L243.43,460.74 L243.93,461.21 L244.42,461.60 L244.92,461.90 L245.41,462.11 L245.91,462.26 L246.40,462.39 L246.89,462.51 L247.39,462.60 L247.88,462.68 L248.38,462.74 L248.87,462.79 L249.37,462.83 L249.86,462.87 L250.36,462.90 L250.85,462.94 L251.34,462.97 L251.84,463.00 L252.33,463.02 L252.83,463.05 L253.32,463.06 L253.82,463.08 L254.31,463.09 L254.81,463.10 L255.30,463.10" fill="none" stroke="#3cb43c" stroke-width="1.25" stroke-linejoin="round" stroke-linecap="round" opacity="1" clip-path="url(#cm)" />
<g fill="#3cb43c" clip-path="url(#cm)"><circle cx="156.90" cy="463.10" r="1.05"/><circle cx="158.54" cy="461.89" r="1.05"/><circle cx="160.18" cy="458.24" r="1.05"/><circle cx="161.82" cy="453.57" r="1.05"/><circle cx="163.46" cy="447.98" r="1.05"/><circle cx="165.10" cy="442.04" r="1.05"/><circle cx="166.74" cy="437.66" r="1.05"/><circle cx="168.38" cy="436.03" r="1.05"/><circle cx="170.02" cy="437.55" r="1.05"/><circle cx="171.66" cy="439.56" r="1.05"/><circle cx="173.30" cy="439.89" r="1.05"/><circle cx="174.94" cy="438.96" r="1.05"/><circle cx="176.58" cy="436.78" r="1.05"/><circle cx="178.22" cy="434.45" r="1.05"/><circle cx="179.86" cy="432.32" r="1.05"/><circle cx="181.50" cy="430.64" r="1.05"/><circle cx="183.14" cy="430.41" r="1.05"/><circle cx="184.78" cy="431.11" r="1.05"/><circle cx="186.42" cy="433.44" r="1.05"/><circle cx="188.06" cy="435.83" r="1.05"/><circle cx="189.70" cy="437.52" r="1.05"/><circle cx="191.34" cy="438.40" r="1.05"/><circle cx="192.98" cy="438.19" r="1.05"/><circle cx="194.62" cy="437.55" r="1.05"/><circle cx="196.26" cy="435.79" r="1.05"/><circle cx="197.90" cy="433.54" r="1.05"/><circle cx="199.54" cy="430.70" r="1.05"/><circle cx="201.18" cy="427.93" r="1.05"/><circle cx="202.82" cy="425.46" r="1.05"/><circle cx="204.46" cy="423.41" r="1.05"/><circle cx="206.10" cy="421.95" r="1.05"/><circle cx="207.74" cy="420.93" r="1.05"/><circle cx="209.38" cy="420.17" r="1.05"/><circle cx="211.02" cy="419.45" r="1.05"/><circle cx="212.66" cy="418.77" r="1.05"/><circle cx="214.30" cy="418.15" r="1.05"/><circle cx="215.94" cy="417.57" r="1.05"/><circle cx="217.58" cy="417.04" r="1.05"/><circle cx="219.22" cy="416.53" r="1.05"/><circle cx="220.86" cy="416.02" r="1.05"/><circle cx="222.50" cy="415.54" r="1.05"/><circle cx="224.14" cy="415.06" r="1.05"/><circle cx="225.78" cy="414.59" r="1.05"/><circle cx="227.42" cy="414.62" r="1.05"/><circle cx="229.06" cy="415.31" r="1.05"/><circle cx="230.70" cy="416.48" r="1.05"/><circle cx="232.34" cy="418.54" r="1.05"/><circle cx="233.98" cy="422.30" r="1.05"/><circle cx="235.62" cy="427.83" r="1.05"/><circle cx="237.26" cy="434.75" r="1.05"/><circle cx="238.90" cy="444.47" r="1.05"/><circle cx="240.54" cy="453.70" r="1.05"/><circle cx="242.18" cy="458.82" r="1.05"/><circle cx="243.82" cy="461.12" r="1.05"/><circle cx="245.46" cy="462.13" r="1.05"/><circle cx="247.10" cy="462.55" r="1.05"/><circle cx="248.74" cy="462.78" r="1.05"/><circle cx="250.38" cy="462.90" r="1.05"/><circle cx="252.02" cy="463.01" r="1.05"/><circle cx="253.66" cy="463.08" r="1.05"/><circle cx="255.30" cy="463.10" r="1.05"/></g>
<path d="M156.90,463.10 L157.39,462.83 L157.89,462.34 L158.38,461.70 L158.88,460.89 L159.37,459.73 L159.87,458.34 L160.36,456.89 L160.86,455.28 L161.35,453.51 L161.84,451.64 L162.34,449.70 L162.83,447.74 L163.33,445.62 L163.82,443.40 L164.32,441.19 L164.81,439.11 L165.31,437.21 L165.80,435.28 L166.29,433.47 L166.79,432.04 L167.28,431.19 L167.78,430.52 L168.27,430.04 L168.77,429.89 L169.26,430.10 L169.76,430.52 L170.25,431.01 L170.75,431.59 L171.24,432.37 L171.73,433.17 L172.23,433.78 L172.72,434.04 L173.22,434.20 L173.71,434.31 L174.21,434.34 L174.70,434.18 L175.20,433.83 L175.69,433.35 L176.18,432.79 L176.68,432.20 L177.17,431.37 L177.67,430.27 L178.16,429.01 L178.66,427.71 L179.15,426.47 L179.65,425.41 L180.14,424.55 L180.63,423.67 L181.13,422.85 L181.62,422.19 L182.12,421.83 L182.61,421.79 L183.11,421.79 L183.60,421.79 L184.10,421.79 L184.59,421.79 L185.08,421.93 L185.58,422.62 L186.07,423.64 L186.57,424.69 L187.06,425.63 L187.56,426.67 L188.05,427.71 L188.55,428.62 L189.04,429.27 L189.54,429.84 L190.03,430.37 L190.52,430.79 L191.02,431.05 L191.51,431.10 L192.01,431.07 L192.50,431.00 L193.00,430.90 L193.49,430.78 L193.99,430.64 L194.48,430.43 L194.97,430.14 L195.47,429.78 L195.96,429.36 L196.46,428.90 L196.95,428.40 L197.45,427.83 L197.94,427.09 L198.44,426.23 L198.93,425.32 L199.42,424.42 L199.92,423.55 L200.41,422.63 L200.91,421.70 L201.40,420.79 L201.90,419.93 L202.39,419.13 L202.89,418.36 L203.38,417.62 L203.87,416.91 L204.37,416.24 L204.86,415.59 L205.36,414.94 L205.85,414.32 L206.35,413.77 L206.84,413.34 L207.34,413.01 L207.83,412.73 L208.33,412.49 L208.82,412.28 L209.31,412.09 L209.81,411.93 L210.30,411.78 L210.80,411.64 L211.29,411.51 L211.79,411.39 L212.28,411.27 L212.78,411.16 L213.27,411.06 L213.76,410.96 L214.26,410.86 L214.75,410.77 L215.25,410.67 L215.74,410.58 L216.24,410.49 L216.73,410.41 L217.23,410.33 L217.72,410.25 L218.21,410.18 L218.71,410.11 L219.20,410.05 L219.70,409.99 L220.19,409.94 L220.69,409.89 L221.18,409.84 L221.68,409.80 L222.17,409.75 L222.66,409.71 L223.16,409.66 L223.65,409.60 L224.15,409.52 L224.64,409.44 L225.14,409.36 L225.63,409.30 L226.13,409.25 L226.62,409.24 L227.12,409.29 L227.61,409.42 L228.10,409.61 L228.60,409.83 L229.09,410.06 L229.59,410.34 L230.08,410.70 L230.58,411.12 L231.07,411.60 L231.57,412.12 L232.06,412.70 L232.55,413.40 L233.05,414.27 L233.54,415.48 L234.04,417.18 L234.53,419.21 L235.03,421.41 L235.52,423.66 L236.02,426.20 L236.51,428.95 L237.00,431.73 L237.50,434.42 L237.99,437.08 L238.49,439.76 L238.98,442.51 L239.48,445.54 L239.97,448.69 L240.47,451.54 L240.96,453.73 L241.45,455.51 L241.95,457.09 L242.44,458.39 L242.94,459.36 L243.43,460.06 L243.93,460.68 L244.42,461.19 L244.92,461.59 L245.41,461.86 L245.91,462.06 L246.40,462.22 L246.89,462.36 L247.39,462.48 L247.88,462.58 L248.38,462.65 L248.87,462.71 L249.37,462.76 L249.86,462.81 L250.36,462.85 L250.85,462.90 L251.34,462.94 L251.84,462.97 L252.33,463.00 L252.83,463.03 L253.32,463.06 L253.82,463.07 L254.31,463.09 L254.81,463.10 L255.30,463.10" fill="none" stroke="#ee2a2a" stroke-width="1.25" stroke-linejoin="round" stroke-linecap="round" opacity="1" clip-path="url(#cm)" />
<g fill="#ee2a2a" clip-path="url(#cm)"><circle cx="156.90" cy="463.10" r="1.05"/><circle cx="158.54" cy="461.48" r="1.05"/><circle cx="160.18" cy="457.43" r="1.05"/><circle cx="161.82" cy="451.73" r="1.05"/><circle cx="163.46" cy="445.04" r="1.05"/><circle cx="165.10" cy="437.99" r="1.05"/><circle cx="166.74" cy="432.16" r="1.05"/><circle cx="168.38" cy="429.98" r="1.05"/><circle cx="170.02" cy="430.78" r="1.05"/><circle cx="171.66" cy="433.06" r="1.05"/><circle cx="173.30" cy="434.23" r="1.05"/><circle cx="174.94" cy="434.03" r="1.05"/><circle cx="176.58" cy="432.32" r="1.05"/><circle cx="178.22" cy="428.86" r="1.05"/><circle cx="179.86" cy="425.03" r="1.05"/><circle cx="181.50" cy="422.33" r="1.05"/><circle cx="183.14" cy="421.79" r="1.05"/><circle cx="184.78" cy="421.79" r="1.05"/><circle cx="186.42" cy="424.39" r="1.05"/><circle cx="188.06" cy="427.73" r="1.05"/><circle cx="189.70" cy="430.03" r="1.05"/><circle cx="191.34" cy="431.11" r="1.05"/><circle cx="192.98" cy="430.90" r="1.05"/><circle cx="194.62" cy="430.36" r="1.05"/><circle cx="196.26" cy="429.09" r="1.05"/><circle cx="197.90" cy="427.16" r="1.05"/><circle cx="199.54" cy="424.22" r="1.05"/><circle cx="201.18" cy="421.20" r="1.05"/><circle cx="202.82" cy="418.46" r="1.05"/><circle cx="204.46" cy="416.12" r="1.05"/><circle cx="206.10" cy="414.04" r="1.05"/><circle cx="207.74" cy="412.78" r="1.05"/><circle cx="209.38" cy="412.07" r="1.05"/><circle cx="211.02" cy="411.58" r="1.05"/><circle cx="212.66" cy="411.19" r="1.05"/><circle cx="214.30" cy="410.86" r="1.05"/><circle cx="215.94" cy="410.55" r="1.05"/><circle cx="217.58" cy="410.27" r="1.05"/><circle cx="219.22" cy="410.05" r="1.05"/><circle cx="220.86" cy="409.87" r="1.05"/><circle cx="222.50" cy="409.72" r="1.05"/><circle cx="224.14" cy="409.53" r="1.05"/><circle cx="225.78" cy="409.28" r="1.05"/><circle cx="227.42" cy="409.36" r="1.05"/><circle cx="229.06" cy="410.05" r="1.05"/><circle cx="230.70" cy="411.24" r="1.05"/><circle cx="232.34" cy="413.08" r="1.05"/><circle cx="233.98" cy="416.96" r="1.05"/><circle cx="235.62" cy="424.15" r="1.05"/><circle cx="237.26" cy="433.13" r="1.05"/><circle cx="238.90" cy="442.04" r="1.05"/><circle cx="240.54" cy="451.92" r="1.05"/><circle cx="242.18" cy="457.73" r="1.05"/><circle cx="243.82" cy="460.55" r="1.05"/><circle cx="245.46" cy="461.89" r="1.05"/><circle cx="247.10" cy="462.41" r="1.05"/><circle cx="248.74" cy="462.70" r="1.05"/><circle cx="250.38" cy="462.86" r="1.05"/><circle cx="252.02" cy="462.98" r="1.05"/><circle cx="253.66" cy="463.07" r="1.05"/><circle cx="255.30" cy="463.10" r="1.05"/></g>
<path d="M156.90,463.10 L157.39,462.90 L157.89,462.39 L158.38,461.71 L158.88,460.82 L159.37,459.39 L159.87,457.70 L160.36,456.00 L160.86,454.20 L161.35,452.28 L161.84,450.26 L162.34,448.18 L162.83,446.05 L163.33,443.74 L163.82,441.33 L164.32,438.94 L164.81,436.72 L165.31,434.76 L165.80,432.81 L166.29,431.02 L166.79,429.61 L167.28,428.76 L167.78,428.09 L168.27,427.61 L168.77,427.46 L169.26,427.66 L169.76,428.08 L170.25,428.58 L170.75,429.20 L171.24,430.11 L171.73,431.04 L172.23,431.74 L172.72,432.01 L173.22,432.18 L173.71,432.29 L174.21,432.32 L174.70,432.12 L175.20,431.69 L175.69,431.10 L176.18,430.43 L176.68,429.75 L177.17,428.87 L177.67,427.76 L178.16,426.51 L178.66,425.24 L179.15,424.02 L179.65,422.98 L180.14,422.12 L180.63,421.24 L181.13,420.42 L181.62,419.76 L182.12,419.40 L182.61,419.36 L183.11,419.36 L183.60,419.36 L184.10,419.36 L184.59,419.36 L185.08,419.50 L185.58,420.19 L186.07,421.21 L186.57,422.26 L187.06,423.19 L187.56,424.21 L188.05,425.23 L188.55,426.15 L189.04,426.86 L189.54,427.54 L190.03,428.17 L190.52,428.69 L191.02,429.01 L191.51,429.08 L192.01,429.04 L192.50,428.97 L193.00,428.87 L193.49,428.76 L193.99,428.62 L194.48,428.38 L194.97,428.05 L195.47,427.62 L195.96,427.13 L196.46,426.58 L196.95,426.00 L197.45,425.31 L197.94,424.41 L198.44,423.37 L198.93,422.27 L199.42,421.21 L199.92,420.22 L200.41,419.22 L200.91,418.22 L201.40,417.24 L201.90,416.31 L202.39,415.42 L202.89,414.55 L203.38,413.71 L203.87,412.92 L204.37,412.19 L204.86,411.53 L205.36,410.90 L205.85,410.30 L206.35,409.77 L206.84,409.30 L207.34,408.89 L207.83,408.51 L208.33,408.17 L208.82,407.87 L209.31,407.64 L209.81,407.46 L210.30,407.31 L210.80,407.18 L211.29,407.06 L211.79,406.96 L212.28,406.86 L212.78,406.76 L213.27,406.65 L213.76,406.54 L214.26,406.41 L214.75,406.27 L215.25,406.11 L215.74,405.95 L216.24,405.79 L216.73,405.62 L217.23,405.45 L217.72,405.28 L218.21,405.11 L218.71,404.94 L219.20,404.79 L219.70,404.63 L220.19,404.49 L220.69,404.35 L221.18,404.21 L221.68,404.07 L222.17,403.92 L222.66,403.77 L223.16,403.62 L223.65,403.44 L224.15,403.22 L224.64,402.98 L225.14,402.74 L225.63,402.54 L226.13,402.40 L226.62,402.35 L227.12,402.41 L227.61,402.57 L228.10,402.77 L228.60,402.98 L229.09,403.17 L229.59,403.31 L230.08,403.44 L230.58,403.58 L231.07,403.75 L231.57,404.00 L232.06,404.47 L232.55,405.23 L233.05,406.17 L233.54,407.36 L234.04,409.00 L234.53,410.99 L235.03,413.23 L235.52,415.69 L236.02,418.73 L236.51,422.16 L237.00,425.70 L237.50,429.09 L237.99,432.52 L238.49,435.98 L238.98,439.36 L239.48,442.89 L239.97,446.44 L240.47,449.65 L240.96,452.18 L241.45,454.30 L241.95,456.20 L242.44,457.77 L242.94,458.94 L243.43,459.77 L243.93,460.49 L244.42,461.09 L244.92,461.56 L245.41,461.86 L245.91,462.06 L246.40,462.23 L246.89,462.37 L247.39,462.48 L247.88,462.58 L248.38,462.65 L248.87,462.71 L249.37,462.76 L249.86,462.81 L250.36,462.85 L250.85,462.90 L251.34,462.94 L251.84,462.97 L252.33,463.00 L252.83,463.03 L253.32,463.06 L253.82,463.07 L254.31,463.09 L254.81,463.10 L255.30,463.10" fill="none" stroke="#111" stroke-width="1.25" stroke-linejoin="round" stroke-linecap="round" opacity="1" clip-path="url(#cm)" />
<g fill="#111" clip-path="url(#cm)"><circle cx="156.90" cy="463.10" r="1.05"/><circle cx="158.54" cy="461.48" r="1.05"/><circle cx="160.18" cy="456.62" r="1.05"/><circle cx="161.82" cy="450.36" r="1.05"/><circle cx="163.46" cy="443.10" r="1.05"/><circle cx="165.10" cy="435.56" r="1.05"/><circle cx="166.74" cy="429.73" r="1.05"/><circle cx="168.38" cy="427.55" r="1.05"/><circle cx="170.02" cy="428.34" r="1.05"/><circle cx="171.66" cy="430.91" r="1.05"/><circle cx="173.30" cy="432.20" r="1.05"/><circle cx="174.94" cy="431.93" r="1.05"/><circle cx="176.58" cy="429.89" r="1.05"/><circle cx="178.22" cy="426.36" r="1.05"/><circle cx="179.86" cy="422.60" r="1.05"/><circle cx="181.50" cy="419.90" r="1.05"/><circle cx="183.14" cy="419.36" r="1.05"/><circle cx="184.78" cy="419.36" r="1.05"/><circle cx="186.42" cy="421.96" r="1.05"/><circle cx="188.06" cy="425.25" r="1.05"/><circle cx="189.70" cy="427.76" r="1.05"/><circle cx="191.34" cy="429.08" r="1.05"/><circle cx="192.98" cy="428.88" r="1.05"/><circle cx="194.62" cy="428.30" r="1.05"/><circle cx="196.26" cy="426.81" r="1.05"/><circle cx="197.90" cy="424.49" r="1.05"/><circle cx="199.54" cy="420.98" r="1.05"/><circle cx="201.18" cy="417.67" r="1.05"/><circle cx="202.82" cy="414.66" r="1.05"/><circle cx="204.46" cy="412.07" r="1.05"/><circle cx="206.10" cy="410.03" r="1.05"/><circle cx="207.74" cy="408.58" r="1.05"/><circle cx="209.38" cy="407.62" r="1.05"/><circle cx="211.02" cy="407.13" r="1.05"/><circle cx="212.66" cy="406.78" r="1.05"/><circle cx="214.30" cy="406.40" r="1.05"/><circle cx="215.94" cy="405.89" r="1.05"/><circle cx="217.58" cy="405.32" r="1.05"/><circle cx="219.22" cy="404.78" r="1.05"/><circle cx="220.86" cy="404.30" r="1.05"/><circle cx="222.50" cy="403.82" r="1.05"/><circle cx="224.14" cy="403.22" r="1.05"/><circle cx="225.78" cy="402.49" r="1.05"/><circle cx="227.42" cy="402.50" r="1.05"/><circle cx="229.06" cy="403.16" r="1.05"/><circle cx="230.70" cy="403.61" r="1.05"/><circle cx="232.34" cy="404.87" r="1.05"/><circle cx="233.98" cy="408.78" r="1.05"/><circle cx="235.62" cy="416.25" r="1.05"/><circle cx="237.26" cy="427.46" r="1.05"/><circle cx="238.90" cy="438.80" r="1.05"/><circle cx="240.54" cy="450.08" r="1.05"/><circle cx="242.18" cy="456.98" r="1.05"/><circle cx="243.82" cy="460.34" r="1.05"/><circle cx="245.46" cy="461.89" r="1.05"/><circle cx="247.10" cy="462.42" r="1.05"/><circle cx="248.74" cy="462.70" r="1.05"/><circle cx="250.38" cy="462.86" r="1.05"/><circle cx="252.02" cy="462.98" r="1.05"/><circle cx="253.66" cy="463.07" r="1.05"/><circle cx="255.30" cy="463.10" r="1.05"/></g>
<rect x="156.90" y="385.80" width="98.90" height="77.30" fill="none" stroke="#222" stroke-width="0.9" />
<rect x="156.90" y="385.80" width="57.00" height="18.60" fill="#fff" stroke="#222" stroke-width="0.6" />
<line x1="158.60" y1="388.70" x2="170.00" y2="388.70" stroke="#111" stroke-width="1.1" />
<circle cx="164.3" cy="388.7" r="1.1" fill="#111"/>
<text x="171.00" y="388.70" font-size="5.3" font-weight="bold" text-anchor="start" fill="#222" font-family='"Liberation Serif", serif' dominant-baseline="central" >ST-OSC 15 nm Ag</text>
<line x1="158.60" y1="394.90" x2="170.00" y2="394.90" stroke="#ee2a2a" stroke-width="1.1" />
<circle cx="164.3" cy="394.9" r="1.1" fill="#ee2a2a"/>
<text x="171.00" y="394.90" font-size="5.3" font-weight="bold" text-anchor="start" fill="#222" font-family='"Liberation Serif", serif' dominant-baseline="central" >ST-OSC 10 nm Ag</text>
<line x1="158.60" y1="401.10" x2="170.00" y2="401.10" stroke="#3cb43c" stroke-width="1.1" />
<circle cx="164.3" cy="401.09999999999997" r="1.1" fill="#3cb43c"/>
<text x="171.00" y="401.10" font-size="5.3" font-weight="bold" text-anchor="start" fill="#222" font-family='"Liberation Serif", serif' dominant-baseline="central" >ST-OSC 5 nm Ag</text>
<text x="155.30" y="463.10" font-size="5.0" font-weight="bold" text-anchor="end" fill="#222" font-family='"Liberation Serif", serif' dominant-baseline="central" >0</text>
<text x="155.30" y="446.90" font-size="5.0" font-weight="bold" text-anchor="end" fill="#222" font-family='"Liberation Serif", serif' dominant-baseline="central" >20</text>
<text x="155.30" y="430.70" font-size="5.0" font-weight="bold" text-anchor="end" fill="#222" font-family='"Liberation Serif", serif' dominant-baseline="central" >40</text>
<text x="155.30" y="414.50" font-size="5.0" font-weight="bold" text-anchor="end" fill="#222" font-family='"Liberation Serif", serif' dominant-baseline="central" >60</text>
<text x="155.30" y="398.30" font-size="5.0" font-weight="bold" text-anchor="end" fill="#222" font-family='"Liberation Serif", serif' dominant-baseline="central" >80</text>
<text x="156.90" y="467.60" font-size="4.6" font-weight="bold" text-anchor="middle" fill="#222" font-family='"Liberation Serif", serif' dominant-baseline="central" >300</text>
<text x="173.30" y="467.60" font-size="4.6" font-weight="bold" text-anchor="middle" fill="#222" font-family='"Liberation Serif", serif' dominant-baseline="central" >400</text>
<text x="189.70" y="467.60" font-size="4.6" font-weight="bold" text-anchor="middle" fill="#222" font-family='"Liberation Serif", serif' dominant-baseline="central" >500</text>
<text x="206.10" y="467.60" font-size="4.6" font-weight="bold" text-anchor="middle" fill="#222" font-family='"Liberation Serif", serif' dominant-baseline="central" >600</text>
<text x="222.50" y="467.60" font-size="4.6" font-weight="bold" text-anchor="middle" fill="#222" font-family='"Liberation Serif", serif' dominant-baseline="central" >700</text>
<text x="238.90" y="467.60" font-size="4.6" font-weight="bold" text-anchor="middle" fill="#222" font-family='"Liberation Serif", serif' dominant-baseline="central" >800</text>
<text x="255.30" y="467.60" font-size="4.6" font-weight="bold" text-anchor="middle" fill="#222" font-family='"Liberation Serif", serif' dominant-baseline="central" >900</text>
<line x1="156.90" y1="463.10" x2="156.90" y2="461.60" stroke="#222" stroke-width="0.6" />
<line x1="173.30" y1="463.10" x2="173.30" y2="461.60" stroke="#222" stroke-width="0.6" />
<line x1="189.70" y1="463.10" x2="189.70" y2="461.60" stroke="#222" stroke-width="0.6" />
<line x1="206.10" y1="463.10" x2="206.10" y2="461.60" stroke="#222" stroke-width="0.6" />
<line x1="222.50" y1="463.10" x2="222.50" y2="461.60" stroke="#222" stroke-width="0.6" />
<line x1="238.90" y1="463.10" x2="238.90" y2="461.60" stroke="#222" stroke-width="0.6" />
<line x1="255.30" y1="463.10" x2="255.30" y2="461.60" stroke="#222" stroke-width="0.6" />
<line x1="156.90" y1="463.10" x2="158.40" y2="463.10" stroke="#222" stroke-width="0.6" />
<line x1="156.90" y1="446.90" x2="158.40" y2="446.90" stroke="#222" stroke-width="0.6" />
<line x1="156.90" y1="430.70" x2="158.40" y2="430.70" stroke="#222" stroke-width="0.6" />
<line x1="156.90" y1="414.50" x2="158.40" y2="414.50" stroke="#222" stroke-width="0.6" />
<line x1="156.90" y1="398.30" x2="158.40" y2="398.30" stroke="#222" stroke-width="0.6" />
<text x="206.50" y="472.20" font-size="7.0" font-weight="bold" text-anchor="middle" fill="#222" font-family='"Liberation Serif", serif' dominant-baseline="central" >Wavelength (nm)</text>
<text x="146.30" y="429.60" font-size="6.2" font-weight="bold" text-anchor="middle" fill="#222" font-family='"Liberation Serif", serif' dominant-baseline="central" transform="rotate(-90 146.3 429.6)" >EQE (%)</text>
<text x="259.50" y="375.20" font-size="14.2" font-weight="bold" fill="#111" font-family='"Liberation Sans", sans-serif' dominant-baseline="central" textLength="17.90" lengthAdjust="spacingAndGlyphs">(n)</text>
<rect x="286.00" y="376.95" width="84.00" height="90.45" fill="#fff" stroke="#999" stroke-width="0.7" />
<line x1="296.50" y1="376.95" x2="296.50" y2="467.40" stroke="#c4c4c4" stroke-width="0.5" />
<line x1="307.00" y1="376.95" x2="307.00" y2="467.40" stroke="#c4c4c4" stroke-width="0.5" />
<line x1="317.50" y1="376.95" x2="317.50" y2="467.40" stroke="#c4c4c4" stroke-width="0.5" />
<line x1="328.00" y1="376.95" x2="328.00" y2="467.40" stroke="#c4c4c4" stroke-width="0.5" />
<line x1="338.50" y1="376.95" x2="338.50" y2="467.40" stroke="#c4c4c4" stroke-width="0.5" />
<line x1="349.00" y1="376.95" x2="349.00" y2="467.40" stroke="#c4c4c4" stroke-width="0.5" />
<line x1="359.50" y1="376.95" x2="359.50" y2="467.40" stroke="#c4c4c4" stroke-width="0.5" />
<line x1="286.00" y1="457.35" x2="370.00" y2="457.35" stroke="#c4c4c4" stroke-width="0.5" />
<line x1="286.00" y1="447.30" x2="370.00" y2="447.30" stroke="#c4c4c4" stroke-width="0.5" />
<line x1="286.00" y1="437.25" x2="370.00" y2="437.25" stroke="#c4c4c4" stroke-width="0.5" />
<line x1="286.00" y1="427.20" x2="370.00" y2="427.20" stroke="#c4c4c4" stroke-width="0.5" />
<line x1="286.00" y1="417.15" x2="370.00" y2="417.15" stroke="#c4c4c4" stroke-width="0.5" />
<line x1="286.00" y1="407.10" x2="370.00" y2="407.10" stroke="#c4c4c4" stroke-width="0.5" />
<line x1="286.00" y1="397.05" x2="370.00" y2="397.05" stroke="#c4c4c4" stroke-width="0.5" />
<line x1="286.00" y1="387.00" x2="370.00" y2="387.00" stroke="#c4c4c4" stroke-width="0.5" />
<g clip-path="url(#ccie)"><g filter="url(#blur05)"><rect x="286.0" y="383.0" width="2.3" height="2.3" fill="#52b447"/><rect x="288.0" y="383.0" width="2.3" height="2.3" fill="#52b447"/><rect x="290.0" y="383.0" width="2.3" height="2.3" fill="#52b447"/><rect x="292.0" y="383.0" width="2.3" height="2.3" fill="#52b447"/><rect x="294.0" y="383.0" width="2.3" height="2.3" fill="#52b447"/><rect x="296.0" y="383.0" width="2.3" height="2.3" fill="#53b546"/><rect x="298.0" y="383.0" width="2.3" height="2.3" fill="#53b546"/><rect x="300.0" y="383.0" width="2.3" height="2.3" fill="#53b546"/><rect x="302.0" y="383.0" width="2.3" height="2.3" fill="#53b546"/><rect x="304.0" y="383.0" width="2.3" height="2.3" fill="#53b546"/><rect x="306.0" y="383.0" width="2.3" height="2.3" fill="#53b546"/><rect x="308.0" y="383.0" width="2.3" height="2.3" fill="#53b546"/><rect x="310.0" y="383.0" width="2.3" height="2.3" fill="#59b744"/><rect x="312.0" y="383.0" width="2.3" height="2.3" fill="#5eb942"/><rect x="314.0" y="383.0" width="2.3" height="2.3" fill="#62ba41"/><rect x="316.0" y="383.0" width="2.3" height="2.3" fill="#67bb40"/><rect x="318.0" y="383.0" width="2.3" height="2.3" fill="#6bbd3e"/><rect x="320.0" y="383.0" width="2.3" height="2.3" fill="#73bf3d"/><rect x="322.0" y="383.0" width="2.3" height="2.3" fill="#80c33c"/><rect x="324.0" y="383.0" width="2.3" height="2.3" fill="#8dc73b"/><rect x="326.0" y="383.0" width="2.3" height="2.3" fill="#98ca3a"/><rect x="328.0" y="383.0" width="2.3" height="2.3" fill="#a4ce39"/><rect x="330.0" y="383.0" width="2.3" height="2.3" fill="#aed139"/><rect x="332.0" y="383.0" width="2.3" height="2.3" fill="#b8d438"/><rect x="334.0" y="383.0" width="2.3" height="2.3" fill="#c1d638"/><rect x="336.0" y="383.0" width="2.3" height="2.3" fill="#c7d839"/><rect x="338.0" y="383.0" width="2.3" height="2.3" fill="#ceda3a"/><rect x="340.0" y="383.0" width="2.3" height="2.3" fill="#d4dc3a"/><rect x="342.0" y="383.0" width="2.3" height="2.3" fill="#d9de3b"/><rect x="344.0" y="383.0" width="2.3" height="2.3" fill="#dfdf3c"/><rect x="346.0" y="383.0" width="2.3" height="2.3" fill="#e4e13c"/><rect x="348.0" y="383.0" width="2.3" height="2.3" fill="#e9e23d"/><rect x="350.0" y="383.0" width="2.3" height="2.3" fill="#eee33d"/><rect x="352.0" y="383.0" width="2.3" height="2.3" fill="#eede3c"/><rect x="354.0" y="383.0" width="2.3" height="2.3" fill="#efda3b"/><rect x="356.0" y="383.0" width="2.3" height="2.3" fill="#f0d63a"/><rect x="358.0" y="383.0" width="2.3" height="2.3" fill="#f0d239"/><rect x="360.0" y="383.0" width="2.3" height="2.3" fill="#f1ce38"/><rect x="362.0" y="383.0" width="2.3" height="2.3" fill="#f2ca37"/><rect x="286.0" y="385.0" width="2.3" height="2.3" fill="#52b447"/><rect x="288.0" y="385.0" width="2.3" height="2.3" fill="#52b447"/><rect x="290.0" y="385.0" width="2.3" height="2.3" fill="#52b447"/><rect x="292.0" y="385.0" width="2.3" height="2.3" fill="#52b447"/><rect x="294.0" y="385.0" width="2.3" height="2.3" fill="#52b447"/><rect x="296.0" y="385.0" width="2.3" height="2.3" fill="#53b546"/><rect x="298.0" y="385.0" width="2.3" height="2.3" fill="#53b546"/><rect x="300.0" y="385.0" width="2.3" height="2.3" fill="#53b546"/><rect x="302.0" y="385.0" width="2.3" height="2.3" fill="#53b546"/><rect x="304.0" y="385.0" width="2.3" height="2.3" fill="#53b546"/><rect x="306.0" y="385.0" width="2.3" height="2.3" fill="#53b546"/><rect x="308.0" y="385.0" width="2.3" height="2.3" fill="#53b546"/><rect x="310.0" y="385.0" width="2.3" height="2.3" fill="#58b744"/><rect x="312.0" y="385.0" width="2.3" height="2.3" fill="#5db942"/><rect x="314.0" y="385.0" width="2.3" height="2.3" fill="#62ba41"/><rect x="316.0" y="385.0" width="2.3" height="2.3" fill="#67bb40"/><rect x="318.0" y="385.0" width="2.3" height="2.3" fill="#6bbd3e"/><rect x="320.0" y="385.0" width="2.3" height="2.3" fill="#74bf3d"/><rect x="322.0" y="385.0" width="2.3" height="2.3" fill="#82c43c"/><rect x="324.0" y="385.0" width="2.3" height="2.3" fill="#8fc73b"/><rect x="326.0" y="385.0" width="2.3" height="2.3" fill="#9bcb3a"/><rect x="328.0" y="385.0" width="2.3" height="2.3" fill="#a6cf39"/><rect x="330.0" y="385.0" width="2.3" height="2.3" fill="#b1d238"/><rect x="332.0" y="385.0" width="2.3" height="2.3" fill="#bbd538"/><rect x="334.0" y="385.0" width="2.3" height="2.3" fill="#c3d738"/><rect x="336.0" y="385.0" width="2.3" height="2.3" fill="#cad939"/><rect x="338.0" y="385.0" width="2.3" height="2.3" fill="#d0db3a"/><rect x="340.0" y="385.0" width="2.3" height="2.3" fill="#d6dd3b"/><rect x="342.0" y="385.0" width="2.3" height="2.3" fill="#dcde3b"/><rect x="344.0" y="385.0" width="2.3" height="2.3" fill="#e2e03c"/><rect x="346.0" y="385.0" width="2.3" height="2.3" fill="#e7e23d"/><rect x="348.0" y="385.0" width="2.3" height="2.3" fill="#ece33d"/><rect x="350.0" y="385.0" width="2.3" height="2.3" fill="#eee03d"/><rect x="352.0" y="385.0" width="2.3" height="2.3" fill="#efdb3b"/><rect x="354.0" y="385.0" width="2.3" height="2.3" fill="#f0d73a"/><rect x="356.0" y="385.0" width="2.3" height="2.3" fill="#f0d239"/><rect x="358.0" y="385.0" width="2.3" height="2.3" fill="#f1ce38"/><rect x="360.0" y="385.0" width="2.3" height="2.3" fill="#f2ca37"/><rect x="362.0" y="385.0" width="2.3" height="2.3" fill="#f2c736"/><rect x="286.0" y="387.0" width="2.3" height="2.3" fill="#52b447"/><rect x="288.0" y="387.0" width="2.3" height="2.3" fill="#52b447"/><rect x="290.0" y="387.0" width="2.3" height="2.3" fill="#52b447"/><rect x="292.0" y="387.0" width="2.3" height="2.3" fill="#52b447"/><rect x="294.0" y="387.0" width="2.3" height="2.3" fill="#52b447"/><rect x="296.0" y="387.0" width="2.3" height="2.3" fill="#52b447"/><rect x="298.0" y="387.0" width="2.3" height="2.3" fill="#53b546"/><rect x="300.0" y="387.0" width="2.3" height="2.3" fill="#53b546"/><rect x="302.0" y="387.0" width="2.3" height="2.3" fill="#53b546"/><rect x="304.0" y="387.0" width="2.3" height="2.3" fill="#53b546"/><rect x="306.0" y="387.0" width="2.3" height="2.3" fill="#53b546"/><rect x="308.0" y="387.0" width="2.3" height="2.3" fill="#53b546"/><rect x="310.0" y="387.0" width="2.3" height="2.3" fill="#58b744"/><rect x="312.0" y="387.0" width="2.3" height="2.3" fill="#5db843"/><rect x="314.0" y="387.0" width="2.3" height="2.3" fill="#62ba41"/><rect x="316.0" y="387.0" width="2.3" height="2.3" fill="#67bb40"/><rect x="318.0" y="387.0" width="2.3" height="2.3" fill="#6bbd3e"/><rect x="320.0" y="387.0" width="2.3" height="2.3" fill="#75c03d"/><rect x="322.0" y="387.0" width="2.3" height="2.3" fill="#84c43c"/><rect x="324.0" y="387.0" width="2.3" height="2.3" fill="#91c83b"/><rect x="326.0" y="387.0" width="2.3" height="2.3" fill="#9dcc3a"/><rect x="328.0" y="387.0" width="2.3" height="2.3" fill="#a9cf39"/><rect x="330.0" y="387.0" width="2.3" height="2.3" fill="#b4d338"/><rect x="332.0" y="387.0" width="2.3" height="2.3" fill="#bed638"/><rect x="334.0" y="387.0" width="2.3" height="2.3" fill="#c6d839"/><rect x="336.0" y="387.0" width="2.3" height="2.3" fill="#cdda39"/><rect x="338.0" y="387.0" width="2.3" height="2.3" fill="#d3dc3a"/><rect x="340.0" y="387.0" width="2.3" height="2.3" fill="#d9de3b"/><rect x="342.0" y="387.0" width="2.3" height="2.3" fill="#dfdf3c"/><rect x="344.0" y="387.0" width="2.3" height="2.3" fill="#e5e13c"/><rect x="346.0" y="387.0" width="2.3" height="2.3" fill="#eae33d"/><rect x="348.0" y="387.0" width="2.3" height="2.3" fill="#eee13d"/><rect x="350.0" y="387.0" width="2.3" height="2.3" fill="#efdd3c"/><rect x="352.0" y="387.0" width="2.3" height="2.3" fill="#efd83b"/><rect x="354.0" y="387.0" width="2.3" height="2.3" fill="#f0d339"/><rect x="356.0" y="387.0" width="2.3" height="2.3" fill="#f1cf38"/><rect x="358.0" y="387.0" width="2.3" height="2.3" fill="#f2cb37"/><rect x="360.0" y="387.0" width="2.3" height="2.3" fill="#f2c736"/><rect x="362.0" y="387.0" width="2.3" height="2.3" fill="#f3c335"/><rect x="286.0" y="389.0" width="2.3" height="2.3" fill="#52b447"/><rect x="288.0" y="389.0" width="2.3" height="2.3" fill="#52b447"/><rect x="290.0" y="389.0" width="2.3" height="2.3" fill="#52b447"/><rect x="292.0" y="389.0" width="2.3" height="2.3" fill="#52b447"/><rect x="294.0" y="389.0" width="2.3" height="2.3" fill="#52b447"/><rect x="296.0" y="389.0" width="2.3" height="2.3" fill="#52b447"/><rect x="298.0" y="389.0" width="2.3" height="2.3" fill="#53b546"/><rect x="300.0" y="389.0" width="2.3" height="2.3" fill="#53b546"/><rect x="302.0" y="389.0" width="2.3" height="2.3" fill="#53b546"/><rect x="304.0" y="389.0" width="2.3" height="2.3" fill="#53b546"/><rect x="306.0" y="389.0" width="2.3" height="2.3" fill="#53b546"/><rect x="308.0" y="389.0" width="2.3" height="2.3" fill="#53b546"/><rect x="310.0" y="389.0" width="2.3" height="2.3" fill="#57b744"/><rect x="312.0" y="389.0" width="2.3" height="2.3" fill="#5db843"/><rect x="314.0" y="389.0" width="2.3" height="2.3" fill="#62ba41"/><rect x="316.0" y="389.0" width="2.3" height="2.3" fill="#67bb40"/><rect x="318.0" y="389.0" width="2.3" height="2.3" fill="#6cbd3e"/><rect x="320.0" y="389.0" width="2.3" height="2.3" fill="#77c03d"/><rect x="322.0" y="389.0" width="2.3" height="2.3" fill="#85c53c"/><rect x="324.0" y="389.0" width="2.3" height="2.3" fill="#93c93b"/><rect x="326.0" y="389.0" width="2.3" height="2.3" fill="#a0cd3a"/><rect x="328.0" y="389.0" width="2.3" height="2.3" fill="#acd039"/><rect x="330.0" y="389.0" width="2.3" height="2.3" fill="#b8d438"/><rect x="332.0" y="389.0" width="2.3" height="2.3" fill="#c1d738"/><rect x="334.0" y="389.0" width="2.3" height="2.3" fill="#c9d939"/><rect x="336.0" y="389.0" width="2.3" height="2.3" fill="#d0db3a"/><rect x="338.0" y="389.0" width="2.3" height="2.3" fill="#d6dd3b"/><rect x="340.0" y="389.0" width="2.3" height="2.3" fill="#dddf3b"/><rect x="342.0" y="389.0" width="2.3" height="2.3" fill="#e3e03c"/><rect x="344.0" y="389.0" width="2.3" height="2.3" fill="#e8e23d"/><rect x="346.0" y="389.0" width="2.3" height="2.3" fill="#eee33d"/><rect x="348.0" y="389.0" width="2.3" height="2.3" fill="#eede3c"/><rect x="350.0" y="389.0" width="2.3" height="2.3" fill="#efd93b"/><rect x="352.0" y="389.0" width="2.3" height="2.3" fill="#f0d43a"/><rect x="354.0" y="389.0" width="2.3" height="2.3" fill="#f1d039"/><rect x="356.0" y="389.0" width="2.3" height="2.3" fill="#f2cb37"/><rect x="358.0" y="389.0" width="2.3" height="2.3" fill="#f2c736"/><rect x="360.0" y="389.0" width="2.3" height="2.3" fill="#f3c335"/><rect x="362.0" y="389.0" width="2.3" height="2.3" fill="#f4bf34"/><rect x="286.0" y="391.0" width="2.3" height="2.3" fill="#52b447"/><rect x="288.0" y="391.0" width="2.3" height="2.3" fill="#52b447"/><rect x="290.0" y="391.0" width="2.3" height="2.3" fill="#52b447"/><rect x="292.0" y="391.0" width="2.3" height="2.3" fill="#52b447"/><rect x="294.0" y="391.0" width="2.3" height="2.3" fill="#52b447"/><rect x="296.0" y="391.0" width="2.3" height="2.3" fill="#52b447"/><rect x="298.0" y="391.0" width="2.3" height="2.3" fill="#52b447"/><rect x="300.0" y="391.0" width="2.3" height="2.3" fill="#53b546"/><rect x="302.0" y="391.0" width="2.3" height="2.3" fill="#53b546"/><rect x="304.0" y="391.0" width="2.3" height="2.3" fill="#53b546"/><rect x="306.0" y="391.0" width="2.3" height="2.3" fill="#53b546"/><rect x="308.0" y="391.0" width="2.3" height="2.3" fill="#53b546"/><rect x="310.0" y="391.0" width="2.3" height="2.3" fill="#56b645"/><rect x="312.0" y="391.0" width="2.3" height="2.3" fill="#5cb843"/><rect x="314.0" y="391.0" width="2.3" height="2.3" fill="#62ba41"/><rect x="316.0" y="391.0" width="2.3" height="2.3" fill="#67bc3f"/><rect x="318.0" y="391.0" width="2.3" height="2.3" fill="#6cbd3e"/><rect x="320.0" y="391.0" width="2.3" height="2.3" fill="#78c13d"/><rect x="322.0" y="391.0" width="2.3" height="2.3" fill="#88c53c"/><rect x="324.0" y="391.0" width="2.3" height="2.3" fill="#96ca3a"/><rect x="326.0" y="391.0" width="2.3" height="2.3" fill="#a3ce39"/><rect x="328.0" y="391.0" width="2.3" height="2.3" fill="#afd139"/><rect x="330.0" y="391.0" width="2.3" height="2.3" fill="#bbd538"/><rect x="332.0" y="391.0" width="2.3" height="2.3" fill="#c4d738"/><rect x="334.0" y="391.0" width="2.3" height="2.3" fill="#ccda39"/><rect x="336.0" y="391.0" width="2.3" height="2.3" fill="#d3dc3a"/><rect x="338.0" y="391.0" width="2.3" height="2.3" fill="#dade3b"/><rect x="340.0" y="391.0" width="2.3" height="2.3" fill="#e0e03c"/><rect x="342.0" y="391.0" width="2.3" height="2.3" fill="#e6e13d"/><rect x="344.0" y="391.0" width="2.3" height="2.3" fill="#ece33d"/><rect x="346.0" y="391.0" width="2.3" height="2.3" fill="#eee03d"/><rect x="348.0" y="391.0" width="2.3" height="2.3" fill="#efda3b"/><rect x="350.0" y="391.0" width="2.3" height="2.3" fill="#f0d53a"/><rect x="352.0" y="391.0" width="2.3" height="2.3" fill="#f1d039"/><rect x="354.0" y="391.0" width="2.3" height="2.3" fill="#f1cc38"/><rect x="356.0" y="391.0" width="2.3" height="2.3" fill="#f2c837"/><rect x="358.0" y="391.0" width="2.3" height="2.3" fill="#f3c335"/><rect x="360.0" y="391.0" width="2.3" height="2.3" fill="#f4bf34"/><rect x="362.0" y="391.0" width="2.3" height="2.3" fill="#f4bb33"/><rect x="286.0" y="393.0" width="2.3" height="2.3" fill="#52b447"/><rect x="288.0" y="393.0" width="2.3" height="2.3" fill="#52b447"/><rect x="290.0" y="393.0" width="2.3" height="2.3" fill="#52b447"/><rect x="292.0" y="393.0" width="2.3" height="2.3" fill="#52b447"/><rect x="294.0" y="393.0" width="2.3" height="2.3" fill="#52b447"/><rect x="296.0" y="393.0" width="2.3" height="2.3" fill="#52b447"/><rect x="298.0" y="393.0" width="2.3" height="2.3" fill="#52b447"/><rect x="300.0" y="393.0" width="2.3" height="2.3" fill="#53b546"/><rect x="302.0" y="393.0" width="2.3" height="2.3" fill="#53b546"/><rect x="304.0" y="393.0" width="2.3" height="2.3" fill="#53b546"/><rect x="306.0" y="393.0" width="2.3" height="2.3" fill="#53b546"/><rect x="308.0" y="393.0" width="2.3" height="2.3" fill="#53b546"/><rect x="310.0" y="393.0" width="2.3" height="2.3" fill="#55b645"/><rect x="312.0" y="393.0" width="2.3" height="2.3" fill="#5cb843"/><rect x="314.0" y="393.0" width="2.3" height="2.3" fill="#62ba41"/><rect x="316.0" y="393.0" width="2.3" height="2.3" fill="#67bc3f"/><rect x="318.0" y="393.0" width="2.3" height="2.3" fill="#6cbd3e"/><rect x="320.0" y="393.0" width="2.3" height="2.3" fill="#7ac13d"/><rect x="322.0" y="393.0" width="2.3" height="2.3" fill="#8ac63b"/><rect x="324.0" y="393.0" width="2.3" height="2.3" fill="#99ca3a"/><rect x="326.0" y="393.0" width="2.3" height="2.3" fill="#a6cf39"/><rect x="328.0" y="393.0" width="2.3" height="2.3" fill="#b3d238"/><rect x="330.0" y="393.0" width="2.3" height="2.3" fill="#bed638"/><rect x="332.0" y="393.0" width="2.3" height="2.3" fill="#c7d839"/><rect x="334.0" y="393.0" width="2.3" height="2.3" fill="#cfdb3a"/><rect x="336.0" y="393.0" width="2.3" height="2.3" fill="#d6dd3b"/><rect x="338.0" y="393.0" width="2.3" height="2.3" fill="#dddf3b"/><rect x="340.0" y="393.0" width="2.3" height="2.3" fill="#e4e13c"/><rect x="342.0" y="393.0" width="2.3" height="2.3" fill="#eae23d"/><rect x="344.0" y="393.0" width="2.3" height="2.3" fill="#eee13d"/><rect x="346.0" y="393.0" width="2.3" height="2.3" fill="#efdc3c"/><rect x="348.0" y="393.0" width="2.3" height="2.3" fill="#f0d63a"/><rect x="350.0" y="393.0" width="2.3" height="2.3" fill="#f1d139"/><rect x="352.0" y="393.0" width="2.3" height="2.3" fill="#f1cd38"/><rect x="354.0" y="393.0" width="2.3" height="2.3" fill="#f2c837"/><rect x="356.0" y="393.0" width="2.3" height="2.3" fill="#f3c436"/><rect x="358.0" y="393.0" width="2.3" height="2.3" fill="#f4bf34"/><rect x="360.0" y="393.0" width="2.3" height="2.3" fill="#f4bb33"/><rect x="362.0" y="393.0" width="2.3" height="2.3" fill="#f5b732"/><rect x="286.0" y="395.0" width="2.3" height="2.3" fill="#52b447"/><rect x="288.0" y="395.0" width="2.3" height="2.3" fill="#52b447"/><rect x="290.0" y="395.0" width="2.3" height="2.3" fill="#52b447"/><rect x="292.0" y="395.0" width="2.3" height="2.3" fill="#52b447"/><rect x="294.0" y="395.0" width="2.3" height="2.3" fill="#52b447"/><rect x="296.0" y="395.0" width="2.3" height="2.3" fill="#52b447"/><rect x="298.0" y="395.0" width="2.3" height="2.3" fill="#52b447"/><rect x="300.0" y="395.0" width="2.3" height="2.3" fill="#53b546"/><rect x="302.0" y="395.0" width="2.3" height="2.3" fill="#53b546"/><rect x="304.0" y="395.0" width="2.3" height="2.3" fill="#53b546"/><rect x="306.0" y="395.0" width="2.3" height="2.3" fill="#53b546"/><rect x="308.0" y="395.0" width="2.3" height="2.3" fill="#53b546"/><rect x="310.0" y="395.0" width="2.3" height="2.3" fill="#54b645"/><rect x="312.0" y="395.0" width="2.3" height="2.3" fill="#5bb843"/><rect x="314.0" y="395.0" width="2.3" height="2.3" fill="#61ba41"/><rect x="316.0" y="395.0" width="2.3" height="2.3" fill="#67bc3f"/><rect x="318.0" y="395.0" width="2.3" height="2.3" fill="#6cbd3e"/><rect x="320.0" y="395.0" width="2.3" height="2.3" fill="#7cc23c"/><rect x="322.0" y="395.0" width="2.3" height="2.3" fill="#8cc73b"/><rect x="324.0" y="395.0" width="2.3" height="2.3" fill="#9ccb3a"/><rect x="326.0" y="395.0" width="2.3" height="2.3" fill="#aad039"/><rect x="328.0" y="395.0" width="2.3" height="2.3" fill="#b7d338"/><rect x="330.0" y="395.0" width="2.3" height="2.3" fill="#c2d738"/><rect x="332.0" y="395.0" width="2.3" height="2.3" fill="#cad939"/><rect x="334.0" y="395.0" width="2.3" height="2.3" fill="#d2dc3a"/><rect x="336.0" y="395.0" width="2.3" height="2.3" fill="#dade3b"/><rect x="338.0" y="395.0" width="2.3" height="2.3" fill="#e1e03c"/><rect x="340.0" y="395.0" width="2.3" height="2.3" fill="#e7e23d"/><rect x="342.0" y="395.0" width="2.3" height="2.3" fill="#eee33d"/><rect x="344.0" y="395.0" width="2.3" height="2.3" fill="#efdd3c"/><rect x="346.0" y="395.0" width="2.3" height="2.3" fill="#efd83b"/><rect x="348.0" y="395.0" width="2.3" height="2.3" fill="#f0d239"/><rect x="350.0" y="395.0" width="2.3" height="2.3" fill="#f1cd38"/><rect x="352.0" y="395.0" width="2.3" height="2.3" fill="#f2c837"/><rect x="354.0" y="395.0" width="2.3" height="2.3" fill="#f3c436"/><rect x="356.0" y="395.0" width="2.3" height="2.3" fill="#f4bf34"/><rect x="358.0" y="395.0" width="2.3" height="2.3" fill="#f4bb33"/><rect x="360.0" y="395.0" width="2.3" height="2.3" fill="#f5b732"/><rect x="362.0" y="395.0" width="2.3" height="2.3" fill="#f5b332"/><rect x="286.0" y="397.0" width="2.3" height="2.3" fill="#52b447"/><rect x="288.0" y="397.0" width="2.3" height="2.3" fill="#52b447"/><rect x="290.0" y="397.0" width="2.3" height="2.3" fill="#52b447"/><rect x="292.0" y="397.0" width="2.3" height="2.3" fill="#52b447"/><rect x="294.0" y="397.0" width="2.3" height="2.3" fill="#52b447"/><rect x="296.0" y="397.0" width="2.3" height="2.3" fill="#52b447"/><rect x="298.0" y="397.0" width="2.3" height="2.3" fill="#52b447"/><rect x="300.0" y="397.0" width="2.3" height="2.3" fill="#52b447"/><rect x="302.0" y="397.0" width="2.3" height="2.3" fill="#53b546"/><rect x="304.0" y="397.0" width="2.3" height="2.3" fill="#53b546"/><rect x="306.0" y="397.0" width="2.3" height="2.3" fill="#53b546"/><rect x="308.0" y="397.0" width="2.3" height="2.3" fill="#53b546"/><rect x="310.0" y="397.0" width="2.3" height="2.3" fill="#53b546"/><rect x="312.0" y="397.0" width="2.3" height="2.3" fill="#5bb843"/><rect x="314.0" y="397.0" width="2.3" height="2.3" fill="#61ba41"/><rect x="316.0" y="397.0" width="2.3" height="2.3" fill="#67bc3f"/><rect x="318.0" y="397.0" width="2.3" height="2.3" fill="#6dbd3e"/><rect x="320.0" y="397.0" width="2.3" height="2.3" fill="#7ec23c"/><rect x="322.0" y="397.0" width="2.3" height="2.3" fill="#8fc83b"/><rect x="324.0" y="397.0" width="2.3" height="2.3" fill="#9fcc3a"/><rect x="326.0" y="397.0" width="2.3" height="2.3" fill="#add139"/><rect x="328.0" y="397.0" width="2.3" height="2.3" fill="#bbd538"/><rect x="330.0" y="397.0" width="2.3" height="2.3" fill="#c5d838"/><rect x="332.0" y="397.0" width="2.3" height="2.3" fill="#ceda3a"/><rect x="334.0" y="397.0" width="2.3" height="2.3" fill="#d6dd3b"/><rect x="336.0" y="397.0" width="2.3" height="2.3" fill="#dedf3c"/><rect x="338.0" y="397.0" width="2.3" height="2.3" fill="#e5e13c"/><rect x="340.0" y="397.0" width="2.3" height="2.3" fill="#ebe33d"/><rect x="342.0" y="397.0" width="2.3" height="2.3" fill="#eedf3c"/><rect x="344.0" y="397.0" width="2.3" height="2.3" fill="#efd93b"/><rect x="346.0" y="397.0" width="2.3" height="2.3" fill="#f0d339"/><rect x="348.0" y="397.0" width="2.3" height="2.3" fill="#f1ce38"/><rect x="350.0" y="397.0" width="2.3" height="2.3" fill="#f2c937"/><rect x="352.0" y="397.0" width="2.3" height="2.3" fill="#f3c436"/><rect x="354.0" y="397.0" width="2.3" height="2.3" fill="#f4bf34"/><rect x="356.0" y="397.0" width="2.3" height="2.3" fill="#f4bb33"/><rect x="358.0" y="397.0" width="2.3" height="2.3" fill="#f5b632"/><rect x="360.0" y="397.0" width="2.3" height="2.3" fill="#f5b231"/><rect x="362.0" y="397.0" width="2.3" height="2.3" fill="#f5ae31"/><rect x="286.0" y="399.0" width="2.3" height="2.3" fill="#52b447"/><rect x="288.0" y="399.0" width="2.3" height="2.3" fill="#52b447"/><rect x="290.0" y="399.0" width="2.3" height="2.3" fill="#52b447"/><rect x="292.0" y="399.0" width="2.3" height="2.3" fill="#52b447"/><rect x="294.0" y="399.0" width="2.3" height="2.3" fill="#52b447"/><rect x="296.0" y="399.0" width="2.3" height="2.3" fill="#52b447"/><rect x="298.0" y="399.0" width="2.3" height="2.3" fill="#52b447"/><rect x="300.0" y="399.0" width="2.3" height="2.3" fill="#52b447"/><rect x="302.0" y="399.0" width="2.3" height="2.3" fill="#53b546"/><rect x="304.0" y="399.0" width="2.3" height="2.3" fill="#53b546"/><rect x="306.0" y="399.0" width="2.3" height="2.3" fill="#53b546"/><rect x="308.0" y="399.0" width="2.3" height="2.3" fill="#53b546"/><rect x="310.0" y="399.0" width="2.3" height="2.3" fill="#53b546"/><rect x="312.0" y="399.0" width="2.3" height="2.3" fill="#5ab744"/><rect x="314.0" y="399.0" width="2.3" height="2.3" fill="#61ba41"/><rect x="316.0" y="399.0" width="2.3" height="2.3" fill="#67bc3f"/><rect x="318.0" y="399.0" width="2.3" height="2.3" fill="#6dbd3e"/><rect x="320.0" y="399.0" width="2.3" height="2.3" fill="#80c33c"/><rect x="322.0" y="399.0" width="2.3" height="2.3" fill="#92c83b"/><rect x="324.0" y="399.0" width="2.3" height="2.3" fill="#a2cd3a"/><rect x="326.0" y="399.0" width="2.3" height="2.3" fill="#b1d238"/><rect x="328.0" y="399.0" width="2.3" height="2.3" fill="#bfd638"/><rect x="330.0" y="399.0" width="2.3" height="2.3" fill="#c9d939"/><rect x="332.0" y="399.0" width="2.3" height="2.3" fill="#d2db3a"/><rect x="334.0" y="399.0" width="2.3" height="2.3" fill="#dade3b"/><rect x="336.0" y="399.0" width="2.3" height="2.3" fill="#e2e03c"/><rect x="338.0" y="399.0" width="2.3" height="2.3" fill="#e9e23d"/><rect x="340.0" y="399.0" width="2.3" height="2.3" fill="#eee13d"/><rect x="342.0" y="399.0" width="2.3" height="2.3" fill="#efdb3b"/><rect x="344.0" y="399.0" width="2.3" height="2.3" fill="#f0d53a"/><rect x="346.0" y="399.0" width="2.3" height="2.3" fill="#f1cf38"/><rect x="348.0" y="399.0" width="2.3" height="2.3" fill="#f2c937"/><rect x="350.0" y="399.0" width="2.3" height="2.3" fill="#f3c436"/><rect x="352.0" y="399.0" width="2.3" height="2.3" fill="#f4bf34"/><rect x="354.0" y="399.0" width="2.3" height="2.3" fill="#f4ba33"/><rect x="356.0" y="399.0" width="2.3" height="2.3" fill="#f5b632"/><rect x="358.0" y="399.0" width="2.3" height="2.3" fill="#f5b231"/><rect x="360.0" y="399.0" width="2.3" height="2.3" fill="#f5ae31"/><rect x="362.0" y="399.0" width="2.3" height="2.3" fill="#f5aa31"/><rect x="286.0" y="401.0" width="2.3" height="2.3" fill="#52b447"/><rect x="288.0" y="401.0" width="2.3" height="2.3" fill="#52b447"/><rect x="290.0" y="401.0" width="2.3" height="2.3" fill="#52b447"/><rect x="292.0" y="401.0" width="2.3" height="2.3" fill="#52b447"/><rect x="294.0" y="401.0" width="2.3" height="2.3" fill="#52b447"/><rect x="296.0" y="401.0" width="2.3" height="2.3" fill="#52b447"/><rect x="298.0" y="401.0" width="2.3" height="2.3" fill="#52b447"/><rect x="300.0" y="401.0" width="2.3" height="2.3" fill="#52b447"/><rect x="302.0" y="401.0" width="2.3" height="2.3" fill="#53b546"/><rect x="304.0" y="401.0" width="2.3" height="2.3" fill="#53b546"/><rect x="306.0" y="401.0" width="2.3" height="2.3" fill="#53b546"/><rect x="308.0" y="401.0" width="2.3" height="2.3" fill="#53b546"/><rect x="310.0" y="401.0" width="2.3" height="2.3" fill="#53b546"/><rect x="312.0" y="401.0" width="2.3" height="2.3" fill="#59b744"/><rect x="314.0" y="401.0" width="2.3" height="2.3" fill="#61ba41"/><rect x="316.0" y="401.0" width="2.3" height="2.3" fill="#67bc3f"/><rect x="318.0" y="401.0" width="2.3" height="2.3" fill="#6ebe3d"/><rect x="320.0" y="401.0" width="2.3" height="2.3" fill="#83c43c"/><rect x="322.0" y="401.0" width="2.3" height="2.3" fill="#95c93b"/><rect x="324.0" y="401.0" width="2.3" height="2.3" fill="#a6cf39"/><rect x="326.0" y="401.0" width="2.3" height="2.3" fill="#b6d338"/><rect x="328.0" y="401.0" width="2.3" height="2.3" fill="#c3d738"/><rect x="330.0" y="401.0" width="2.3" height="2.3" fill="#ccda39"/><rect x="332.0" y="401.0" width="2.3" height="2.3" fill="#d6dd3b"/><rect x="334.0" y="401.0" width="2.3" height="2.3" fill="#dedf3c"/><rect x="336.0" y="401.0" width="2.3" height="2.3" fill="#e6e13d"/><rect x="338.0" y="401.0" width="2.3" height="2.3" fill="#eee33d"/><rect x="340.0" y="401.0" width="2.3" height="2.3" fill="#efdc3c"/><rect x="342.0" y="401.0" width="2.3" height="2.3" fill="#f0d63a"/><rect x="344.0" y="401.0" width="2.3" height="2.3" fill="#f1d039"/><rect x="346.0" y="401.0" width="2.3" height="2.3" fill="#f2ca37"/><rect x="348.0" y="401.0" width="2.3" height="2.3" fill="#f3c436"/><rect x="350.0" y="401.0" width="2.3" height="2.3" fill="#f4bf34"/><rect x="352.0" y="401.0" width="2.3" height="2.3" fill="#f4ba33"/><rect x="354.0" y="401.0" width="2.3" height="2.3" fill="#f5b532"/><rect x="356.0" y="401.0" width="2.3" height="2.3" fill="#f5b131"/><rect x="358.0" y="401.0" width="2.3" height="2.3" fill="#f5ad31"/><rect x="360.0" y="401.0" width="2.3" height="2.3" fill="#f4a931"/><rect x="362.0" y="401.0" width="2.3" height="2.3" fill="#f4a531"/><rect x="286.0" y="403.0" width="2.3" height="2.3" fill="#50b44d"/><rect x="288.0" y="403.0" width="2.3" height="2.3" fill="#52b447"/><rect x="290.0" y="403.0" width="2.3" height="2.3" fill="#52b447"/><rect x="292.0" y="403.0" width="2.3" height="2.3" fill="#52b447"/><rect x="294.0" y="403.0" width="2.3" height="2.3" fill="#52b447"/><rect x="296.0" y="403.0" width="2.3" height="2.3" fill="#52b447"/><rect x="298.0" y="403.0" width="2.3" height="2.3" fill="#52b447"/><rect x="300.0" y="403.0" width="2.3" height="2.3" fill="#52b447"/><rect x="302.0" y="403.0" width="2.3" height="2.3" fill="#52b447"/><rect x="304.0" y="403.0" width="2.3" height="2.3" fill="#53b546"/><rect x="306.0" y="403.0" width="2.3" height="2.3" fill="#53b546"/><rect x="308.0" y="403.0" width="2.3" height="2.3" fill="#53b546"/><rect x="310.0" y="403.0" width="2.3" height="2.3" fill="#53b546"/><rect x="312.0" y="403.0" width="2.3" height="2.3" fill="#58b744"/><rect x="314.0" y="403.0" width="2.3" height="2.3" fill="#60b942"/><rect x="316.0" y="403.0" width="2.3" height="2.3" fill="#68bc3f"/><rect x="318.0" y="403.0" width="2.3" height="2.3" fill="#70be3d"/><rect x="320.0" y="403.0" width="2.3" height="2.3" fill="#85c53c"/><rect x="322.0" y="403.0" width="2.3" height="2.3" fill="#99ca3a"/><rect x="324.0" y="403.0" width="2.3" height="2.3" fill="#aad039"/><rect x="326.0" y="403.0" width="2.3" height="2.3" fill="#bbd538"/><rect x="328.0" y="403.0" width="2.3" height="2.3" fill="#c6d839"/><rect x="330.0" y="403.0" width="2.3" height="2.3" fill="#d1db3a"/><rect x="332.0" y="403.0" width="2.3" height="2.3" fill="#dade3b"/><rect x="334.0" y="403.0" width="2.3" height="2.3" fill="#e3e03c"/><rect x="336.0" y="403.0" width="2.3" height="2.3" fill="#ebe33d"/><rect x="338.0" y="403.0" width="2.3" height="2.3" fill="#eedf3c"/><rect x="340.0" y="403.0" width="2.3" height="2.3" fill="#f0d73a"/><rect x="342.0" y="403.0" width="2.3" height="2.3" fill="#f1d139"/><rect x="344.0" y="403.0" width="2.3" height="2.3" fill="#f2cb37"/><rect x="346.0" y="403.0" width="2.3" height="2.3" fill="#f3c536"/><rect x="348.0" y="403.0" width="2.3" height="2.3" fill="#f4bf34"/><rect x="350.0" y="403.0" width="2.3" height="2.3" fill="#f4ba33"/><rect x="352.0" y="403.0" width="2.3" height="2.3" fill="#f5b532"/><rect x="354.0" y="403.0" width="2.3" height="2.3" fill="#f5b031"/><rect x="356.0" y="403.0" width="2.3" height="2.3" fill="#f5ac31"/><rect x="358.0" y="403.0" width="2.3" height="2.3" fill="#f4a731"/><rect x="360.0" y="403.0" width="2.3" height="2.3" fill="#f4a331"/><rect x="362.0" y="403.0" width="2.3" height="2.3" fill="#f39f31"/><rect x="286.0" y="405.0" width="2.3" height="2.3" fill="#4fb453"/><rect x="288.0" y="405.0" width="2.3" height="2.3" fill="#51b44c"/><rect x="290.0" y="405.0" width="2.3" height="2.3" fill="#52b447"/><rect x="292.0" y="405.0" width="2.3" height="2.3" fill="#52b447"/><rect x="294.0" y="405.0" width="2.3" height="2.3" fill="#52b447"/><rect x="296.0" y="405.0" width="2.3" height="2.3" fill="#52b447"/><rect x="298.0" y="405.0" width="2.3" height="2.3" fill="#52b447"/><rect x="300.0" y="405.0" width="2.3" height="2.3" fill="#52b447"/><rect x="302.0" y="405.0" width="2.3" height="2.3" fill="#52b447"/><rect x="304.0" y="405.0" width="2.3" height="2.3" fill="#53b546"/><rect x="306.0" y="405.0" width="2.3" height="2.3" fill="#53b546"/><rect x="308.0" y="405.0" width="2.3" height="2.3" fill="#53b546"/><rect x="310.0" y="405.0" width="2.3" height="2.3" fill="#53b546"/><rect x="312.0" y="405.0" width="2.3" height="2.3" fill="#57b744"/><rect x="314.0" y="405.0" width="2.3" height="2.3" fill="#60b942"/><rect x="316.0" y="405.0" width="2.3" height="2.3" fill="#68bc3f"/><rect x="318.0" y="405.0" width="2.3" height="2.3" fill="#72bf3d"/><rect x="320.0" y="405.0" width="2.3" height="2.3" fill="#88c63b"/><rect x="322.0" y="405.0" width="2.3" height="2.3" fill="#9dcc3a"/><rect x="324.0" y="405.0" width="2.3" height="2.3" fill="#afd139"/><rect x="326.0" y="405.0" width="2.3" height="2.3" fill="#bfd638"/><rect x="328.0" y="405.0" width="2.3" height="2.3" fill="#cbd939"/><rect x="330.0" y="405.0" width="2.3" height="2.3" fill="#d5dc3a"/><rect x="332.0" y="405.0" width="2.3" height="2.3" fill="#dfdf3c"/><rect x="334.0" y="405.0" width="2.3" height="2.3" fill="#e8e23d"/><rect x="336.0" y="405.0" width="2.3" height="2.3" fill="#eee13d"/><rect x="338.0" y="405.0" width="2.3" height="2.3" fill="#efd93b"/><rect x="340.0" y="405.0" width="2.3" height="2.3" fill="#f0d239"/><rect x="342.0" y="405.0" width="2.3" height="2.3" fill="#f2cb37"/><rect x="344.0" y="405.0" width="2.3" height="2.3" fill="#f3c536"/><rect x="346.0" y="405.0" width="2.3" height="2.3" fill="#f4bf34"/><rect x="348.0" y="405.0" width="2.3" height="2.3" fill="#f5b933"/><rect x="350.0" y="405.0" width="2.3" height="2.3" fill="#f5b432"/><rect x="352.0" y="405.0" width="2.3" height="2.3" fill="#f5af31"/><rect x="354.0" y="405.0" width="2.3" height="2.3" fill="#f5aa31"/><rect x="356.0" y="405.0" width="2.3" height="2.3" fill="#f4a631"/><rect x="358.0" y="405.0" width="2.3" height="2.3" fill="#f4a131"/><rect x="360.0" y="405.0" width="2.3" height="2.3" fill="#f39d31"/><rect x="362.0" y="405.0" width="2.3" height="2.3" fill="#f39931"/><rect x="286.0" y="407.0" width="2.3" height="2.3" fill="#4eb459"/><rect x="288.0" y="407.0" width="2.3" height="2.3" fill="#4fb453"/><rect x="290.0" y="407.0" width="2.3" height="2.3" fill="#51b44b"/><rect x="292.0" y="407.0" width="2.3" height="2.3" fill="#52b447"/><rect x="294.0" y="407.0" width="2.3" height="2.3" fill="#52b447"/><rect x="296.0" y="407.0" width="2.3" height="2.3" fill="#52b447"/><rect x="298.0" y="407.0" width="2.3" height="2.3" fill="#52b447"/><rect x="300.0" y="407.0" width="2.3" height="2.3" fill="#52b447"/><rect x="302.0" y="407.0" width="2.3" height="2.3" fill="#52b447"/><rect x="304.0" y="407.0" width="2.3" height="2.3" fill="#52b447"/><rect x="306.0" y="407.0" width="2.3" height="2.3" fill="#53b546"/><rect x="308.0" y="407.0" width="2.3" height="2.3" fill="#53b546"/><rect x="310.0" y="407.0" width="2.3" height="2.3" fill="#53b546"/><rect x="312.0" y="407.0" width="2.3" height="2.3" fill="#56b645"/><rect x="314.0" y="407.0" width="2.3" height="2.3" fill="#60b942"/><rect x="316.0" y="407.0" width="2.3" height="2.3" fill="#68bc3f"/><rect x="318.0" y="407.0" width="2.3" height="2.3" fill="#74bf3d"/><rect x="320.0" y="407.0" width="2.3" height="2.3" fill="#8cc73b"/><rect x="322.0" y="407.0" width="2.3" height="2.3" fill="#a1cd3a"/><rect x="324.0" y="407.0" width="2.3" height="2.3" fill="#b4d338"/><rect x="326.0" y="407.0" width="2.3" height="2.3" fill="#c4d738"/><rect x="328.0" y="407.0" width="2.3" height="2.3" fill="#d0db3a"/><rect x="330.0" y="407.0" width="2.3" height="2.3" fill="#dade3b"/><rect x="332.0" y="407.0" width="2.3" height="2.3" fill="#e4e13c"/><rect x="334.0" y="407.0" width="2.3" height="2.3" fill="#ede33d"/><rect x="336.0" y="407.0" width="2.3" height="2.3" fill="#efdb3b"/><rect x="338.0" y="407.0" width="2.3" height="2.3" fill="#f0d339"/><rect x="340.0" y="407.0" width="2.3" height="2.3" fill="#f1cc38"/><rect x="342.0" y="407.0" width="2.3" height="2.3" fill="#f3c536"/><rect x="344.0" y="407.0" width="2.3" height="2.3" fill="#f4bf34"/><rect x="346.0" y="407.0" width="2.3" height="2.3" fill="#f5b933"/><rect x="348.0" y="407.0" width="2.3" height="2.3" fill="#f5b332"/><rect x="350.0" y="407.0" width="2.3" height="2.3" fill="#f5ae31"/><rect x="352.0" y="407.0" width="2.3" height="2.3" fill="#f4a931"/><rect x="354.0" y="407.0" width="2.3" height="2.3" fill="#f4a431"/><rect x="356.0" y="407.0" width="2.3" height="2.3" fill="#f4a031"/><rect x="358.0" y="407.0" width="2.3" height="2.3" fill="#f39b31"/><rect x="360.0" y="407.0" width="2.3" height="2.3" fill="#f39731"/><rect x="362.0" y="407.0" width="2.3" height="2.3" fill="#f29330"/><rect x="286.0" y="409.0" width="2.3" height="2.3" fill="#4db45f"/><rect x="288.0" y="409.0" width="2.3" height="2.3" fill="#4eb459"/><rect x="290.0" y="409.0" width="2.3" height="2.3" fill="#4fb453"/><rect x="292.0" y="409.0" width="2.3" height="2.3" fill="#51b44b"/><rect x="294.0" y="409.0" width="2.3" height="2.3" fill="#52b447"/><rect x="296.0" y="409.0" width="2.3" height="2.3" fill="#52b447"/><rect x="298.0" y="409.0" width="2.3" height="2.3" fill="#52b447"/><rect x="300.0" y="409.0" width="2.3" height="2.3" fill="#52b447"/><rect x="302.0" y="409.0" width="2.3" height="2.3" fill="#52b447"/><rect x="304.0" y="409.0" width="2.3" height="2.3" fill="#52b447"/><rect x="306.0" y="409.0" width="2.3" height="2.3" fill="#53b546"/><rect x="308.0" y="409.0" width="2.3" height="2.3" fill="#53b546"/><rect x="310.0" y="409.0" width="2.3" height="2.3" fill="#53b546"/><rect x="312.0" y="409.0" width="2.3" height="2.3" fill="#55b645"/><rect x="314.0" y="409.0" width="2.3" height="2.3" fill="#5fb942"/><rect x="316.0" y="409.0" width="2.3" height="2.3" fill="#68bc3f"/><rect x="318.0" y="409.0" width="2.3" height="2.3" fill="#76c03d"/><rect x="320.0" y="409.0" width="2.3" height="2.3" fill="#90c83b"/><rect x="322.0" y="409.0" width="2.3" height="2.3" fill="#a6cf39"/><rect x="324.0" y="409.0" width="2.3" height="2.3" fill="#bad538"/><rect x="326.0" y="409.0" width="2.3" height="2.3" fill="#c9d939"/><rect x="328.0" y="409.0" width="2.3" height="2.3" fill="#d5dc3a"/><rect x="330.0" y="409.0" width="2.3" height="2.3" fill="#e0e03c"/><rect x="332.0" y="409.0" width="2.3" height="2.3" fill="#eae23d"/><rect x="334.0" y="409.0" width="2.3" height="2.3" fill="#eede3c"/><rect x="336.0" y="409.0" width="2.3" height="2.3" fill="#f0d53a"/><rect x="338.0" y="409.0" width="2.3" height="2.3" fill="#f1cd38"/><rect x="340.0" y="409.0" width="2.3" height="2.3" fill="#f2c636"/><rect x="342.0" y="409.0" width="2.3" height="2.3" fill="#f4bf34"/><rect x="344.0" y="409.0" width="2.3" height="2.3" fill="#f5b833"/><rect x="346.0" y="409.0" width="2.3" height="2.3" fill="#f5b231"/><rect x="348.0" y="409.0" width="2.3" height="2.3" fill="#f5ad31"/><rect x="350.0" y="409.0" width="2.3" height="2.3" fill="#f4a831"/><rect x="352.0" y="409.0" width="2.3" height="2.3" fill="#f4a231"/><rect x="354.0" y="409.0" width="2.3" height="2.3" fill="#f39e31"/><rect x="356.0" y="409.0" width="2.3" height="2.3" fill="#f39931"/><rect x="358.0" y="409.0" width="2.3" height="2.3" fill="#f29530"/><rect x="360.0" y="409.0" width="2.3" height="2.3" fill="#f29130"/><rect x="362.0" y="409.0" width="2.3" height="2.3" fill="#f28d30"/><rect x="286.0" y="411.0" width="2.3" height="2.3" fill="#4bb465"/><rect x="288.0" y="411.0" width="2.3" height="2.3" fill="#4cb460"/><rect x="290.0" y="411.0" width="2.3" height="2.3" fill="#4eb45a"/><rect x="292.0" y="411.0" width="2.3" height="2.3" fill="#4fb452"/><rect x="294.0" y="411.0" width="2.3" height="2.3" fill="#51b44a"/><rect x="296.0" y="411.0" width="2.3" height="2.3" fill="#52b447"/><rect x="298.0" y="411.0" width="2.3" height="2.3" fill="#52b447"/><rect x="300.0" y="411.0" width="2.3" height="2.3" fill="#52b447"/><rect x="302.0" y="411.0" width="2.3" height="2.3" fill="#52b447"/><rect x="304.0" y="411.0" width="2.3" height="2.3" fill="#52b447"/><rect x="306.0" y="411.0" width="2.3" height="2.3" fill="#53b546"/><rect x="308.0" y="411.0" width="2.3" height="2.3" fill="#53b546"/><rect x="310.0" y="411.0" width="2.3" height="2.3" fill="#53b546"/><rect x="312.0" y="411.0" width="2.3" height="2.3" fill="#53b546"/><rect x="314.0" y="411.0" width="2.3" height="2.3" fill="#5eb942"/><rect x="316.0" y="411.0" width="2.3" height="2.3" fill="#68bc3f"/><rect x="318.0" y="411.0" width="2.3" height="2.3" fill="#79c13d"/><rect x="320.0" y="411.0" width="2.3" height="2.3" fill="#94c93b"/><rect x="322.0" y="411.0" width="2.3" height="2.3" fill="#acd039"/><rect x="324.0" y="411.0" width="2.3" height="2.3" fill="#c0d638"/><rect x="326.0" y="411.0" width="2.3" height="2.3" fill="#ceda3a"/><rect x="328.0" y="411.0" width="2.3" height="2.3" fill="#dbde3b"/><rect x="330.0" y="411.0" width="2.3" height="2.3" fill="#e6e13d"/><rect x="332.0" y="411.0" width="2.3" height="2.3" fill="#eee13d"/><rect x="334.0" y="411.0" width="2.3" height="2.3" fill="#f0d73a"/><rect x="336.0" y="411.0" width="2.3" height="2.3" fill="#f1ce38"/><rect x="338.0" y="411.0" width="2.3" height="2.3" fill="#f2c636"/><rect x="340.0" y="411.0" width="2.3" height="2.3" fill="#f4bf34"/><rect x="342.0" y="411.0" width="2.3" height="2.3" fill="#f5b833"/><rect x="344.0" y="411.0" width="2.3" height="2.3" fill="#f5b131"/><rect x="346.0" y="411.0" width="2.3" height="2.3" fill="#f5ab31"/><rect x="348.0" y="411.0" width="2.3" height="2.3" fill="#f4a631"/><rect x="350.0" y="411.0" width="2.3" height="2.3" fill="#f4a031"/><rect x="352.0" y="411.0" width="2.3" height="2.3" fill="#f39b31"/><rect x="354.0" y="411.0" width="2.3" height="2.3" fill="#f39631"/><rect x="356.0" y="411.0" width="2.3" height="2.3" fill="#f29230"/><rect x="358.0" y="411.0" width="2.3" height="2.3" fill="#f28e30"/><rect x="360.0" y="411.0" width="2.3" height="2.3" fill="#f18a30"/><rect x="362.0" y="411.0" width="2.3" height="2.3" fill="#f18630"/><rect x="286.0" y="413.0" width="2.3" height="2.3" fill="#4ab46c"/><rect x="288.0" y="413.0" width="2.3" height="2.3" fill="#4bb467"/><rect x="290.0" y="413.0" width="2.3" height="2.3" fill="#4cb461"/><rect x="292.0" y="413.0" width="2.3" height="2.3" fill="#4eb45a"/><rect x="294.0" y="413.0" width="2.3" height="2.3" fill="#4fb452"/><rect x="296.0" y="413.0" width="2.3" height="2.3" fill="#51b448"/><rect x="298.0" y="413.0" width="2.3" height="2.3" fill="#52b447"/><rect x="300.0" y="413.0" width="2.3" height="2.3" fill="#52b447"/><rect x="302.0" y="413.0" width="2.3" height="2.3" fill="#52b447"/><rect x="304.0" y="413.0" width="2.3" height="2.3" fill="#52b447"/><rect x="306.0" y="413.0" width="2.3" height="2.3" fill="#52b447"/><rect x="308.0" y="413.0" width="2.3" height="2.3" fill="#53b546"/><rect x="310.0" y="413.0" width="2.3" height="2.3" fill="#53b546"/><rect x="312.0" y="413.0" width="2.3" height="2.3" fill="#53b546"/><rect x="314.0" y="413.0" width="2.3" height="2.3" fill="#5eb942"/><rect x="316.0" y="413.0" width="2.3" height="2.3" fill="#68bc3f"/><rect x="318.0" y="413.0" width="2.3" height="2.3" fill="#7cc23c"/><rect x="320.0" y="413.0" width="2.3" height="2.3" fill="#99cb3a"/><rect x="322.0" y="413.0" width="2.3" height="2.3" fill="#b2d238"/><rect x="324.0" y="413.0" width="2.3" height="2.3" fill="#c6d839"/><rect x="326.0" y="413.0" width="2.3" height="2.3" fill="#d4dc3a"/><rect x="328.0" y="413.0" width="2.3" height="2.3" fill="#e1e03c"/><rect x="330.0" y="413.0" width="2.3" height="2.3" fill="#ede33d"/><rect x="332.0" y="413.0" width="2.3" height="2.3" fill="#efd93b"/><rect x="334.0" y="413.0" width="2.3" height="2.3" fill="#f1d039"/><rect x="336.0" y="413.0" width="2.3" height="2.3" fill="#f2c736"/><rect x="338.0" y="413.0" width="2.3" height="2.3" fill="#f4bf34"/><rect x="340.0" y="413.0" width="2.3" height="2.3" fill="#f5b732"/><rect x="342.0" y="413.0" width="2.3" height="2.3" fill="#f5b031"/><rect x="344.0" y="413.0" width="2.3" height="2.3" fill="#f5aa31"/><rect x="346.0" y="413.0" width="2.3" height="2.3" fill="#f4a431"/><rect x="348.0" y="413.0" width="2.3" height="2.3" fill="#f39e31"/><rect x="350.0" y="413.0" width="2.3" height="2.3" fill="#f39931"/><rect x="352.0" y="413.0" width="2.3" height="2.3" fill="#f29430"/><rect x="354.0" y="413.0" width="2.3" height="2.3" fill="#f28f30"/><rect x="356.0" y="413.0" width="2.3" height="2.3" fill="#f18b30"/><rect x="358.0" y="413.0" width="2.3" height="2.3" fill="#f18630"/><rect x="360.0" y="413.0" width="2.3" height="2.3" fill="#f18230"/><rect x="362.0" y="413.0" width="2.3" height="2.3" fill="#f07e30"/><rect x="286.0" y="415.0" width="2.3" height="2.3" fill="#49b471"/><rect x="288.0" y="415.0" width="2.3" height="2.3" fill="#4ab46d"/><rect x="290.0" y="415.0" width="2.3" height="2.3" fill="#4bb468"/><rect x="292.0" y="415.0" width="2.3" height="2.3" fill="#4cb462"/><rect x="294.0" y="415.0" width="2.3" height="2.3" fill="#4eb45b"/><rect x="296.0" y="415.0" width="2.3" height="2.3" fill="#4fb452"/><rect x="298.0" y="415.0" width="2.3" height="2.3" fill="#52b447"/><rect x="300.0" y="415.0" width="2.3" height="2.3" fill="#52b447"/><rect x="302.0" y="415.0" width="2.3" height="2.3" fill="#52b447"/><rect x="304.0" y="415.0" width="2.3" height="2.3" fill="#52b447"/><rect x="306.0" y="415.0" width="2.3" height="2.3" fill="#52b447"/><rect x="308.0" y="415.0" width="2.3" height="2.3" fill="#53b546"/><rect x="310.0" y="415.0" width="2.3" height="2.3" fill="#53b546"/><rect x="312.0" y="415.0" width="2.3" height="2.3" fill="#53b546"/><rect x="314.0" y="415.0" width="2.3" height="2.3" fill="#5db843"/><rect x="316.0" y="415.0" width="2.3" height="2.3" fill="#69bc3f"/><rect x="318.0" y="415.0" width="2.3" height="2.3" fill="#80c33c"/><rect x="320.0" y="415.0" width="2.3" height="2.3" fill="#9fcc3a"/><rect x="322.0" y="415.0" width="2.3" height="2.3" fill="#bad438"/><rect x="324.0" y="415.0" width="2.3" height="2.3" fill="#ccda39"/><rect x="326.0" y="415.0" width="2.3" height="2.3" fill="#dbde3b"/><rect x="328.0" y="415.0" width="2.3" height="2.3" fill="#e9e23d"/><rect x="330.0" y="415.0" width="2.3" height="2.3" fill="#efdc3c"/><rect x="332.0" y="415.0" width="2.3" height="2.3" fill="#f1d139"/><rect x="334.0" y="415.0" width="2.3" height="2.3" fill="#f2c837"/><rect x="336.0" y="415.0" width="2.3" height="2.3" fill="#f4bf34"/><rect x="338.0" y="415.0" width="2.3" height="2.3" fill="#f5b632"/><rect x="340.0" y="415.0" width="2.3" height="2.3" fill="#f5af31"/><rect x="342.0" y="415.0" width="2.3" height="2.3" fill="#f4a831"/><rect x="344.0" y="415.0" width="2.3" height="2.3" fill="#f4a131"/><rect x="346.0" y="415.0" width="2.3" height="2.3" fill="#f39b31"/><rect x="348.0" y="415.0" width="2.3" height="2.3" fill="#f39631"/><rect x="350.0" y="415.0" width="2.3" height="2.3" fill="#f29030"/><rect x="352.0" y="415.0" width="2.3" height="2.3" fill="#f18b30"/><rect x="354.0" y="415.0" width="2.3" height="2.3" fill="#f18730"/><rect x="356.0" y="415.0" width="2.3" height="2.3" fill="#f18230"/><rect x="358.0" y="415.0" width="2.3" height="2.3" fill="#f07e30"/><rect x="360.0" y="415.0" width="2.3" height="2.3" fill="#f07a30"/><rect x="362.0" y="415.0" width="2.3" height="2.3" fill="#ef7730"/><rect x="286.0" y="417.0" width="2.3" height="2.3" fill="#48b478"/><rect x="288.0" y="417.0" width="2.3" height="2.3" fill="#48b473"/><rect x="290.0" y="417.0" width="2.3" height="2.3" fill="#49b46f"/><rect x="292.0" y="417.0" width="2.3" height="2.3" fill="#4ab469"/><rect x="294.0" y="417.0" width="2.3" height="2.3" fill="#4cb463"/><rect x="296.0" y="417.0" width="2.3" height="2.3" fill="#4db45b"/><rect x="298.0" y="417.0" width="2.3" height="2.3" fill="#4fb451"/><rect x="300.0" y="417.0" width="2.3" height="2.3" fill="#52b447"/><rect x="302.0" y="417.0" width="2.3" height="2.3" fill="#52b447"/><rect x="304.0" y="417.0" width="2.3" height="2.3" fill="#52b447"/><rect x="306.0" y="417.0" width="2.3" height="2.3" fill="#52b447"/><rect x="308.0" y="417.0" width="2.3" height="2.3" fill="#52b447"/><rect x="310.0" y="417.0" width="2.3" height="2.3" fill="#53b546"/><rect x="312.0" y="417.0" width="2.3" height="2.3" fill="#53b546"/><rect x="314.0" y="417.0" width="2.3" height="2.3" fill="#5cb843"/><rect x="316.0" y="417.0" width="2.3" height="2.3" fill="#69bc3f"/><rect x="318.0" y="417.0" width="2.3" height="2.3" fill="#85c43c"/><rect x="320.0" y="417.0" width="2.3" height="2.3" fill="#a6ce39"/><rect x="322.0" y="417.0" width="2.3" height="2.3" fill="#c1d738"/><rect x="324.0" y="417.0" width="2.3" height="2.3" fill="#d3dc3a"/><rect x="326.0" y="417.0" width="2.3" height="2.3" fill="#e3e03c"/><rect x="328.0" y="417.0" width="2.3" height="2.3" fill="#eee03d"/><rect x="330.0" y="417.0" width="2.3" height="2.3" fill="#f0d43a"/><rect x="332.0" y="417.0" width="2.3" height="2.3" fill="#f2c937"/><rect x="334.0" y="417.0" width="2.3" height="2.3" fill="#f4be34"/><rect x="336.0" y="417.0" width="2.3" height="2.3" fill="#f5b532"/><rect x="338.0" y="417.0" width="2.3" height="2.3" fill="#f5ad31"/><rect x="340.0" y="417.0" width="2.3" height="2.3" fill="#f4a631"/><rect x="342.0" y="417.0" width="2.3" height="2.3" fill="#f39e31"/><rect x="344.0" y="417.0" width="2.3" height="2.3" fill="#f39831"/><rect x="346.0" y="417.0" width="2.3" height="2.3" fill="#f29230"/><rect x="348.0" y="417.0" width="2.3" height="2.3" fill="#f28c30"/><rect x="350.0" y="417.0" width="2.3" height="2.3" fill="#f18730"/><rect x="352.0" y="417.0" width="2.3" height="2.3" fill="#f18230"/><rect x="354.0" y="417.0" width="2.3" height="2.3" fill="#f07d30"/><rect x="356.0" y="417.0" width="2.3" height="2.3" fill="#f07930"/><rect x="358.0" y="417.0" width="2.3" height="2.3" fill="#ef7630"/><rect x="360.0" y="417.0" width="2.3" height="2.3" fill="#ef7330"/><rect x="362.0" y="417.0" width="2.3" height="2.3" fill="#ee7030"/><rect x="286.0" y="419.0" width="2.3" height="2.3" fill="#46b484"/><rect x="288.0" y="419.0" width="2.3" height="2.3" fill="#47b47d"/><rect x="290.0" y="419.0" width="2.3" height="2.3" fill="#48b476"/><rect x="292.0" y="419.0" width="2.3" height="2.3" fill="#49b471"/><rect x="294.0" y="419.0" width="2.3" height="2.3" fill="#4ab46b"/><rect x="296.0" y="419.0" width="2.3" height="2.3" fill="#4bb464"/><rect x="298.0" y="419.0" width="2.3" height="2.3" fill="#4db45c"/><rect x="300.0" y="419.0" width="2.3" height="2.3" fill="#50b451"/><rect x="302.0" y="419.0" width="2.3" height="2.3" fill="#52b447"/><rect x="304.0" y="419.0" width="2.3" height="2.3" fill="#52b447"/><rect x="306.0" y="419.0" width="2.3" height="2.3" fill="#52b447"/><rect x="308.0" y="419.0" width="2.3" height="2.3" fill="#52b447"/><rect x="310.0" y="419.0" width="2.3" height="2.3" fill="#53b546"/><rect x="312.0" y="419.0" width="2.3" height="2.3" fill="#53b546"/><rect x="314.0" y="419.0" width="2.3" height="2.3" fill="#5bb843"/><rect x="316.0" y="419.0" width="2.3" height="2.3" fill="#69bc3f"/><rect x="318.0" y="419.0" width="2.3" height="2.3" fill="#8ac63b"/><rect x="320.0" y="419.0" width="2.3" height="2.3" fill="#aed139"/><rect x="322.0" y="419.0" width="2.3" height="2.3" fill="#c9d939"/><rect x="324.0" y="419.0" width="2.3" height="2.3" fill="#dcde3b"/><rect x="326.0" y="419.0" width="2.3" height="2.3" fill="#ece33d"/><rect x="328.0" y="419.0" width="2.3" height="2.3" fill="#f0d63a"/><rect x="330.0" y="419.0" width="2.3" height="2.3" fill="#f2ca37"/><rect x="332.0" y="419.0" width="2.3" height="2.3" fill="#f4be34"/><rect x="334.0" y="419.0" width="2.3" height="2.3" fill="#f5b432"/><rect x="336.0" y="419.0" width="2.3" height="2.3" fill="#f5ab31"/><rect x="338.0" y="419.0" width="2.3" height="2.3" fill="#f4a331"/><rect x="340.0" y="419.0" width="2.3" height="2.3" fill="#f39b31"/><rect x="342.0" y="419.0" width="2.3" height="2.3" fill="#f29430"/><rect x="344.0" y="419.0" width="2.3" height="2.3" fill="#f28e30"/><rect x="346.0" y="419.0" width="2.3" height="2.3" fill="#f18830"/><rect x="348.0" y="419.0" width="2.3" height="2.3" fill="#f18230"/><rect x="350.0" y="419.0" width="2.3" height="2.3" fill="#f07d30"/><rect x="352.0" y="419.0" width="2.3" height="2.3" fill="#f07830"/><rect x="354.0" y="419.0" width="2.3" height="2.3" fill="#ef7530"/><rect x="356.0" y="419.0" width="2.3" height="2.3" fill="#ef7230"/><rect x="358.0" y="419.0" width="2.3" height="2.3" fill="#ee6f30"/><rect x="360.0" y="419.0" width="2.3" height="2.3" fill="#ee6c30"/><rect x="362.0" y="419.0" width="2.3" height="2.3" fill="#ed6a30"/><rect x="286.0" y="421.0" width="2.3" height="2.3" fill="#45b592"/><rect x="288.0" y="421.0" width="2.3" height="2.3" fill="#46b58b"/><rect x="290.0" y="421.0" width="2.3" height="2.3" fill="#46b483"/><rect x="292.0" y="421.0" width="2.3" height="2.3" fill="#47b47a"/><rect x="294.0" y="421.0" width="2.3" height="2.3" fill="#48b473"/><rect x="296.0" y="421.0" width="2.3" height="2.3" fill="#4ab46e"/><rect x="298.0" y="421.0" width="2.3" height="2.3" fill="#4bb466"/><rect x="300.0" y="421.0" width="2.3" height="2.3" fill="#4db45d"/><rect x="302.0" y="421.0" width="2.3" height="2.3" fill="#50b450"/><rect x="304.0" y="421.0" width="2.3" height="2.3" fill="#52b447"/><rect x="306.0" y="421.0" width="2.3" height="2.3" fill="#52b447"/><rect x="308.0" y="421.0" width="2.3" height="2.3" fill="#5bb850"/><rect x="310.0" y="421.0" width="2.3" height="2.3" fill="#60ba54"/><rect x="312.0" y="421.0" width="2.3" height="2.3" fill="#55b648"/><rect x="314.0" y="421.0" width="2.3" height="2.3" fill="#59b744"/><rect x="316.0" y="421.0" width="2.3" height="2.3" fill="#6abc3f"/><rect x="318.0" y="421.0" width="2.3" height="2.3" fill="#91c83b"/><rect x="320.0" y="421.0" width="2.3" height="2.3" fill="#b9d438"/><rect x="322.0" y="421.0" width="2.3" height="2.3" fill="#d2db3a"/><rect x="324.0" y="421.0" width="2.3" height="2.3" fill="#e6e13d"/><rect x="326.0" y="421.0" width="2.3" height="2.3" fill="#efda3b"/><rect x="328.0" y="421.0" width="2.3" height="2.3" fill="#f2cb37"/><rect x="330.0" y="421.0" width="2.3" height="2.3" fill="#f4be34"/><rect x="332.0" y="421.0" width="2.3" height="2.3" fill="#f5b331"/><rect x="334.0" y="421.0" width="2.3" height="2.3" fill="#f4a931"/><rect x="336.0" y="421.0" width="2.3" height="2.3" fill="#f39f31"/><rect x="338.0" y="421.0" width="2.3" height="2.3" fill="#f39731"/><rect x="340.0" y="421.0" width="2.3" height="2.3" fill="#f28f30"/><rect x="342.0" y="421.0" width="2.3" height="2.3" fill="#f18930"/><rect x="344.0" y="421.0" width="2.3" height="2.3" fill="#f18230"/><rect x="346.0" y="421.0" width="2.3" height="2.3" fill="#f07c30"/><rect x="348.0" y="421.0" width="2.3" height="2.3" fill="#ef7730"/><rect x="350.0" y="421.0" width="2.3" height="2.3" fill="#ef7330"/><rect x="352.0" y="421.0" width="2.3" height="2.3" fill="#ee7030"/><rect x="354.0" y="421.0" width="2.3" height="2.3" fill="#ee6d30"/><rect x="356.0" y="421.0" width="2.3" height="2.3" fill="#ed6a30"/><rect x="358.0" y="421.0" width="2.3" height="2.3" fill="#ed6730"/><rect x="360.0" y="421.0" width="2.3" height="2.3" fill="#ec6530"/><rect x="362.0" y="421.0" width="2.3" height="2.3" fill="#ec6230"/><rect x="286.0" y="423.0" width="2.3" height="2.3" fill="#44b69f"/><rect x="288.0" y="423.0" width="2.3" height="2.3" fill="#44b699"/><rect x="290.0" y="423.0" width="2.3" height="2.3" fill="#45b592"/><rect x="292.0" y="423.0" width="2.3" height="2.3" fill="#46b58a"/><rect x="294.0" y="423.0" width="2.3" height="2.3" fill="#47b481"/><rect x="296.0" y="423.0" width="2.3" height="2.3" fill="#48b476"/><rect x="298.0" y="423.0" width="2.3" height="2.3" fill="#49b470"/><rect x="300.0" y="423.0" width="2.3" height="2.3" fill="#4bb468"/><rect x="302.0" y="423.0" width="2.3" height="2.3" fill="#4db45e"/><rect x="304.0" y="423.0" width="2.3" height="2.3" fill="#50b44f"/><rect x="306.0" y="423.0" width="2.3" height="2.3" fill="#52b447"/><rect x="308.0" y="423.0" width="2.3" height="2.3" fill="#63bb5a"/><rect x="310.0" y="423.0" width="2.3" height="2.3" fill="#73c269"/><rect x="312.0" y="423.0" width="2.3" height="2.3" fill="#6dc062"/><rect x="314.0" y="423.0" width="2.3" height="2.3" fill="#60bb4f"/><rect x="316.0" y="423.0" width="2.3" height="2.3" fill="#6bbd3e"/><rect x="318.0" y="423.0" width="2.3" height="2.3" fill="#9acb3a"/><rect x="320.0" y="423.0" width="2.3" height="2.3" fill="#c3d738"/><rect x="322.0" y="423.0" width="2.3" height="2.3" fill="#dddf3b"/><rect x="324.0" y="423.0" width="2.3" height="2.3" fill="#eedf3c"/><rect x="326.0" y="423.0" width="2.3" height="2.3" fill="#f1cd38"/><rect x="328.0" y="423.0" width="2.3" height="2.3" fill="#f4be34"/><rect x="330.0" y="423.0" width="2.3" height="2.3" fill="#f5b131"/><rect x="332.0" y="423.0" width="2.3" height="2.3" fill="#f4a531"/><rect x="334.0" y="423.0" width="2.3" height="2.3" fill="#f39b31"/><rect x="336.0" y="423.0" width="2.3" height="2.3" fill="#f29230"/><rect x="338.0" y="423.0" width="2.3" height="2.3" fill="#f18a30"/><rect x="340.0" y="423.0" width="2.3" height="2.3" fill="#f18230"/><rect x="342.0" y="423.0" width="2.3" height="2.3" fill="#f07b30"/><rect x="344.0" y="423.0" width="2.3" height="2.3" fill="#ef7630"/><rect x="346.0" y="423.0" width="2.3" height="2.3" fill="#ef7230"/><rect x="348.0" y="423.0" width="2.3" height="2.3" fill="#ee6e30"/><rect x="350.0" y="423.0" width="2.3" height="2.3" fill="#ed6b30"/><rect x="352.0" y="423.0" width="2.3" height="2.3" fill="#ed6730"/><rect x="354.0" y="423.0" width="2.3" height="2.3" fill="#ec6430"/><rect x="356.0" y="423.0" width="2.3" height="2.3" fill="#ec6130"/><rect x="358.0" y="423.0" width="2.3" height="2.3" fill="#ec5f30"/><rect x="360.0" y="423.0" width="2.3" height="2.3" fill="#eb5c30"/><rect x="362.0" y="423.0" width="2.3" height="2.3" fill="#eb5a30"/><rect x="286.0" y="425.0" width="2.3" height="2.3" fill="#42b7ac"/><rect x="288.0" y="425.0" width="2.3" height="2.3" fill="#43b7a7"/><rect x="290.0" y="425.0" width="2.3" height="2.3" fill="#43b7a1"/><rect x="292.0" y="425.0" width="2.3" height="2.3" fill="#44b69b"/><rect x="294.0" y="425.0" width="2.3" height="2.3" fill="#45b693"/><rect x="296.0" y="425.0" width="2.3" height="2.3" fill="#46b589"/><rect x="298.0" y="425.0" width="2.3" height="2.3" fill="#47b47e"/><rect x="300.0" y="425.0" width="2.3" height="2.3" fill="#48b474"/><rect x="302.0" y="425.0" width="2.3" height="2.3" fill="#4ab46b"/><rect x="304.0" y="425.0" width="2.3" height="2.3" fill="#4db45f"/><rect x="306.0" y="425.0" width="2.3" height="2.3" fill="#50b44e"/><rect x="308.0" y="425.0" width="2.3" height="2.3" fill="#69be60"/><rect x="310.0" y="425.0" width="2.3" height="2.3" fill="#82c97a"/><rect x="312.0" y="425.0" width="2.3" height="2.3" fill="#85ca7c"/><rect x="314.0" y="425.0" width="2.3" height="2.3" fill="#76c46b"/><rect x="316.0" y="425.0" width="2.3" height="2.3" fill="#77c24d"/><rect x="318.0" y="425.0" width="2.3" height="2.3" fill="#a6ce39"/><rect x="320.0" y="425.0" width="2.3" height="2.3" fill="#cfdb3a"/><rect x="322.0" y="425.0" width="2.3" height="2.3" fill="#ebe33d"/><rect x="324.0" y="425.0" width="2.3" height="2.3" fill="#f1d039"/><rect x="326.0" y="425.0" width="2.3" height="2.3" fill="#f4bd34"/><rect x="328.0" y="425.0" width="2.3" height="2.3" fill="#f5ae31"/><rect x="330.0" y="425.0" width="2.3" height="2.3" fill="#f4a131"/><rect x="332.0" y="425.0" width="2.3" height="2.3" fill="#f29530"/><rect x="334.0" y="425.0" width="2.3" height="2.3" fill="#f18b30"/><rect x="336.0" y="425.0" width="2.3" height="2.3" fill="#f18230"/><rect x="338.0" y="425.0" width="2.3" height="2.3" fill="#f07a30"/><rect x="340.0" y="425.0" width="2.3" height="2.3" fill="#ef7430"/><rect x="342.0" y="425.0" width="2.3" height="2.3" fill="#ee7030"/><rect x="344.0" y="425.0" width="2.3" height="2.3" fill="#ee6b30"/><rect x="346.0" y="425.0" width="2.3" height="2.3" fill="#ed6730"/><rect x="348.0" y="425.0" width="2.3" height="2.3" fill="#ec6430"/><rect x="350.0" y="425.0" width="2.3" height="2.3" fill="#ec6030"/><rect x="352.0" y="425.0" width="2.3" height="2.3" fill="#eb5d30"/><rect x="354.0" y="425.0" width="2.3" height="2.3" fill="#eb5b30"/><rect x="356.0" y="425.0" width="2.3" height="2.3" fill="#ea5830"/><rect x="358.0" y="425.0" width="2.3" height="2.3" fill="#ea5530"/><rect x="360.0" y="425.0" width="2.3" height="2.3" fill="#ea5330"/><rect x="362.0" y="425.0" width="2.3" height="2.3" fill="#e95030"/><rect x="286.0" y="427.0" width="2.3" height="2.3" fill="#41b8b9"/><rect x="288.0" y="427.0" width="2.3" height="2.3" fill="#41b8b5"/><rect x="290.0" y="427.0" width="2.3" height="2.3" fill="#42b8b0"/><rect x="292.0" y="427.0" width="2.3" height="2.3" fill="#42b7ab"/><rect x="294.0" y="427.0" width="2.3" height="2.3" fill="#43b7a4"/><rect x="296.0" y="427.0" width="2.3" height="2.3" fill="#44b69d"/><rect x="298.0" y="427.0" width="2.3" height="2.3" fill="#45b694"/><rect x="300.0" y="427.0" width="2.3" height="2.3" fill="#46b588"/><rect x="302.0" y="427.0" width="2.3" height="2.3" fill="#47b479"/><rect x="304.0" y="427.0" width="2.3" height="2.3" fill="#49b46f"/><rect x="306.0" y="427.0" width="2.3" height="2.3" fill="#4cb461"/><rect x="308.0" y="427.0" width="2.3" height="2.3" fill="#6abf66"/><rect x="310.0" y="427.0" width="2.3" height="2.3" fill="#8bcc83"/><rect x="312.0" y="427.0" width="2.3" height="2.3" fill="#9bd494"/><rect x="314.0" y="427.0" width="2.3" height="2.3" fill="#90cf87"/><rect x="316.0" y="427.0" width="2.3" height="2.3" fill="#8ecc69"/><rect x="318.0" y="427.0" width="2.3" height="2.3" fill="#bdd74a"/><rect x="320.0" y="427.0" width="2.3" height="2.3" fill="#dfdf3c"/><rect x="322.0" y="427.0" width="2.3" height="2.3" fill="#f0d43a"/><rect x="324.0" y="427.0" width="2.3" height="2.3" fill="#f4bd34"/><rect x="326.0" y="427.0" width="2.3" height="2.3" fill="#f5aa31"/><rect x="328.0" y="427.0" width="2.3" height="2.3" fill="#f39b31"/><rect x="330.0" y="427.0" width="2.3" height="2.3" fill="#f28d30"/><rect x="332.0" y="427.0" width="2.3" height="2.3" fill="#f18230"/><rect x="334.0" y="427.0" width="2.3" height="2.3" fill="#f07830"/><rect x="336.0" y="427.0" width="2.3" height="2.3" fill="#ef7230"/><rect x="338.0" y="427.0" width="2.3" height="2.3" fill="#ee6c30"/><rect x="340.0" y="427.0" width="2.3" height="2.3" fill="#ed6730"/><rect x="342.0" y="427.0" width="2.3" height="2.3" fill="#ec6330"/><rect x="344.0" y="427.0" width="2.3" height="2.3" fill="#ec5f30"/><rect x="346.0" y="427.0" width="2.3" height="2.3" fill="#eb5b30"/><rect x="348.0" y="427.0" width="2.3" height="2.3" fill="#ea5830"/><rect x="350.0" y="427.0" width="2.3" height="2.3" fill="#ea5530"/><rect x="352.0" y="427.0" width="2.3" height="2.3" fill="#e95230"/><rect x="354.0" y="427.0" width="2.3" height="2.3" fill="#e94f30"/><rect x="356.0" y="427.0" width="2.3" height="2.3" fill="#e94c30"/><rect x="358.0" y="427.0" width="2.3" height="2.3" fill="#e84a30"/><rect x="360.0" y="427.0" width="2.3" height="2.3" fill="#e84830"/><rect x="362.0" y="427.0" width="2.3" height="2.3" fill="#e84630"/><rect x="286.0" y="429.0" width="2.3" height="2.3" fill="#40b9c6"/><rect x="288.0" y="429.0" width="2.3" height="2.3" fill="#40b9c3"/><rect x="290.0" y="429.0" width="2.3" height="2.3" fill="#40b9c0"/><rect x="292.0" y="429.0" width="2.3" height="2.3" fill="#41b9bc"/><rect x="294.0" y="429.0" width="2.3" height="2.3" fill="#41b8b7"/><rect x="296.0" y="429.0" width="2.3" height="2.3" fill="#42b8b1"/><rect x="298.0" y="429.0" width="2.3" height="2.3" fill="#43b7a9"/><rect x="300.0" y="429.0" width="2.3" height="2.3" fill="#43b7a1"/><rect x="302.0" y="429.0" width="2.3" height="2.3" fill="#45b695"/><rect x="304.0" y="429.0" width="2.3" height="2.3" fill="#46b585"/><rect x="306.0" y="429.0" width="2.3" height="2.3" fill="#48b474"/><rect x="308.0" y="429.0" width="2.3" height="2.3" fill="#65be7a"/><rect x="310.0" y="429.0" width="2.3" height="2.3" fill="#8ece87"/><rect x="312.0" y="429.0" width="2.3" height="2.3" fill="#abdaa6"/><rect x="314.0" y="429.0" width="2.3" height="2.3" fill="#aadaa3"/><rect x="316.0" y="429.0" width="2.3" height="2.3" fill="#a8d787"/><rect x="318.0" y="429.0" width="2.3" height="2.3" fill="#d6e268"/><rect x="320.0" y="429.0" width="2.3" height="2.3" fill="#f0df4f"/><rect x="322.0" y="429.0" width="2.3" height="2.3" fill="#f4bc34"/><rect x="324.0" y="429.0" width="2.3" height="2.3" fill="#f4a431"/><rect x="326.0" y="429.0" width="2.3" height="2.3" fill="#f29130"/><rect x="328.0" y="429.0" width="2.3" height="2.3" fill="#f18230"/><rect x="330.0" y="429.0" width="2.3" height="2.3" fill="#ef7630"/><rect x="332.0" y="429.0" width="2.3" height="2.3" fill="#ee6e30"/><rect x="334.0" y="429.0" width="2.3" height="2.3" fill="#ed6830"/><rect x="336.0" y="429.0" width="2.3" height="2.3" fill="#ec6230"/><rect x="338.0" y="429.0" width="2.3" height="2.3" fill="#eb5d30"/><rect x="340.0" y="429.0" width="2.3" height="2.3" fill="#ea5830"/><rect x="342.0" y="429.0" width="2.3" height="2.3" fill="#ea5430"/><rect x="344.0" y="429.0" width="2.3" height="2.3" fill="#e95030"/><rect x="346.0" y="429.0" width="2.3" height="2.3" fill="#e94c30"/><rect x="348.0" y="429.0" width="2.3" height="2.3" fill="#e84930"/><rect x="350.0" y="429.0" width="2.3" height="2.3" fill="#e84630"/><rect x="352.0" y="429.0" width="2.3" height="2.3" fill="#e74530"/><rect x="354.0" y="429.0" width="2.3" height="2.3" fill="#e74430"/><rect x="356.0" y="429.0" width="2.3" height="2.3" fill="#e74430"/><rect x="358.0" y="429.0" width="2.3" height="2.3" fill="#e74330"/><rect x="360.0" y="429.0" width="2.3" height="2.3" fill="#e74330"/><rect x="362.0" y="429.0" width="2.3" height="2.3" fill="#e74230"/><rect x="286.0" y="431.0" width="2.3" height="2.3" fill="#3fb9cc"/><rect x="288.0" y="431.0" width="2.3" height="2.3" fill="#3fb9cb"/><rect x="290.0" y="431.0" width="2.3" height="2.3" fill="#3fb9ca"/><rect x="292.0" y="431.0" width="2.3" height="2.3" fill="#3fb9c9"/><rect x="294.0" y="431.0" width="2.3" height="2.3" fill="#40b9c7"/><rect x="296.0" y="431.0" width="2.3" height="2.3" fill="#40b9c5"/><rect x="298.0" y="431.0" width="2.3" height="2.3" fill="#40b9c0"/><rect x="300.0" y="431.0" width="2.3" height="2.3" fill="#41b8ba"/><rect x="302.0" y="431.0" width="2.3" height="2.3" fill="#42b8b2"/><rect x="304.0" y="431.0" width="2.3" height="2.3" fill="#43b7a7"/><rect x="306.0" y="431.0" width="2.3" height="2.3" fill="#44b698"/><rect x="308.0" y="431.0" width="2.3" height="2.3" fill="#5cbd8f"/><rect x="310.0" y="431.0" width="2.3" height="2.3" fill="#88cd9c"/><rect x="312.0" y="431.0" width="2.3" height="2.3" fill="#b2ddad"/><rect x="314.0" y="431.0" width="2.3" height="2.3" fill="#c5e6c1"/><rect x="316.0" y="431.0" width="2.3" height="2.3" fill="#c5e3a5"/><rect x="318.0" y="431.0" width="2.3" height="2.3" fill="#f0ed88"/><rect x="320.0" y="431.0" width="2.3" height="2.3" fill="#f7cb65"/><rect x="322.0" y="431.0" width="2.3" height="2.3" fill="#f4a447"/><rect x="324.0" y="431.0" width="2.3" height="2.3" fill="#f18230"/><rect x="326.0" y="431.0" width="2.3" height="2.3" fill="#ef7230"/><rect x="328.0" y="431.0" width="2.3" height="2.3" fill="#ed6830"/><rect x="330.0" y="431.0" width="2.3" height="2.3" fill="#ec6030"/><rect x="332.0" y="431.0" width="2.3" height="2.3" fill="#eb5930"/><rect x="334.0" y="431.0" width="2.3" height="2.3" fill="#ea5230"/><rect x="336.0" y="431.0" width="2.3" height="2.3" fill="#e94d30"/><rect x="338.0" y="431.0" width="2.3" height="2.3" fill="#e84830"/><rect x="340.0" y="431.0" width="2.3" height="2.3" fill="#e74530"/><rect x="342.0" y="431.0" width="2.3" height="2.3" fill="#e74430"/><rect x="344.0" y="431.0" width="2.3" height="2.3" fill="#e74330"/><rect x="346.0" y="431.0" width="2.3" height="2.3" fill="#e74230"/><rect x="348.0" y="431.0" width="2.3" height="2.3" fill="#e74230"/><rect x="350.0" y="431.0" width="2.3" height="2.3" fill="#e74130"/><rect x="352.0" y="431.0" width="2.3" height="2.3" fill="#e74130"/><rect x="354.0" y="431.0" width="2.3" height="2.3" fill="#e74030"/><rect x="356.0" y="431.0" width="2.3" height="2.3" fill="#e63f30"/><rect x="358.0" y="431.0" width="2.3" height="2.3" fill="#e63f30"/><rect x="360.0" y="431.0" width="2.3" height="2.3" fill="#e63e30"/><rect x="362.0" y="431.0" width="2.3" height="2.3" fill="#e63e30"/><rect x="286.0" y="433.0" width="2.3" height="2.3" fill="#3fb8d0"/><rect x="288.0" y="433.0" width="2.3" height="2.3" fill="#3fb8d0"/><rect x="290.0" y="433.0" width="2.3" height="2.3" fill="#3fb8cf"/><rect x="292.0" y="433.0" width="2.3" height="2.3" fill="#3fb8cf"/><rect x="294.0" y="433.0" width="2.3" height="2.3" fill="#3fb8ce"/><rect x="296.0" y="433.0" width="2.3" height="2.3" fill="#3fb8cd"/><rect x="298.0" y="433.0" width="2.3" height="2.3" fill="#3fb8cd"/><rect x="300.0" y="433.0" width="2.3" height="2.3" fill="#3fb9cb"/><rect x="302.0" y="433.0" width="2.3" height="2.3" fill="#3fb9ca"/><rect x="304.0" y="433.0" width="2.3" height="2.3" fill="#40b9c7"/><rect x="306.0" y="433.0" width="2.3" height="2.3" fill="#40b9c1"/><rect x="308.0" y="433.0" width="2.3" height="2.3" fill="#52bebb"/><rect x="310.0" y="433.0" width="2.3" height="2.3" fill="#7ecdbd"/><rect x="312.0" y="433.0" width="2.3" height="2.3" fill="#acdcc0"/><rect x="314.0" y="433.0" width="2.3" height="2.3" fill="#d9eed6"/><rect x="316.0" y="433.0" width="2.3" height="2.3" fill="#e4f0c5"/><rect x="318.0" y="433.0" width="2.3" height="2.3" fill="#fadea2"/><rect x="320.0" y="433.0" width="2.3" height="2.3" fill="#f6b382"/><rect x="322.0" y="433.0" width="2.3" height="2.3" fill="#f28f64"/><rect x="324.0" y="433.0" width="2.3" height="2.3" fill="#ed6d47"/><rect x="326.0" y="433.0" width="2.3" height="2.3" fill="#e94f30"/><rect x="328.0" y="433.0" width="2.3" height="2.3" fill="#e84630"/><rect x="330.0" y="433.0" width="2.3" height="2.3" fill="#e74430"/><rect x="332.0" y="433.0" width="2.3" height="2.3" fill="#e74230"/><rect x="334.0" y="433.0" width="2.3" height="2.3" fill="#e74130"/><rect x="336.0" y="433.0" width="2.3" height="2.3" fill="#e64030"/><rect x="338.0" y="433.0" width="2.3" height="2.3" fill="#e63f30"/><rect x="340.0" y="433.0" width="2.3" height="2.3" fill="#e63e30"/><rect x="342.0" y="433.0" width="2.3" height="2.3" fill="#e63d30"/><rect x="344.0" y="433.0" width="2.3" height="2.3" fill="#e63d30"/><rect x="346.0" y="433.0" width="2.3" height="2.3" fill="#e63c30"/><rect x="348.0" y="433.0" width="2.3" height="2.3" fill="#e63b30"/><rect x="350.0" y="433.0" width="2.3" height="2.3" fill="#e63b30"/><rect x="352.0" y="433.0" width="2.3" height="2.3" fill="#e63b30"/><rect x="354.0" y="433.0" width="2.3" height="2.3" fill="#e53a30"/><rect x="356.0" y="433.0" width="2.3" height="2.3" fill="#e53a30"/><rect x="358.0" y="433.0" width="2.3" height="2.3" fill="#e53930"/><rect x="360.0" y="433.0" width="2.3" height="2.3" fill="#e53930"/><rect x="362.0" y="433.0" width="2.3" height="2.3" fill="#e53930"/><rect x="286.0" y="435.0" width="2.3" height="2.3" fill="#3fb7d4"/><rect x="288.0" y="435.0" width="2.3" height="2.3" fill="#3fb7d4"/><rect x="290.0" y="435.0" width="2.3" height="2.3" fill="#3fb7d4"/><rect x="292.0" y="435.0" width="2.3" height="2.3" fill="#3fb7d4"/><rect x="294.0" y="435.0" width="2.3" height="2.3" fill="#3fb7d4"/><rect x="296.0" y="435.0" width="2.3" height="2.3" fill="#3fb7d4"/><rect x="298.0" y="435.0" width="2.3" height="2.3" fill="#3fb7d4"/><rect x="300.0" y="435.0" width="2.3" height="2.3" fill="#3fb7d4"/><rect x="302.0" y="435.0" width="2.3" height="2.3" fill="#3fb7d4"/><rect x="304.0" y="435.0" width="2.3" height="2.3" fill="#3fb7d3"/><rect x="306.0" y="435.0" width="2.3" height="2.3" fill="#3fb7d3"/><rect x="308.0" y="435.0" width="2.3" height="2.3" fill="#47bad4"/><rect x="310.0" y="435.0" width="2.3" height="2.3" fill="#72cade"/><rect x="312.0" y="435.0" width="2.3" height="2.3" fill="#a0dce8"/><rect x="314.0" y="435.0" width="2.3" height="2.3" fill="#d2eef2"/><rect x="316.0" y="435.0" width="2.3" height="2.3" fill="#fdf2ea"/><rect x="318.0" y="435.0" width="2.3" height="2.3" fill="#f8c9c4"/><rect x="320.0" y="435.0" width="2.3" height="2.3" fill="#f3a8a3"/><rect x="322.0" y="435.0" width="2.3" height="2.3" fill="#ef8883"/><rect x="324.0" y="435.0" width="2.3" height="2.3" fill="#eb6a65"/><rect x="326.0" y="435.0" width="2.3" height="2.3" fill="#e84d48"/><rect x="328.0" y="435.0" width="2.3" height="2.3" fill="#e43430"/><rect x="330.0" y="435.0" width="2.3" height="2.3" fill="#e43430"/><rect x="332.0" y="435.0" width="2.3" height="2.3" fill="#e43330"/><rect x="334.0" y="435.0" width="2.3" height="2.3" fill="#e43330"/><rect x="336.0" y="435.0" width="2.3" height="2.3" fill="#e43330"/><rect x="338.0" y="435.0" width="2.3" height="2.3" fill="#e43330"/><rect x="340.0" y="435.0" width="2.3" height="2.3" fill="#e43230"/><rect x="342.0" y="435.0" width="2.3" height="2.3" fill="#e43230"/><rect x="344.0" y="435.0" width="2.3" height="2.3" fill="#e43230"/><rect x="346.0" y="435.0" width="2.3" height="2.3" fill="#e43230"/><rect x="348.0" y="435.0" width="2.3" height="2.3" fill="#e43230"/><rect x="350.0" y="435.0" width="2.3" height="2.3" fill="#e43230"/><rect x="352.0" y="435.0" width="2.3" height="2.3" fill="#e43230"/><rect x="354.0" y="435.0" width="2.3" height="2.3" fill="#e43230"/><rect x="356.0" y="435.0" width="2.3" height="2.3" fill="#e43230"/><rect x="358.0" y="435.0" width="2.3" height="2.3" fill="#e43230"/><rect x="360.0" y="435.0" width="2.3" height="2.3" fill="#e43230"/><rect x="362.0" y="435.0" width="2.3" height="2.3" fill="#e43130"/><rect x="286.0" y="437.0" width="2.3" height="2.3" fill="#3eb6d8"/><rect x="288.0" y="437.0" width="2.3" height="2.3" fill="#3eb6d9"/><rect x="290.0" y="437.0" width="2.3" height="2.3" fill="#3eb6d9"/><rect x="292.0" y="437.0" width="2.3" height="2.3" fill="#3eb6d9"/><rect x="294.0" y="437.0" width="2.3" height="2.3" fill="#3eb6da"/><rect x="296.0" y="437.0" width="2.3" height="2.3" fill="#3eb5db"/><rect x="298.0" y="437.0" width="2.3" height="2.3" fill="#3eb5db"/><rect x="300.0" y="437.0" width="2.3" height="2.3" fill="#3eb5dc"/><rect x="302.0" y="437.0" width="2.3" height="2.3" fill="#3eb5dd"/><rect x="304.0" y="437.0" width="2.3" height="2.3" fill="#3eb4df"/><rect x="306.0" y="437.0" width="2.3" height="2.3" fill="#3eb4e1"/><rect x="308.0" y="437.0" width="2.3" height="2.3" fill="#3db2e3"/><rect x="310.0" y="437.0" width="2.3" height="2.3" fill="#66bde7"/><rect x="312.0" y="437.0" width="2.3" height="2.3" fill="#91c8eb"/><rect x="314.0" y="437.0" width="2.3" height="2.3" fill="#bdcaea"/><rect x="316.0" y="437.0" width="2.3" height="2.3" fill="#dfc1e6"/><rect x="318.0" y="437.0" width="2.3" height="2.3" fill="#edabd6"/><rect x="320.0" y="437.0" width="2.3" height="2.3" fill="#ef94c0"/><rect x="322.0" y="437.0" width="2.3" height="2.3" fill="#ec7ca1"/><rect x="324.0" y="437.0" width="2.3" height="2.3" fill="#e96483"/><rect x="326.0" y="437.0" width="2.3" height="2.3" fill="#e74d66"/><rect x="328.0" y="437.0" width="2.3" height="2.3" fill="#e4374a"/><rect x="330.0" y="437.0" width="2.3" height="2.3" fill="#e32f3c"/><rect x="332.0" y="437.0" width="2.3" height="2.3" fill="#e32e36"/><rect x="334.0" y="437.0" width="2.3" height="2.3" fill="#e42e31"/><rect x="336.0" y="437.0" width="2.3" height="2.3" fill="#e42f30"/><rect x="338.0" y="437.0" width="2.3" height="2.3" fill="#e42f30"/><rect x="340.0" y="437.0" width="2.3" height="2.3" fill="#e42f30"/><rect x="342.0" y="437.0" width="2.3" height="2.3" fill="#e42f30"/><rect x="344.0" y="437.0" width="2.3" height="2.3" fill="#e42f30"/><rect x="346.0" y="437.0" width="2.3" height="2.3" fill="#e42f30"/><rect x="348.0" y="437.0" width="2.3" height="2.3" fill="#e42f30"/><rect x="350.0" y="437.0" width="2.3" height="2.3" fill="#e42f30"/><rect x="352.0" y="437.0" width="2.3" height="2.3" fill="#e42f30"/><rect x="354.0" y="437.0" width="2.3" height="2.3" fill="#e42f30"/><rect x="356.0" y="437.0" width="2.3" height="2.3" fill="#e42f30"/><rect x="358.0" y="437.0" width="2.3" height="2.3" fill="#e42f30"/><rect x="360.0" y="437.0" width="2.3" height="2.3" fill="#e42f30"/><rect x="362.0" y="437.0" width="2.3" height="2.3" fill="#e42f30"/><rect x="286.0" y="439.0" width="2.3" height="2.3" fill="#3eb5dd"/><rect x="288.0" y="439.0" width="2.3" height="2.3" fill="#3eb5de"/><rect x="290.0" y="439.0" width="2.3" height="2.3" fill="#3eb5df"/><rect x="292.0" y="439.0" width="2.3" height="2.3" fill="#3eb4e0"/><rect x="294.0" y="439.0" width="2.3" height="2.3" fill="#3eb4e1"/><rect x="296.0" y="439.0" width="2.3" height="2.3" fill="#3eb4e2"/><rect x="298.0" y="439.0" width="2.3" height="2.3" fill="#3db3e3"/><rect x="300.0" y="439.0" width="2.3" height="2.3" fill="#3db1e3"/><rect x="302.0" y="439.0" width="2.3" height="2.3" fill="#3daee2"/><rect x="304.0" y="439.0" width="2.3" height="2.3" fill="#3cabe1"/><rect x="306.0" y="439.0" width="2.3" height="2.3" fill="#3ba5df"/><rect x="308.0" y="439.0" width="2.3" height="2.3" fill="#3a9ddc"/><rect x="310.0" y="439.0" width="2.3" height="2.3" fill="#549ddc"/><rect x="312.0" y="439.0" width="2.3" height="2.3" fill="#7b9cd8"/><rect x="314.0" y="439.0" width="2.3" height="2.3" fill="#9da3d5"/><rect x="316.0" y="439.0" width="2.3" height="2.3" fill="#b88ed2"/><rect x="318.0" y="439.0" width="2.3" height="2.3" fill="#d47bc8"/><rect x="320.0" y="439.0" width="2.3" height="2.3" fill="#db67b8"/><rect x="322.0" y="439.0" width="2.3" height="2.3" fill="#de54a7"/><rect x="324.0" y="439.0" width="2.3" height="2.3" fill="#e14097"/><rect x="326.0" y="439.0" width="2.3" height="2.3" fill="#e23d87"/><rect x="328.0" y="439.0" width="2.3" height="2.3" fill="#e23a79"/><rect x="330.0" y="439.0" width="2.3" height="2.3" fill="#e2386e"/><rect x="332.0" y="439.0" width="2.3" height="2.3" fill="#e23765"/><rect x="334.0" y="439.0" width="2.3" height="2.3" fill="#e3355d"/><rect x="336.0" y="439.0" width="2.3" height="2.3" fill="#e33456"/><rect x="338.0" y="439.0" width="2.3" height="2.3" fill="#e33350"/><rect x="340.0" y="439.0" width="2.3" height="2.3" fill="#e3324a"/><rect x="342.0" y="439.0" width="2.3" height="2.3" fill="#e33146"/><rect x="344.0" y="439.0" width="2.3" height="2.3" fill="#e33041"/><rect x="346.0" y="439.0" width="2.3" height="2.3" fill="#e3303e"/><rect x="348.0" y="439.0" width="2.3" height="2.3" fill="#e32f3a"/><rect x="350.0" y="439.0" width="2.3" height="2.3" fill="#e32f37"/><rect x="352.0" y="439.0" width="2.3" height="2.3" fill="#e32e34"/><rect x="354.0" y="439.0" width="2.3" height="2.3" fill="#e32e32"/><rect x="356.0" y="439.0" width="2.3" height="2.3" fill="#e42e31"/><rect x="358.0" y="439.0" width="2.3" height="2.3" fill="#e42e31"/><rect x="360.0" y="439.0" width="2.3" height="2.3" fill="#e42f30"/><rect x="362.0" y="439.0" width="2.3" height="2.3" fill="#e42f30"/><rect x="286.0" y="441.0" width="2.3" height="2.3" fill="#3eb4e2"/><rect x="288.0" y="441.0" width="2.3" height="2.3" fill="#3db3e3"/><rect x="290.0" y="441.0" width="2.3" height="2.3" fill="#3db2e3"/><rect x="292.0" y="441.0" width="2.3" height="2.3" fill="#3db1e2"/><rect x="294.0" y="441.0" width="2.3" height="2.3" fill="#3dafe2"/><rect x="296.0" y="441.0" width="2.3" height="2.3" fill="#3cade1"/><rect x="298.0" y="441.0" width="2.3" height="2.3" fill="#3caae1"/><rect x="300.0" y="441.0" width="2.3" height="2.3" fill="#3ba7df"/><rect x="302.0" y="441.0" width="2.3" height="2.3" fill="#3ba3de"/><rect x="304.0" y="441.0" width="2.3" height="2.3" fill="#3a9ddc"/><rect x="306.0" y="441.0" width="2.3" height="2.3" fill="#3893d9"/><rect x="308.0" y="441.0" width="2.3" height="2.3" fill="#3684d3"/><rect x="310.0" y="441.0" width="2.3" height="2.3" fill="#3f71c8"/><rect x="312.0" y="441.0" width="2.3" height="2.3" fill="#626ebe"/><rect x="314.0" y="441.0" width="2.3" height="2.3" fill="#7c73c2"/><rect x="316.0" y="441.0" width="2.3" height="2.3" fill="#9560bf"/><rect x="318.0" y="441.0" width="2.3" height="2.3" fill="#b04db6"/><rect x="320.0" y="441.0" width="2.3" height="2.3" fill="#c840af"/><rect x="322.0" y="441.0" width="2.3" height="2.3" fill="#d040a7"/><rect x="324.0" y="441.0" width="2.3" height="2.3" fill="#d640a1"/><rect x="326.0" y="441.0" width="2.3" height="2.3" fill="#db409c"/><rect x="328.0" y="441.0" width="2.3" height="2.3" fill="#e04097"/><rect x="330.0" y="441.0" width="2.3" height="2.3" fill="#e23e8f"/><rect x="332.0" y="441.0" width="2.3" height="2.3" fill="#e23d85"/><rect x="334.0" y="441.0" width="2.3" height="2.3" fill="#e23b7c"/><rect x="336.0" y="441.0" width="2.3" height="2.3" fill="#e23a74"/><rect x="338.0" y="441.0" width="2.3" height="2.3" fill="#e2386d"/><rect x="340.0" y="441.0" width="2.3" height="2.3" fill="#e23767"/><rect x="342.0" y="441.0" width="2.3" height="2.3" fill="#e33661"/><rect x="344.0" y="441.0" width="2.3" height="2.3" fill="#e3355c"/><rect x="346.0" y="441.0" width="2.3" height="2.3" fill="#e33458"/><rect x="348.0" y="441.0" width="2.3" height="2.3" fill="#e33454"/><rect x="350.0" y="441.0" width="2.3" height="2.3" fill="#e33350"/><rect x="352.0" y="441.0" width="2.3" height="2.3" fill="#e3324c"/><rect x="354.0" y="441.0" width="2.3" height="2.3" fill="#e33249"/><rect x="356.0" y="441.0" width="2.3" height="2.3" fill="#e33146"/><rect x="358.0" y="441.0" width="2.3" height="2.3" fill="#e33143"/><rect x="360.0" y="441.0" width="2.3" height="2.3" fill="#e33040"/><rect x="362.0" y="441.0" width="2.3" height="2.3" fill="#e3303e"/><rect x="286.0" y="443.0" width="2.3" height="2.3" fill="#3db0e2"/><rect x="288.0" y="443.0" width="2.3" height="2.3" fill="#3daee2"/><rect x="290.0" y="443.0" width="2.3" height="2.3" fill="#3cace1"/><rect x="292.0" y="443.0" width="2.3" height="2.3" fill="#3caae0"/><rect x="294.0" y="443.0" width="2.3" height="2.3" fill="#3ba8e0"/><rect x="296.0" y="443.0" width="2.3" height="2.3" fill="#3ba5df"/><rect x="298.0" y="443.0" width="2.3" height="2.3" fill="#3aa2de"/><rect x="300.0" y="443.0" width="2.3" height="2.3" fill="#3a9ddc"/><rect x="302.0" y="443.0" width="2.3" height="2.3" fill="#3896da"/><rect x="304.0" y="443.0" width="2.3" height="2.3" fill="#378dd7"/><rect x="306.0" y="443.0" width="2.3" height="2.3" fill="#3580d1"/><rect x="308.0" y="443.0" width="2.3" height="2.3" fill="#3268c5"/><rect x="310.0" y="443.0" width="2.3" height="2.3" fill="#2e4db4"/><rect x="312.0" y="443.0" width="2.3" height="2.3" fill="#4554b1"/><rect x="314.0" y="443.0" width="2.3" height="2.3" fill="#5d46b1"/><rect x="316.0" y="443.0" width="2.3" height="2.3" fill="#7b3cb1"/><rect x="318.0" y="443.0" width="2.3" height="2.3" fill="#9c3eb0"/><rect x="320.0" y="443.0" width="2.3" height="2.3" fill="#b83fb0"/><rect x="322.0" y="443.0" width="2.3" height="2.3" fill="#ca40ad"/><rect x="324.0" y="443.0" width="2.3" height="2.3" fill="#cf40a8"/><rect x="326.0" y="443.0" width="2.3" height="2.3" fill="#d440a3"/><rect x="328.0" y="443.0" width="2.3" height="2.3" fill="#d8409f"/><rect x="330.0" y="443.0" width="2.3" height="2.3" fill="#dc409b"/><rect x="332.0" y="443.0" width="2.3" height="2.3" fill="#df4098"/><rect x="334.0" y="443.0" width="2.3" height="2.3" fill="#e23f94"/><rect x="336.0" y="443.0" width="2.3" height="2.3" fill="#e23e8c"/><rect x="338.0" y="443.0" width="2.3" height="2.3" fill="#e23c84"/><rect x="340.0" y="443.0" width="2.3" height="2.3" fill="#e23b7e"/><rect x="342.0" y="443.0" width="2.3" height="2.3" fill="#e23a78"/><rect x="344.0" y="443.0" width="2.3" height="2.3" fill="#e23972"/><rect x="346.0" y="443.0" width="2.3" height="2.3" fill="#e2386d"/><rect x="348.0" y="443.0" width="2.3" height="2.3" fill="#e23768"/><rect x="350.0" y="443.0" width="2.3" height="2.3" fill="#e23764"/><rect x="352.0" y="443.0" width="2.3" height="2.3" fill="#e33660"/><rect x="354.0" y="443.0" width="2.3" height="2.3" fill="#e3355c"/><rect x="356.0" y="443.0" width="2.3" height="2.3" fill="#e33559"/><rect x="358.0" y="443.0" width="2.3" height="2.3" fill="#e33456"/><rect x="360.0" y="443.0" width="2.3" height="2.3" fill="#e33353"/><rect x="362.0" y="443.0" width="2.3" height="2.3" fill="#e33350"/><rect x="286.0" y="445.0" width="2.3" height="2.3" fill="#3caae0"/><rect x="288.0" y="445.0" width="2.3" height="2.3" fill="#3ca8e0"/><rect x="290.0" y="445.0" width="2.3" height="2.3" fill="#3ba6df"/><rect x="292.0" y="445.0" width="2.3" height="2.3" fill="#3ba4de"/><rect x="294.0" y="445.0" width="2.3" height="2.3" fill="#3aa1dd"/><rect x="296.0" y="445.0" width="2.3" height="2.3" fill="#3a9ddc"/><rect x="298.0" y="445.0" width="2.3" height="2.3" fill="#3997da"/><rect x="300.0" y="445.0" width="2.3" height="2.3" fill="#3791d8"/><rect x="302.0" y="445.0" width="2.3" height="2.3" fill="#3689d5"/><rect x="304.0" y="445.0" width="2.3" height="2.3" fill="#357ed0"/><rect x="306.0" y="445.0" width="2.3" height="2.3" fill="#3269c5"/><rect x="308.0" y="445.0" width="2.3" height="2.3" fill="#2f53b8"/><rect x="310.0" y="445.0" width="2.3" height="2.3" fill="#2d3da7"/><rect x="312.0" y="445.0" width="2.3" height="2.3" fill="#353ca6"/><rect x="314.0" y="445.0" width="2.3" height="2.3" fill="#593cad"/><rect x="316.0" y="445.0" width="2.3" height="2.3" fill="#783cb1"/><rect x="318.0" y="445.0" width="2.3" height="2.3" fill="#943db1"/><rect x="320.0" y="445.0" width="2.3" height="2.3" fill="#ac3eb0"/><rect x="322.0" y="445.0" width="2.3" height="2.3" fill="#c03fb0"/><rect x="324.0" y="445.0" width="2.3" height="2.3" fill="#ca40ad"/><rect x="326.0" y="445.0" width="2.3" height="2.3" fill="#cf40a8"/><rect x="328.0" y="445.0" width="2.3" height="2.3" fill="#d340a4"/><rect x="330.0" y="445.0" width="2.3" height="2.3" fill="#d640a1"/><rect x="332.0" y="445.0" width="2.3" height="2.3" fill="#d9409e"/><rect x="334.0" y="445.0" width="2.3" height="2.3" fill="#dc409b"/><rect x="336.0" y="445.0" width="2.3" height="2.3" fill="#df4098"/><rect x="338.0" y="445.0" width="2.3" height="2.3" fill="#e14096"/><rect x="340.0" y="445.0" width="2.3" height="2.3" fill="#e23e90"/><rect x="342.0" y="445.0" width="2.3" height="2.3" fill="#e23d8a"/><rect x="344.0" y="445.0" width="2.3" height="2.3" fill="#e23c84"/><rect x="346.0" y="445.0" width="2.3" height="2.3" fill="#e23b7f"/><rect x="348.0" y="445.0" width="2.3" height="2.3" fill="#e23a7a"/><rect x="350.0" y="445.0" width="2.3" height="2.3" fill="#e23a75"/><rect x="352.0" y="445.0" width="2.3" height="2.3" fill="#e23971"/><rect x="354.0" y="445.0" width="2.3" height="2.3" fill="#e2386d"/><rect x="356.0" y="445.0" width="2.3" height="2.3" fill="#e23869"/><rect x="358.0" y="445.0" width="2.3" height="2.3" fill="#e23766"/><rect x="360.0" y="445.0" width="2.3" height="2.3" fill="#e33662"/><rect x="362.0" y="445.0" width="2.3" height="2.3" fill="#e3365f"/><rect x="286.0" y="447.0" width="2.3" height="2.3" fill="#3ba5df"/><rect x="288.0" y="447.0" width="2.3" height="2.3" fill="#3ba3de"/><rect x="290.0" y="447.0" width="2.3" height="2.3" fill="#3aa0dd"/><rect x="292.0" y="447.0" width="2.3" height="2.3" fill="#3a9ddc"/><rect x="294.0" y="447.0" width="2.3" height="2.3" fill="#3998db"/><rect x="296.0" y="447.0" width="2.3" height="2.3" fill="#3893d9"/><rect x="298.0" y="447.0" width="2.3" height="2.3" fill="#378dd7"/><rect x="300.0" y="447.0" width="2.3" height="2.3" fill="#3685d3"/><rect x="302.0" y="447.0" width="2.3" height="2.3" fill="#347bce"/><rect x="304.0" y="447.0" width="2.3" height="2.3" fill="#326ac6"/><rect x="306.0" y="447.0" width="2.3" height="2.3" fill="#2f56bb"/><rect x="308.0" y="447.0" width="2.3" height="2.3" fill="#2d42ab"/><rect x="310.0" y="447.0" width="2.3" height="2.3" fill="#2d3da7"/><rect x="312.0" y="447.0" width="2.3" height="2.3" fill="#413ca9"/><rect x="314.0" y="447.0" width="2.3" height="2.3" fill="#5d3cae"/><rect x="316.0" y="447.0" width="2.3" height="2.3" fill="#773cb1"/><rect x="318.0" y="447.0" width="2.3" height="2.3" fill="#8f3db1"/><rect x="320.0" y="447.0" width="2.3" height="2.3" fill="#a33eb0"/><rect x="322.0" y="447.0" width="2.3" height="2.3" fill="#b53fb0"/><rect x="324.0" y="447.0" width="2.3" height="2.3" fill="#c53fb0"/><rect x="326.0" y="447.0" width="2.3" height="2.3" fill="#cb40ac"/><rect x="328.0" y="447.0" width="2.3" height="2.3" fill="#cf40a8"/><rect x="330.0" y="447.0" width="2.3" height="2.3" fill="#d240a5"/><rect x="332.0" y="447.0" width="2.3" height="2.3" fill="#d540a2"/><rect x="334.0" y="447.0" width="2.3" height="2.3" fill="#d8409f"/><rect x="336.0" y="447.0" width="2.3" height="2.3" fill="#da409d"/><rect x="338.0" y="447.0" width="2.3" height="2.3" fill="#dc409b"/><rect x="340.0" y="447.0" width="2.3" height="2.3" fill="#df4098"/><rect x="342.0" y="447.0" width="2.3" height="2.3" fill="#e14096"/><rect x="344.0" y="447.0" width="2.3" height="2.3" fill="#e23f93"/><rect x="346.0" y="447.0" width="2.3" height="2.3" fill="#e23e8d"/><rect x="348.0" y="447.0" width="2.3" height="2.3" fill="#e23d88"/><rect x="350.0" y="447.0" width="2.3" height="2.3" fill="#e23c84"/><rect x="352.0" y="447.0" width="2.3" height="2.3" fill="#e23b7f"/><rect x="354.0" y="447.0" width="2.3" height="2.3" fill="#e23b7b"/><rect x="356.0" y="447.0" width="2.3" height="2.3" fill="#e23a77"/><rect x="358.0" y="447.0" width="2.3" height="2.3" fill="#e23973"/><rect x="360.0" y="447.0" width="2.3" height="2.3" fill="#e23970"/><rect x="362.0" y="447.0" width="2.3" height="2.3" fill="#e2386d"/><rect x="286.0" y="449.0" width="2.3" height="2.3" fill="#3aa0dd"/><rect x="288.0" y="449.0" width="2.3" height="2.3" fill="#3a9ddc"/><rect x="290.0" y="449.0" width="2.3" height="2.3" fill="#3999db"/><rect x="292.0" y="449.0" width="2.3" height="2.3" fill="#3895da"/><rect x="294.0" y="449.0" width="2.3" height="2.3" fill="#3790d8"/><rect x="296.0" y="449.0" width="2.3" height="2.3" fill="#368ad6"/><rect x="298.0" y="449.0" width="2.3" height="2.3" fill="#3583d2"/><rect x="300.0" y="449.0" width="2.3" height="2.3" fill="#3479cd"/><rect x="302.0" y="449.0" width="2.3" height="2.3" fill="#326ac6"/><rect x="304.0" y="449.0" width="2.3" height="2.3" fill="#2f59bd"/><rect x="306.0" y="449.0" width="2.3" height="2.3" fill="#2e4cb3"/><rect x="308.0" y="449.0" width="2.3" height="2.3" fill="#2d3da7"/><rect x="310.0" y="449.0" width="2.3" height="2.3" fill="#2d3ca5"/><rect x="312.0" y="449.0" width="2.3" height="2.3" fill="#483caa"/><rect x="314.0" y="449.0" width="2.3" height="2.3" fill="#603caf"/><rect x="316.0" y="449.0" width="2.3" height="2.3" fill="#763cb1"/><rect x="318.0" y="449.0" width="2.3" height="2.3" fill="#8a3db1"/><rect x="320.0" y="449.0" width="2.3" height="2.3" fill="#9d3eb0"/><rect x="322.0" y="449.0" width="2.3" height="2.3" fill="#ad3eb0"/><rect x="324.0" y="449.0" width="2.3" height="2.3" fill="#bb3fb0"/><rect x="326.0" y="449.0" width="2.3" height="2.3" fill="#c840af"/><rect x="328.0" y="449.0" width="2.3" height="2.3" fill="#cb40ac"/><rect x="330.0" y="449.0" width="2.3" height="2.3" fill="#ce40a9"/><rect x="332.0" y="449.0" width="2.3" height="2.3" fill="#d140a6"/><rect x="334.0" y="449.0" width="2.3" height="2.3" fill="#d440a3"/><rect x="336.0" y="449.0" width="2.3" height="2.3" fill="#d640a1"/><rect x="338.0" y="449.0" width="2.3" height="2.3" fill="#d9409e"/><rect x="340.0" y="449.0" width="2.3" height="2.3" fill="#db409c"/><rect x="342.0" y="449.0" width="2.3" height="2.3" fill="#dd409a"/><rect x="344.0" y="449.0" width="2.3" height="2.3" fill="#de4099"/><rect x="346.0" y="449.0" width="2.3" height="2.3" fill="#e04097"/><rect x="348.0" y="449.0" width="2.3" height="2.3" fill="#e23f95"/><rect x="350.0" y="449.0" width="2.3" height="2.3" fill="#e23f90"/><rect x="352.0" y="449.0" width="2.3" height="2.3" fill="#e23e8c"/><rect x="354.0" y="449.0" width="2.3" height="2.3" fill="#e23d87"/><rect x="356.0" y="449.0" width="2.3" height="2.3" fill="#e23c83"/><rect x="358.0" y="449.0" width="2.3" height="2.3" fill="#e23c80"/><rect x="360.0" y="449.0" width="2.3" height="2.3" fill="#e23b7c"/><rect x="362.0" y="449.0" width="2.3" height="2.3" fill="#e23a79"/><rect x="286.0" y="451.0" width="2.3" height="2.3" fill="#399adb"/><rect x="288.0" y="451.0" width="2.3" height="2.3" fill="#3896da"/><rect x="290.0" y="451.0" width="2.3" height="2.3" fill="#3892d9"/><rect x="292.0" y="451.0" width="2.3" height="2.3" fill="#378dd7"/><rect x="294.0" y="451.0" width="2.3" height="2.3" fill="#3688d5"/><rect x="296.0" y="451.0" width="2.3" height="2.3" fill="#3581d1"/><rect x="298.0" y="451.0" width="2.3" height="2.3" fill="#3478cd"/><rect x="300.0" y="451.0" width="2.3" height="2.3" fill="#326bc6"/><rect x="302.0" y="451.0" width="2.3" height="2.3" fill="#305bbe"/><rect x="304.0" y="451.0" width="2.3" height="2.3" fill="#2e4fb6"/><rect x="306.0" y="451.0" width="2.3" height="2.3" fill="#2d3da7"/><rect x="308.0" y="451.0" width="2.3" height="2.3" fill="#2d3da7"/><rect x="310.0" y="451.0" width="2.3" height="2.3" fill="#373ca7"/><rect x="312.0" y="451.0" width="2.3" height="2.3" fill="#4e3cab"/><rect x="314.0" y="451.0" width="2.3" height="2.3" fill="#623caf"/><rect x="316.0" y="451.0" width="2.3" height="2.3" fill="#753cb1"/><rect x="318.0" y="451.0" width="2.3" height="2.3" fill="#873db1"/><rect x="320.0" y="451.0" width="2.3" height="2.3" fill="#973db1"/><rect x="322.0" y="451.0" width="2.3" height="2.3" fill="#a63eb0"/><rect x="324.0" y="451.0" width="2.3" height="2.3" fill="#b43fb0"/><rect x="326.0" y="451.0" width="2.3" height="2.3" fill="#c03fb0"/><rect x="328.0" y="451.0" width="2.3" height="2.3" fill="#c840af"/><rect x="330.0" y="451.0" width="2.3" height="2.3" fill="#cb40ac"/><rect x="332.0" y="451.0" width="2.3" height="2.3" fill="#ce40a9"/><rect x="334.0" y="451.0" width="2.3" height="2.3" fill="#d140a6"/><rect x="336.0" y="451.0" width="2.3" height="2.3" fill="#d340a4"/><rect x="338.0" y="451.0" width="2.3" height="2.3" fill="#d540a2"/><rect x="340.0" y="451.0" width="2.3" height="2.3" fill="#d740a0"/><rect x="342.0" y="451.0" width="2.3" height="2.3" fill="#d9409e"/><rect x="344.0" y="451.0" width="2.3" height="2.3" fill="#db409c"/><rect x="346.0" y="451.0" width="2.3" height="2.3" fill="#dd409a"/><rect x="348.0" y="451.0" width="2.3" height="2.3" fill="#de4099"/><rect x="350.0" y="451.0" width="2.3" height="2.3" fill="#e04097"/><rect x="352.0" y="451.0" width="2.3" height="2.3" fill="#e14096"/><rect x="354.0" y="451.0" width="2.3" height="2.3" fill="#e23f92"/><rect x="356.0" y="451.0" width="2.3" height="2.3" fill="#e23e8e"/><rect x="358.0" y="451.0" width="2.3" height="2.3" fill="#e23d8a"/><rect x="360.0" y="451.0" width="2.3" height="2.3" fill="#e23d87"/><rect x="362.0" y="451.0" width="2.3" height="2.3" fill="#e23c83"/><rect x="286.0" y="453.0" width="2.3" height="2.3" fill="#3893d9"/><rect x="288.0" y="453.0" width="2.3" height="2.3" fill="#378fd8"/><rect x="290.0" y="453.0" width="2.3" height="2.3" fill="#368bd6"/><rect x="292.0" y="453.0" width="2.3" height="2.3" fill="#3686d4"/><rect x="294.0" y="453.0" width="2.3" height="2.3" fill="#3580d1"/><rect x="296.0" y="453.0" width="2.3" height="2.3" fill="#3476cc"/><rect x="298.0" y="453.0" width="2.3" height="2.3" fill="#326bc6"/><rect x="300.0" y="453.0" width="2.3" height="2.3" fill="#305dbf"/><rect x="302.0" y="453.0" width="2.3" height="2.3" fill="#2f52b8"/><rect x="304.0" y="453.0" width="2.3" height="2.3" fill="#2d44ad"/><rect x="306.0" y="453.0" width="2.3" height="2.3" fill="#2d3da7"/><rect x="308.0" y="453.0" width="2.3" height="2.3" fill="#2d3da6"/><rect x="310.0" y="453.0" width="2.3" height="2.3" fill="#3e3ca8"/><rect x="312.0" y="453.0" width="2.3" height="2.3" fill="#523cac"/><rect x="314.0" y="453.0" width="2.3" height="2.3" fill="#643cb0"/><rect x="316.0" y="453.0" width="2.3" height="2.3" fill="#753cb1"/><rect x="318.0" y="453.0" width="2.3" height="2.3" fill="#853db1"/><rect x="320.0" y="453.0" width="2.3" height="2.3" fill="#933db1"/><rect x="322.0" y="453.0" width="2.3" height="2.3" fill="#a13eb0"/><rect x="324.0" y="453.0" width="2.3" height="2.3" fill="#ad3eb0"/><rect x="326.0" y="453.0" width="2.3" height="2.3" fill="#b93fb0"/><rect x="328.0" y="453.0" width="2.3" height="2.3" fill="#c33fb0"/><rect x="330.0" y="453.0" width="2.3" height="2.3" fill="#c940ae"/><rect x="332.0" y="453.0" width="2.3" height="2.3" fill="#cc40ab"/><rect x="334.0" y="453.0" width="2.3" height="2.3" fill="#ce40a9"/><rect x="336.0" y="453.0" width="2.3" height="2.3" fill="#d040a7"/><rect x="338.0" y="453.0" width="2.3" height="2.3" fill="#d240a5"/><rect x="340.0" y="453.0" width="2.3" height="2.3" fill="#d440a3"/><rect x="342.0" y="453.0" width="2.3" height="2.3" fill="#d640a1"/><rect x="344.0" y="453.0" width="2.3" height="2.3" fill="#d8409f"/><rect x="346.0" y="453.0" width="2.3" height="2.3" fill="#da409d"/><rect x="348.0" y="453.0" width="2.3" height="2.3" fill="#db409c"/><rect x="350.0" y="453.0" width="2.3" height="2.3" fill="#dd409a"/><rect x="352.0" y="453.0" width="2.3" height="2.3" fill="#de4099"/><rect x="354.0" y="453.0" width="2.3" height="2.3" fill="#e04097"/><rect x="356.0" y="453.0" width="2.3" height="2.3" fill="#e14096"/><rect x="358.0" y="453.0" width="2.3" height="2.3" fill="#e23f94"/><rect x="360.0" y="453.0" width="2.3" height="2.3" fill="#e23f90"/><rect x="362.0" y="453.0" width="2.3" height="2.3" fill="#e23e8d"/><rect x="286.0" y="455.0" width="2.3" height="2.3" fill="#378dd7"/><rect x="288.0" y="455.0" width="2.3" height="2.3" fill="#3689d5"/><rect x="290.0" y="455.0" width="2.3" height="2.3" fill="#3584d3"/><rect x="292.0" y="455.0" width="2.3" height="2.3" fill="#357ed0"/><rect x="294.0" y="455.0" width="2.3" height="2.3" fill="#3376cc"/><rect x="296.0" y="455.0" width="2.3" height="2.3" fill="#326bc6"/><rect x="298.0" y="455.0" width="2.3" height="2.3" fill="#305fc0"/><rect x="300.0" y="455.0" width="2.3" height="2.3" fill="#2f54ba"/><rect x="302.0" y="455.0" width="2.3" height="2.3" fill="#2e4ab2"/><rect x="304.0" y="455.0" width="2.3" height="2.3" fill="#2d3da7"/><rect x="306.0" y="455.0" width="2.3" height="2.3" fill="#2d3da7"/><rect x="308.0" y="455.0" width="2.3" height="2.3" fill="#303ca5"/><rect x="310.0" y="455.0" width="2.3" height="2.3" fill="#443ca9"/><rect x="312.0" y="455.0" width="2.3" height="2.3" fill="#553cad"/><rect x="314.0" y="455.0" width="2.3" height="2.3" fill="#653cb0"/><rect x="316.0" y="455.0" width="2.3" height="2.3" fill="#743cb1"/><rect x="318.0" y="455.0" width="2.3" height="2.3" fill="#833cb1"/><rect x="320.0" y="455.0" width="2.3" height="2.3" fill="#903db1"/><rect x="322.0" y="455.0" width="2.3" height="2.3" fill="#9d3eb0"/><rect x="324.0" y="455.0" width="2.3" height="2.3" fill="#a83eb0"/><rect x="326.0" y="455.0" width="2.3" height="2.3" fill="#b33fb0"/><rect x="328.0" y="455.0" width="2.3" height="2.3" fill="#bc3fb0"/><rect x="330.0" y="455.0" width="2.3" height="2.3" fill="#c63fb0"/><rect x="332.0" y="455.0" width="2.3" height="2.3" fill="#c940ae"/><rect x="334.0" y="455.0" width="2.3" height="2.3" fill="#cc40ab"/><rect x="336.0" y="455.0" width="2.3" height="2.3" fill="#ce40a9"/><rect x="338.0" y="455.0" width="2.3" height="2.3" fill="#d040a7"/><rect x="340.0" y="455.0" width="2.3" height="2.3" fill="#d240a5"/><rect x="342.0" y="455.0" width="2.3" height="2.3" fill="#d440a3"/><rect x="344.0" y="455.0" width="2.3" height="2.3" fill="#d540a2"/><rect x="346.0" y="455.0" width="2.3" height="2.3" fill="#d740a0"/><rect x="348.0" y="455.0" width="2.3" height="2.3" fill="#d9409e"/><rect x="350.0" y="455.0" width="2.3" height="2.3" fill="#da409d"/><rect x="352.0" y="455.0" width="2.3" height="2.3" fill="#dc409b"/><rect x="354.0" y="455.0" width="2.3" height="2.3" fill="#dd409a"/><rect x="356.0" y="455.0" width="2.3" height="2.3" fill="#de4099"/><rect x="358.0" y="455.0" width="2.3" height="2.3" fill="#df4098"/><rect x="360.0" y="455.0" width="2.3" height="2.3" fill="#e04097"/><rect x="362.0" y="455.0" width="2.3" height="2.3" fill="#e23f95"/><rect x="286.0" y="457.0" width="2.3" height="2.3" fill="#3687d4"/><rect x="288.0" y="457.0" width="2.3" height="2.3" fill="#3583d2"/><rect x="290.0" y="457.0" width="2.3" height="2.3" fill="#357dcf"/><rect x="292.0" y="457.0" width="2.3" height="2.3" fill="#3375cb"/><rect x="294.0" y="457.0" width="2.3" height="2.3" fill="#326bc6"/><rect x="296.0" y="457.0" width="2.3" height="2.3" fill="#3060c1"/><rect x="298.0" y="457.0" width="2.3" height="2.3" fill="#2f56bb"/><rect x="300.0" y="457.0" width="2.3" height="2.3" fill="#2e4eb4"/><rect x="302.0" y="457.0" width="2.3" height="2.3" fill="#2d3fa9"/><rect x="304.0" y="457.0" width="2.3" height="2.3" fill="#2d3da7"/><rect x="306.0" y="457.0" width="2.3" height="2.3" fill="#2d3da7"/><rect x="308.0" y="457.0" width="2.3" height="2.3" fill="#373ca7"/><rect x="310.0" y="457.0" width="2.3" height="2.3" fill="#483caa"/><rect x="312.0" y="457.0" width="2.3" height="2.3" fill="#583cad"/><rect x="314.0" y="457.0" width="2.3" height="2.3" fill="#663cb0"/><rect x="316.0" y="457.0" width="2.3" height="2.3" fill="#743cb1"/><rect x="318.0" y="457.0" width="2.3" height="2.3" fill="#813cb1"/><rect x="320.0" y="457.0" width="2.3" height="2.3" fill="#8d3db1"/><rect x="322.0" y="457.0" width="2.3" height="2.3" fill="#993db1"/><rect x="324.0" y="457.0" width="2.3" height="2.3" fill="#a43eb0"/><rect x="326.0" y="457.0" width="2.3" height="2.3" fill="#ae3eb0"/><rect x="328.0" y="457.0" width="2.3" height="2.3" fill="#b73fb0"/><rect x="330.0" y="457.0" width="2.3" height="2.3" fill="#c03fb0"/><rect x="332.0" y="457.0" width="2.3" height="2.3" fill="#c840af"/><rect x="334.0" y="457.0" width="2.3" height="2.3" fill="#ca40ad"/><rect x="336.0" y="457.0" width="2.3" height="2.3" fill="#cc40ab"/><rect x="338.0" y="457.0" width="2.3" height="2.3" fill="#ce40a9"/><rect x="340.0" y="457.0" width="2.3" height="2.3" fill="#d040a7"/><rect x="342.0" y="457.0" width="2.3" height="2.3" fill="#d240a5"/><rect x="344.0" y="457.0" width="2.3" height="2.3" fill="#d340a4"/><rect x="346.0" y="457.0" width="2.3" height="2.3" fill="#d540a2"/><rect x="348.0" y="457.0" width="2.3" height="2.3" fill="#d640a1"/><rect x="350.0" y="457.0" width="2.3" height="2.3" fill="#d8409f"/><rect x="352.0" y="457.0" width="2.3" height="2.3" fill="#d9409e"/><rect x="354.0" y="457.0" width="2.3" height="2.3" fill="#da409d"/><rect x="356.0" y="457.0" width="2.3" height="2.3" fill="#dc409b"/><rect x="358.0" y="457.0" width="2.3" height="2.3" fill="#dd409a"/><rect x="360.0" y="457.0" width="2.3" height="2.3" fill="#de4099"/><rect x="362.0" y="457.0" width="2.3" height="2.3" fill="#df4098"/><rect x="286.0" y="459.0" width="2.3" height="2.3" fill="#3581d1"/><rect x="288.0" y="459.0" width="2.3" height="2.3" fill="#347ccf"/><rect x="290.0" y="459.0" width="2.3" height="2.3" fill="#3374cb"/><rect x="292.0" y="459.0" width="2.3" height="2.3" fill="#326bc6"/><rect x="294.0" y="459.0" width="2.3" height="2.3" fill="#3161c1"/><rect x="296.0" y="459.0" width="2.3" height="2.3" fill="#2f57bc"/><rect x="298.0" y="459.0" width="2.3" height="2.3" fill="#2e50b6"/><rect x="300.0" y="459.0" width="2.3" height="2.3" fill="#2d45ad"/><rect x="302.0" y="459.0" width="2.3" height="2.3" fill="#2d3da7"/><rect x="304.0" y="459.0" width="2.3" height="2.3" fill="#2d3da7"/><rect x="306.0" y="459.0" width="2.3" height="2.3" fill="#2d3ca5"/><rect x="308.0" y="459.0" width="2.3" height="2.3" fill="#3d3ca8"/><rect x="310.0" y="459.0" width="2.3" height="2.3" fill="#4c3cab"/><rect x="312.0" y="459.0" width="2.3" height="2.3" fill="#5a3cae"/><rect x="314.0" y="459.0" width="2.3" height="2.3" fill="#673cb0"/><rect x="316.0" y="459.0" width="2.3" height="2.3" fill="#733cb1"/><rect x="318.0" y="459.0" width="2.3" height="2.3" fill="#803cb1"/><rect x="320.0" y="459.0" width="2.3" height="2.3" fill="#8b3db1"/><rect x="322.0" y="459.0" width="2.3" height="2.3" fill="#963db1"/><rect x="324.0" y="459.0" width="2.3" height="2.3" fill="#a03eb0"/><rect x="326.0" y="459.0" width="2.3" height="2.3" fill="#a93eb0"/><rect x="328.0" y="459.0" width="2.3" height="2.3" fill="#b23fb0"/><rect x="330.0" y="459.0" width="2.3" height="2.3" fill="#ba3fb0"/><rect x="332.0" y="459.0" width="2.3" height="2.3" fill="#c23fb0"/><rect x="334.0" y="459.0" width="2.3" height="2.3" fill="#c840af"/><rect x="336.0" y="459.0" width="2.3" height="2.3" fill="#ca40ad"/><rect x="338.0" y="459.0" width="2.3" height="2.3" fill="#cc40ab"/><rect x="340.0" y="459.0" width="2.3" height="2.3" fill="#ce40a9"/><rect x="342.0" y="459.0" width="2.3" height="2.3" fill="#d040a7"/><rect x="344.0" y="459.0" width="2.3" height="2.3" fill="#d140a6"/><rect x="346.0" y="459.0" width="2.3" height="2.3" fill="#d340a4"/><rect x="348.0" y="459.0" width="2.3" height="2.3" fill="#d440a3"/><rect x="350.0" y="459.0" width="2.3" height="2.3" fill="#d640a1"/><rect x="352.0" y="459.0" width="2.3" height="2.3" fill="#d740a0"/><rect x="354.0" y="459.0" width="2.3" height="2.3" fill="#d8409f"/><rect x="356.0" y="459.0" width="2.3" height="2.3" fill="#da409d"/><rect x="358.0" y="459.0" width="2.3" height="2.3" fill="#db409c"/><rect x="360.0" y="459.0" width="2.3" height="2.3" fill="#dc409b"/><rect x="362.0" y="459.0" width="2.3" height="2.3" fill="#dd409a"/><rect x="286.0" y="461.0" width="2.3" height="2.3" fill="#347bce"/><rect x="288.0" y="461.0" width="2.3" height="2.3" fill="#3374cb"/><rect x="290.0" y="461.0" width="2.3" height="2.3" fill="#326bc6"/><rect x="292.0" y="461.0" width="2.3" height="2.3" fill="#3162c2"/><rect x="294.0" y="461.0" width="2.3" height="2.3" fill="#2f59bd"/><rect x="296.0" y="461.0" width="2.3" height="2.3" fill="#2f52b8"/><rect x="298.0" y="461.0" width="2.3" height="2.3" fill="#2e4ab1"/><rect x="300.0" y="461.0" width="2.3" height="2.3" fill="#2d3da7"/><rect x="302.0" y="461.0" width="2.3" height="2.3" fill="#2d3da7"/><rect x="304.0" y="461.0" width="2.3" height="2.3" fill="#2d3da7"/><rect x="306.0" y="461.0" width="2.3" height="2.3" fill="#333ca6"/><rect x="308.0" y="461.0" width="2.3" height="2.3" fill="#413ca9"/><rect x="310.0" y="461.0" width="2.3" height="2.3" fill="#4f3cab"/><rect x="312.0" y="461.0" width="2.3" height="2.3" fill="#5c3cae"/><rect x="314.0" y="461.0" width="2.3" height="2.3" fill="#683cb0"/><rect x="316.0" y="461.0" width="2.3" height="2.3" fill="#733cb1"/><rect x="318.0" y="461.0" width="2.3" height="2.3" fill="#7f3cb1"/><rect x="320.0" y="461.0" width="2.3" height="2.3" fill="#893db1"/><rect x="322.0" y="461.0" width="2.3" height="2.3" fill="#933db1"/><rect x="324.0" y="461.0" width="2.3" height="2.3" fill="#9d3eb0"/><rect x="326.0" y="461.0" width="2.3" height="2.3" fill="#a53eb0"/><rect x="328.0" y="461.0" width="2.3" height="2.3" fill="#ae3eb0"/><rect x="330.0" y="461.0" width="2.3" height="2.3" fill="#b63fb0"/><rect x="332.0" y="461.0" width="2.3" height="2.3" fill="#bd3fb0"/><rect x="334.0" y="461.0" width="2.3" height="2.3" fill="#c43fb0"/><rect x="336.0" y="461.0" width="2.3" height="2.3" fill="#c840af"/><rect x="338.0" y="461.0" width="2.3" height="2.3" fill="#ca40ad"/><rect x="340.0" y="461.0" width="2.3" height="2.3" fill="#cc40ab"/><rect x="342.0" y="461.0" width="2.3" height="2.3" fill="#ce40a9"/><rect x="344.0" y="461.0" width="2.3" height="2.3" fill="#cf40a8"/><rect x="346.0" y="461.0" width="2.3" height="2.3" fill="#d140a6"/><rect x="348.0" y="461.0" width="2.3" height="2.3" fill="#d240a5"/><rect x="350.0" y="461.0" width="2.3" height="2.3" fill="#d440a3"/><rect x="352.0" y="461.0" width="2.3" height="2.3" fill="#d540a2"/><rect x="354.0" y="461.0" width="2.3" height="2.3" fill="#d640a1"/><rect x="356.0" y="461.0" width="2.3" height="2.3" fill="#d8409f"/><rect x="358.0" y="461.0" width="2.3" height="2.3" fill="#d9409e"/><rect x="360.0" y="461.0" width="2.3" height="2.3" fill="#da409d"/><rect x="362.0" y="461.0" width="2.3" height="2.3" fill="#db409c"/><rect x="286.0" y="463.0" width="2.3" height="2.3" fill="#3373ca"/><rect x="288.0" y="463.0" width="2.3" height="2.3" fill="#326bc6"/><rect x="290.0" y="463.0" width="2.3" height="2.3" fill="#3163c2"/><rect x="292.0" y="463.0" width="2.3" height="2.3" fill="#305abe"/><rect x="294.0" y="463.0" width="2.3" height="2.3" fill="#2f54b9"/><rect x="296.0" y="463.0" width="2.3" height="2.3" fill="#2e4db4"/><rect x="298.0" y="463.0" width="2.3" height="2.3" fill="#2d41aa"/><rect x="300.0" y="463.0" width="2.3" height="2.3" fill="#2d3da7"/><rect x="302.0" y="463.0" width="2.3" height="2.3" fill="#2d3da7"/><rect x="304.0" y="463.0" width="2.3" height="2.3" fill="#2d3da6"/><rect x="306.0" y="463.0" width="2.3" height="2.3" fill="#383ca7"/><rect x="308.0" y="463.0" width="2.3" height="2.3" fill="#453ca9"/><rect x="310.0" y="463.0" width="2.3" height="2.3" fill="#523cac"/><rect x="312.0" y="463.0" width="2.3" height="2.3" fill="#5d3cae"/><rect x="314.0" y="463.0" width="2.3" height="2.3" fill="#683cb0"/><rect x="316.0" y="463.0" width="2.3" height="2.3" fill="#733cb1"/><rect x="318.0" y="463.0" width="2.3" height="2.3" fill="#7e3cb1"/><rect x="320.0" y="463.0" width="2.3" height="2.3" fill="#883db1"/><rect x="322.0" y="463.0" width="2.3" height="2.3" fill="#913db1"/><rect x="324.0" y="463.0" width="2.3" height="2.3" fill="#9a3db1"/><rect x="326.0" y="463.0" width="2.3" height="2.3" fill="#a23eb0"/><rect x="328.0" y="463.0" width="2.3" height="2.3" fill="#aa3eb0"/><rect x="330.0" y="463.0" width="2.3" height="2.3" fill="#b23fb0"/><rect x="332.0" y="463.0" width="2.3" height="2.3" fill="#b93fb0"/><rect x="334.0" y="463.0" width="2.3" height="2.3" fill="#c03fb0"/><rect x="336.0" y="463.0" width="2.3" height="2.3" fill="#c63fb0"/><rect x="338.0" y="463.0" width="2.3" height="2.3" fill="#c940ae"/><rect x="340.0" y="463.0" width="2.3" height="2.3" fill="#cb40ac"/><rect x="342.0" y="463.0" width="2.3" height="2.3" fill="#cc40ab"/><rect x="344.0" y="463.0" width="2.3" height="2.3" fill="#ce40a9"/><rect x="346.0" y="463.0" width="2.3" height="2.3" fill="#cf40a8"/><rect x="348.0" y="463.0" width="2.3" height="2.3" fill="#d140a6"/><rect x="350.0" y="463.0" width="2.3" height="2.3" fill="#d240a5"/><rect x="352.0" y="463.0" width="2.3" height="2.3" fill="#d340a4"/><rect x="354.0" y="463.0" width="2.3" height="2.3" fill="#d540a2"/><rect x="356.0" y="463.0" width="2.3" height="2.3" fill="#d640a1"/><rect x="358.0" y="463.0" width="2.3" height="2.3" fill="#d740a0"/><rect x="360.0" y="463.0" width="2.3" height="2.3" fill="#d8409f"/><rect x="362.0" y="463.0" width="2.3" height="2.3" fill="#d9409e"/><rect x="286.0" y="465.0" width="2.3" height="2.3" fill="#326cc7"/><rect x="288.0" y="465.0" width="2.3" height="2.3" fill="#3164c3"/><rect x="290.0" y="465.0" width="2.3" height="2.3" fill="#305bbe"/><rect x="292.0" y="465.0" width="2.3" height="2.3" fill="#2f55ba"/><rect x="294.0" y="465.0" width="2.3" height="2.3" fill="#2e4fb5"/><rect x="296.0" y="465.0" width="2.3" height="2.3" fill="#2d46ae"/><rect x="298.0" y="465.0" width="2.3" height="2.3" fill="#2d3da7"/><rect x="300.0" y="465.0" width="2.3" height="2.3" fill="#2d3da7"/><rect x="302.0" y="465.0" width="2.3" height="2.3" fill="#2d3da7"/><rect x="304.0" y="465.0" width="2.3" height="2.3" fill="#2f3ca5"/><rect x="306.0" y="465.0" width="2.3" height="2.3" fill="#3c3ca8"/><rect x="308.0" y="465.0" width="2.3" height="2.3" fill="#483caa"/><rect x="310.0" y="465.0" width="2.3" height="2.3" fill="#543cac"/><rect x="312.0" y="465.0" width="2.3" height="2.3" fill="#5f3caf"/><rect x="314.0" y="465.0" width="2.3" height="2.3" fill="#693cb1"/><rect x="316.0" y="465.0" width="2.3" height="2.3" fill="#733cb1"/><rect x="318.0" y="465.0" width="2.3" height="2.3" fill="#7d3cb1"/><rect x="320.0" y="465.0" width="2.3" height="2.3" fill="#863db1"/><rect x="322.0" y="465.0" width="2.3" height="2.3" fill="#8f3db1"/><rect x="324.0" y="465.0" width="2.3" height="2.3" fill="#973db1"/><rect x="326.0" y="465.0" width="2.3" height="2.3" fill="#9f3eb0"/><rect x="328.0" y="465.0" width="2.3" height="2.3" fill="#a73eb0"/><rect x="330.0" y="465.0" width="2.3" height="2.3" fill="#ae3eb0"/><rect x="332.0" y="465.0" width="2.3" height="2.3" fill="#b53fb0"/><rect x="334.0" y="465.0" width="2.3" height="2.3" fill="#bb3fb0"/><rect x="336.0" y="465.0" width="2.3" height="2.3" fill="#c23fb0"/><rect x="338.0" y="465.0" width="2.3" height="2.3" fill="#c73fb0"/><rect x="340.0" y="465.0" width="2.3" height="2.3" fill="#c940ae"/><rect x="342.0" y="465.0" width="2.3" height="2.3" fill="#cb40ac"/><rect x="344.0" y="465.0" width="2.3" height="2.3" fill="#cc40ab"/><rect x="346.0" y="465.0" width="2.3" height="2.3" fill="#ce40a9"/><rect x="348.0" y="465.0" width="2.3" height="2.3" fill="#cf40a8"/><rect x="350.0" y="465.0" width="2.3" height="2.3" fill="#d040a7"/><rect x="352.0" y="465.0" width="2.3" height="2.3" fill="#d240a5"/><rect x="354.0" y="465.0" width="2.3" height="2.3" fill="#d340a4"/><rect x="356.0" y="465.0" width="2.3" height="2.3" fill="#d440a3"/><rect x="358.0" y="465.0" width="2.3" height="2.3" fill="#d540a2"/><rect x="360.0" y="465.0" width="2.3" height="2.3" fill="#d640a1"/><rect x="362.0" y="465.0" width="2.3" height="2.3" fill="#d740a0"/><rect x="286.0" y="467.0" width="2.3" height="2.3" fill="#3164c3"/><rect x="288.0" y="467.0" width="2.3" height="2.3" fill="#305cbf"/><rect x="290.0" y="467.0" width="2.3" height="2.3" fill="#2f56bb"/><rect x="292.0" y="467.0" width="2.3" height="2.3" fill="#2f50b6"/><rect x="294.0" y="467.0" width="2.3" height="2.3" fill="#2e49b1"/><rect x="296.0" y="467.0" width="2.3" height="2.3" fill="#2d3ea8"/><rect x="298.0" y="467.0" width="2.3" height="2.3" fill="#2d3da7"/><rect x="300.0" y="467.0" width="2.3" height="2.3" fill="#2d3da7"/><rect x="302.0" y="467.0" width="2.3" height="2.3" fill="#2d3da6"/><rect x="304.0" y="467.0" width="2.3" height="2.3" fill="#343ca6"/><rect x="306.0" y="467.0" width="2.3" height="2.3" fill="#403ca8"/><rect x="308.0" y="467.0" width="2.3" height="2.3" fill="#4b3cab"/><rect x="310.0" y="467.0" width="2.3" height="2.3" fill="#563cad"/><rect x="312.0" y="467.0" width="2.3" height="2.3" fill="#603caf"/><rect x="314.0" y="467.0" width="2.3" height="2.3" fill="#693cb1"/><rect x="316.0" y="467.0" width="2.3" height="2.3" fill="#733cb1"/><rect x="318.0" y="467.0" width="2.3" height="2.3" fill="#7c3cb1"/><rect x="320.0" y="467.0" width="2.3" height="2.3" fill="#853db1"/><rect x="322.0" y="467.0" width="2.3" height="2.3" fill="#8d3db1"/><rect x="324.0" y="467.0" width="2.3" height="2.3" fill="#953db1"/><rect x="326.0" y="467.0" width="2.3" height="2.3" fill="#9d3eb0"/><rect x="328.0" y="467.0" width="2.3" height="2.3" fill="#a43eb0"/><rect x="330.0" y="467.0" width="2.3" height="2.3" fill="#ab3eb0"/><rect x="332.0" y="467.0" width="2.3" height="2.3" fill="#b13fb0"/><rect x="334.0" y="467.0" width="2.3" height="2.3" fill="#b83fb0"/><rect x="336.0" y="467.0" width="2.3" height="2.3" fill="#be3fb0"/><rect x="338.0" y="467.0" width="2.3" height="2.3" fill="#c33fb0"/><rect x="340.0" y="467.0" width="2.3" height="2.3" fill="#c840af"/><rect x="342.0" y="467.0" width="2.3" height="2.3" fill="#c940ae"/><rect x="344.0" y="467.0" width="2.3" height="2.3" fill="#cb40ac"/><rect x="346.0" y="467.0" width="2.3" height="2.3" fill="#cc40ab"/><rect x="348.0" y="467.0" width="2.3" height="2.3" fill="#ce40a9"/><rect x="350.0" y="467.0" width="2.3" height="2.3" fill="#cf40a8"/><rect x="352.0" y="467.0" width="2.3" height="2.3" fill="#d040a7"/><rect x="354.0" y="467.0" width="2.3" height="2.3" fill="#d140a6"/><rect x="356.0" y="467.0" width="2.3" height="2.3" fill="#d340a4"/><rect x="358.0" y="467.0" width="2.3" height="2.3" fill="#d440a3"/><rect x="360.0" y="467.0" width="2.3" height="2.3" fill="#d540a2"/><rect x="362.0" y="467.0" width="2.3" height="2.3" fill="#d640a1"/></g></g>
<path d="M311.83,438.46 L317.50,434.23 L323.80,430.21 L329.05,428.20 L334.51,427.00 L340.81,425.99 L346.90,426.70 L353.31,429.01" fill="none" stroke="#222" stroke-width="0.7"/>
<circle cx="311.20" cy="437.25" r="0.9" fill="#3050c0"/>
<text x="308.50" y="432.80" font-size="3.6" font-weight="normal" text-anchor="middle" fill="#3a6ad0" font-family='"Liberation Sans", sans-serif' dominant-baseline="central" >0.24/0.30</text>
<text x="284.80" y="467.40" font-size="2.8" font-weight="normal" text-anchor="end" fill="#444" font-family='"Liberation Sans", sans-serif' dominant-baseline="central" >0</text>
<text x="284.80" y="457.35" font-size="2.8" font-weight="normal" text-anchor="end" fill="#444" font-family='"Liberation Sans", sans-serif' dominant-baseline="central" >0.1</text>
<text x="284.80" y="447.30" font-size="2.8" font-weight="normal" text-anchor="end" fill="#444" font-family='"Liberation Sans", sans-serif' dominant-baseline="central" >0.2</text>
<text x="284.80" y="437.25" font-size="2.8" font-weight="normal" text-anchor="end" fill="#444" font-family='"Liberation Sans", sans-serif' dominant-baseline="central" >0.3</text>
<text x="284.80" y="427.20" font-size="2.8" font-weight="normal" text-anchor="end" fill="#444" font-family='"Liberation Sans", sans-serif' dominant-baseline="central" >0.4</text>
<text x="284.80" y="417.15" font-size="2.8" font-weight="normal" text-anchor="end" fill="#444" font-family='"Liberation Sans", sans-serif' dominant-baseline="central" >0.5</text>
<text x="284.80" y="407.10" font-size="2.8" font-weight="normal" text-anchor="end" fill="#444" font-family='"Liberation Sans", sans-serif' dominant-baseline="central" >0.6</text>
<text x="284.80" y="397.05" font-size="2.8" font-weight="normal" text-anchor="end" fill="#444" font-family='"Liberation Sans", sans-serif' dominant-baseline="central" >0.7</text>
<text x="284.80" y="387.00" font-size="2.8" font-weight="normal" text-anchor="end" fill="#444" font-family='"Liberation Sans", sans-serif' dominant-baseline="central" >0.8</text>
<text x="284.80" y="376.95" font-size="2.8" font-weight="normal" text-anchor="end" fill="#444" font-family='"Liberation Sans", sans-serif' dominant-baseline="central" >0.9</text>
<text x="296.50" y="470.60" font-size="2.8" font-weight="normal" text-anchor="middle" fill="#444" font-family='"Liberation Sans", sans-serif' dominant-baseline="central" >0.1</text>
<text x="307.00" y="470.60" font-size="2.8" font-weight="normal" text-anchor="middle" fill="#444" font-family='"Liberation Sans", sans-serif' dominant-baseline="central" >0.2</text>
<text x="317.50" y="470.60" font-size="2.8" font-weight="normal" text-anchor="middle" fill="#444" font-family='"Liberation Sans", sans-serif' dominant-baseline="central" >0.3</text>
<text x="328.00" y="470.60" font-size="2.8" font-weight="normal" text-anchor="middle" fill="#444" font-family='"Liberation Sans", sans-serif' dominant-baseline="central" >0.4</text>
<text x="338.50" y="470.60" font-size="2.8" font-weight="normal" text-anchor="middle" fill="#444" font-family='"Liberation Sans", sans-serif' dominant-baseline="central" >0.5</text>
<text x="349.00" y="470.60" font-size="2.8" font-weight="normal" text-anchor="middle" fill="#444" font-family='"Liberation Sans", sans-serif' dominant-baseline="central" >0.6</text>
<text x="359.50" y="470.60" font-size="2.8" font-weight="normal" text-anchor="middle" fill="#444" font-family='"Liberation Sans", sans-serif' dominant-baseline="central" >0.7</text>
<text x="370.00" y="470.60" font-size="2.8" font-weight="normal" text-anchor="middle" fill="#444" font-family='"Liberation Sans", sans-serif' dominant-baseline="central" >0.8</text>
<text x="372.00" y="470.60" font-size="2.8" font-weight="normal" text-anchor="start" fill="#444" font-family='"Liberation Sans", sans-serif' dominant-baseline="central" >x</text>
<line x1="311.73" y1="437.25" x2="386.60" y2="389.20" stroke="#e03030" stroke-width="0.7" stroke-dasharray="1.2,0.9"/>
<line x1="311.73" y1="437.25" x2="386.60" y2="452.50" stroke="#e03030" stroke-width="0.7" stroke-dasharray="1.2,0.9"/>
<text x="399.20" y="377.30" font-size="14.2" font-weight="bold" fill="#111" font-family='"Liberation Sans", sans-serif' dominant-baseline="central" textLength="17.60" lengthAdjust="spacingAndGlyphs">(o)</text>
<g clip-path="url(#co1)"><rect x="386.6" y="389.2" width="73.4" height="63.3" fill="#3075c2"/><circle cx="423.5" cy="421.8" r="35.2" fill="#a4c8de" opacity="0.9"/><circle cx="423.5" cy="421.8" r="33.4" fill="url(#gbadge1)" stroke="#233a72" stroke-width="1.4"/><circle cx="423.5" cy="421.8" r="32.2" fill="none" stroke="#5a78a8" stroke-width="0.5"/><circle cx="423.5" cy="421.8" r="28.8" fill="none" stroke="#2c4a86" stroke-width="0.7"/><circle cx="423.5" cy="421.8" r="30.6" fill="none" stroke="#2c4070" stroke-width="1.8" stroke-dasharray="1.1,0.9" opacity="0.75"/><path d="M422.0,402.3 L425.0,402.3 L445.0,426.3 L437.0,426.3 L424.0,411.8 L411.0,426.3 L402.3,426.3Z" fill="#2b3f7c"/><circle cx="424.2" cy="404.40000000000003" r="1.9" fill="#50609c"/><circle cx="423.63" cy="403.83000000000004" r="0.76" fill="#8090c0" opacity="0.7"/><circle cx="421.7" cy="411.40000000000003" r="2.3" fill="#50609c"/><circle cx="421.01" cy="410.71000000000004" r="0.9199999999999999" fill="#8090c0" opacity="0.7"/><circle cx="425.7" cy="416.0" r="2.7" fill="#50609c"/><circle cx="424.89" cy="415.19" r="1.08" fill="#8090c0" opacity="0.7"/><circle cx="418.4" cy="421.1" r="3.0" fill="#50609c"/><circle cx="417.5" cy="420.20000000000005" r="1.2000000000000002" fill="#8090c0" opacity="0.7"/><text x="424.0" y="436.1" font-size="11.2" font-weight="bold" text-anchor="middle" fill="#2a4286" font-family='"Liberation Sans", sans-serif'>IPEC</text><text x="424.0" y="441.40000000000003" font-size="3.4" text-anchor="middle" fill="#2a4286" font-family='"Liberation Sans", sans-serif'>since 2004</text></g>
<rect x="386.60" y="389.20" width="73.40" height="63.30" fill="none" stroke="#e03030" stroke-width="0.8" stroke-dasharray="1,0.8"/>
<g clip-path="url(#co2)"><rect x="473.2" y="389.2" width="71.4" height="62.6" fill="#3a7cd0"/><circle cx="508.7" cy="421.1" r="35.2" fill="#a4c8de" opacity="0.9"/><circle cx="508.7" cy="421.1" r="33.4" fill="url(#gbadge2)" stroke="#233a72" stroke-width="1.4"/><circle cx="508.7" cy="421.1" r="32.2" fill="none" stroke="#5a78a8" stroke-width="0.5"/><circle cx="508.7" cy="421.1" r="28.8" fill="none" stroke="#2c4a86" stroke-width="0.7"/><circle cx="508.7" cy="421.1" r="30.6" fill="none" stroke="#2c4070" stroke-width="1.8" stroke-dasharray="1.1,0.9" opacity="0.75"/><path d="M507.2,401.6 L510.2,401.6 L530.2,425.6 L522.2,425.6 L509.2,411.1 L496.2,425.6 L487.5,425.6Z" fill="#2b3f7c"/><circle cx="509.4" cy="403.70000000000005" r="1.9" fill="#50609c"/><circle cx="508.83" cy="403.13000000000005" r="0.76" fill="#8090c0" opacity="0.7"/><circle cx="506.9" cy="410.70000000000005" r="2.3" fill="#50609c"/><circle cx="506.21" cy="410.01000000000005" r="0.9199999999999999" fill="#8090c0" opacity="0.7"/><circle cx="510.9" cy="415.3" r="2.7" fill="#50609c"/><circle cx="510.09" cy="414.49" r="1.08" fill="#8090c0" opacity="0.7"/><circle cx="503.59999999999997" cy="420.40000000000003" r="3.0" fill="#50609c"/><circle cx="502.7" cy="419.50000000000006" r="1.2000000000000002" fill="#8090c0" opacity="0.7"/><text x="509.2" y="435.40000000000003" font-size="11.2" font-weight="bold" text-anchor="middle" fill="#2a4286" font-family='"Liberation Sans", sans-serif'>IPEC</text><text x="509.2" y="440.70000000000005" font-size="3.4" text-anchor="middle" fill="#2a4286" font-family='"Liberation Sans", sans-serif'>since 2004</text></g>
<text x="427.80" y="464.70" font-size="9.1" font-weight="bold" text-anchor="middle" fill="#111" font-family='"Liberation Serif", serif' dominant-baseline="central" >ST-OSC 5 nm Ag</text>
<text x="513.60" y="464.70" font-size="9.1" font-weight="bold" text-anchor="middle" fill="#111" font-family='"Liberation Serif", serif' dominant-baseline="central" >Background</text></svg>
</body></html>
